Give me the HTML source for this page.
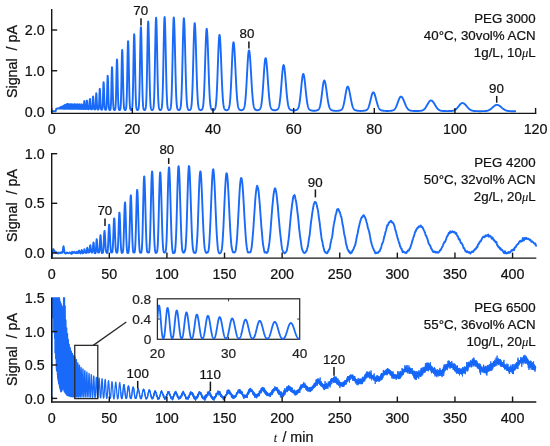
<!DOCTYPE html>
<html lang="en"><head><meta charset="utf-8"><title>PEG chromatograms</title>
<style>html,body{margin:0;padding:0;background:#fff}svg{display:block}</style></head>
<body>
<svg width="550" height="446" viewBox="0 0 550 446" font-family='"Liberation Sans", sans-serif'>
<rect width="550" height="446" fill="#fff"/>
<polyline fill="none" stroke="#196af8" stroke-width="1.90" stroke-linejoin="round" stroke-linecap="round" points="51.70,111.34 51.85,111.33 52.00,111.33 52.15,111.33 52.30,111.32 52.45,111.32 52.60,111.32 52.75,111.32 52.90,111.31 53.05,111.31 53.20,111.31 53.35,111.30 53.50,111.30 53.65,111.30 53.80,111.29 53.95,111.29 54.10,111.29 54.25,111.29 54.40,111.28 54.55,111.28 54.70,111.28 54.85,111.27 55.00,111.27 55.15,111.27 55.30,111.26 55.45,111.26 55.60,111.26 55.75,111.04 55.90,110.39 56.05,109.73 56.20,109.08 56.35,108.64 56.50,108.63 56.65,108.62 56.80,108.61 56.95,108.60 57.10,108.52 57.25,108.58 57.40,108.57 57.55,108.57 57.70,108.53 57.85,108.44 58.00,108.51 58.15,108.58 58.30,108.59 58.45,108.59 58.60,108.47 58.75,108.20 58.90,108.41 59.05,108.60 59.20,108.62 59.35,108.61 59.50,108.34 59.65,107.76 59.80,108.19 59.95,108.61 60.10,108.65 60.25,108.63 60.40,108.21 60.55,107.31 60.70,107.97 60.85,108.61 61.00,108.66 61.15,108.63 61.30,108.07 61.45,106.86 61.60,107.74 61.75,108.60 61.90,108.68 62.05,108.64 62.20,107.93 62.35,106.40 62.50,107.52 62.65,108.60 62.80,108.69 62.95,108.65 63.10,107.79 63.25,105.95 63.40,107.29 63.55,108.59 63.70,108.71 63.85,108.65 64.00,107.65 64.15,105.49 64.30,107.06 64.45,108.59 64.60,108.72 64.75,108.66 64.90,107.51 65.05,105.04 65.20,106.84 65.35,108.59 65.50,108.74 65.65,108.67 65.80,107.37 65.95,104.58 66.10,106.61 66.25,108.58 66.40,108.75 66.55,108.67 66.70,107.23 66.85,104.13 67.00,106.38 67.15,108.58 67.30,108.77 67.45,108.69 67.60,107.22 67.75,104.07 67.90,106.36 68.05,108.59 68.20,108.79 68.35,108.70 68.50,107.24 68.65,104.09 68.80,106.27 68.95,108.57 69.10,108.80 69.25,108.75 69.40,107.71 69.55,104.42 69.70,105.30 69.85,108.13 70.00,108.77 70.15,108.82 70.30,108.66 70.45,107.04 70.60,104.19 70.75,105.42 70.90,108.03 71.05,108.77 71.20,108.84 71.35,108.78 71.50,108.15 71.65,105.64 71.80,104.12 71.95,106.15 72.10,108.25 72.25,108.79 72.40,108.86 72.55,108.82 72.70,108.49 72.85,106.76 73.00,104.36 73.15,104.73 73.30,107.04 73.45,108.51 73.60,108.83 73.75,108.88 73.90,108.85 74.05,108.63 74.20,107.43 74.35,105.11 74.50,104.17 74.65,105.71 74.80,107.73 74.95,108.67 75.10,108.87 75.25,108.91 75.40,108.88 75.55,108.73 75.70,107.92 75.85,106.00 76.00,104.28 76.15,104.65 76.30,106.47 76.45,108.08 76.60,108.75 76.75,108.90 76.90,108.93 77.05,108.92 77.20,108.83 77.35,108.37 77.50,107.03 77.65,105.11 77.80,104.18 77.95,105.03 78.10,106.76 78.25,108.15 78.40,108.76 78.55,108.92 78.70,108.96 78.85,108.96 79.00,108.92 79.15,108.74 79.30,108.07 79.45,106.62 79.60,104.92 79.75,104.22 79.90,104.97 80.05,106.50 80.20,107.89 80.35,108.65 80.50,108.91 80.65,108.98 80.80,109.00 80.95,108.99 81.10,108.94 81.25,108.76 81.40,108.18 81.55,106.95 81.70,105.37 81.85,104.33 82.00,104.50 82.15,105.63 82.30,107.06 82.45,108.17 82.60,108.74 82.75,108.95 82.90,109.01 83.05,109.04 83.20,109.03 83.35,108.98 83.50,108.83 83.65,108.31 83.80,107.04 83.95,104.89 84.10,102.49 84.25,101.01 84.40,101.28 84.55,102.97 84.70,105.23 84.85,107.17 85.00,108.34 85.15,108.85 85.30,109.03 85.45,109.09 85.60,109.12 85.75,109.10 85.90,109.04 86.05,108.87 86.20,108.34 86.35,107.11 86.50,105.06 86.65,102.67 86.80,100.88 86.95,100.57 87.10,101.63 87.25,103.53 87.40,105.61 87.55,107.30 87.70,108.36 87.85,108.88 88.00,109.09 88.15,109.18 88.30,109.22 88.45,109.23 88.60,109.20 88.75,109.14 88.90,108.96 89.05,108.51 89.20,107.49 89.35,105.72 89.50,103.33 89.65,100.89 89.80,99.22 89.95,98.95 90.10,100.07 90.25,102.14 90.40,104.51 90.55,106.56 90.70,107.97 90.85,108.75 91.00,109.10 91.15,109.25 91.30,109.31 91.45,109.35 91.60,109.34 91.75,109.30 91.90,109.21 92.05,108.98 92.20,108.41 92.35,107.21 92.50,105.19 92.65,102.45 92.80,99.53 92.95,97.27 93.10,96.42 93.25,97.29 93.40,99.56 93.55,102.48 93.70,105.23 93.85,107.27 94.00,108.48 94.15,109.06 94.30,109.30 94.45,109.41 94.60,109.46 94.75,109.47 94.90,109.44 95.05,109.35 95.20,109.13 95.35,108.59 95.50,107.39 95.65,105.19 95.80,101.98 95.95,98.27 96.10,95.03 96.25,93.28 96.40,93.58 96.55,95.58 96.70,98.69 96.85,102.09 97.00,105.05 97.15,107.18 97.30,108.46 97.45,109.09 97.60,109.38 97.75,109.51 97.90,109.58 98.05,109.61 98.20,109.58 98.35,109.51 98.50,109.36 98.65,109.00 98.80,108.20 98.95,106.58 99.10,103.86 99.25,100.08 99.40,95.73 99.55,91.76 99.70,89.20 99.85,88.79 100.00,90.42 100.15,93.59 100.30,97.54 100.45,101.45 100.60,104.70 100.75,106.99 100.90,108.38 101.05,109.10 101.20,109.44 101.35,109.61 101.50,109.70 101.65,109.74 101.80,109.74 101.95,109.68 102.10,109.54 102.25,109.28 102.40,108.72 102.55,107.53 102.70,105.35 102.85,101.90 103.00,97.28 103.15,92.01 103.30,87.04 103.45,83.46 103.60,82.16 103.75,83.29 103.90,86.42 104.05,90.89 104.20,95.81 104.35,100.39 104.50,104.06 104.65,106.64 104.80,108.21 104.95,109.06 105.10,109.49 105.25,109.70 105.40,109.82 105.55,109.89 105.70,109.90 105.85,109.85 106.00,109.74 106.15,109.54 106.30,109.14 106.45,108.31 106.60,106.71 106.75,103.97 106.90,99.87 107.05,94.52 107.20,88.46 107.35,82.62 107.50,78.08 107.65,75.80 107.80,76.21 107.95,79.08 108.10,83.80 108.25,89.50 108.40,95.24 108.55,100.26 108.70,104.12 108.85,106.75 109.00,108.33 109.15,109.18 109.30,109.61 109.45,109.84 109.60,109.98 109.75,110.05 109.90,110.07 110.05,110.01 110.20,109.88 110.35,109.65 110.50,109.22 110.65,108.37 110.80,106.75 110.95,103.95 111.10,99.65 111.25,93.82 111.40,86.85 111.55,79.58 111.70,73.13 111.85,68.68 112.00,67.08 112.15,68.27 112.30,71.64 112.45,76.70 112.60,82.75 112.75,89.02 112.90,94.84 113.05,99.75 113.20,103.52 113.35,106.15 113.50,107.84 113.65,108.83 113.80,109.39 113.95,109.70 114.10,109.89 114.25,110.01 114.40,110.07 114.55,110.08 114.70,110.02 114.85,109.91 115.00,109.72 115.15,109.41 115.30,108.88 115.45,107.90 115.60,106.22 115.75,103.51 115.90,99.53 116.05,94.17 116.20,87.61 116.35,80.31 116.50,72.98 116.65,66.52 116.80,61.80 116.95,59.50 117.10,59.92 117.25,62.86 117.40,67.89 117.55,74.35 117.70,81.45 117.85,88.42 118.00,94.63 118.15,99.71 118.30,103.52 118.45,106.14 118.60,107.81 118.75,108.79 118.90,109.35 119.05,109.68 119.20,109.88 119.35,110.00 119.50,110.07 119.65,110.08 119.80,110.02 119.95,109.90 120.10,109.69 120.25,109.37 120.40,108.82 120.55,107.85 120.70,106.18 120.85,103.49 121.00,99.46 121.15,93.95 121.30,87.00 121.45,78.98 121.60,70.52 121.75,62.51 121.90,55.88 122.05,51.50 122.20,49.97 122.35,51.16 122.50,54.61 122.65,59.94 122.80,66.61 122.95,73.96 123.10,81.37 123.25,88.27 123.40,94.27 123.55,99.14 123.70,102.85 123.85,105.49 124.00,107.25 124.15,108.37 124.30,109.05 124.45,109.46 124.60,109.73 124.75,109.90 124.90,110.02 125.05,110.08 125.20,110.09 125.35,110.04 125.50,109.93 125.65,109.75 125.80,109.48 125.95,109.08 126.10,108.42 126.25,107.33 126.40,105.58 126.55,102.91 126.70,99.08 126.85,93.93 127.00,87.45 127.15,79.82 127.30,71.44 127.45,62.89 127.60,54.88 127.75,48.16 127.90,43.42 128.05,41.16 128.20,41.58 128.35,44.51 128.50,49.66 128.65,56.51 128.80,64.42 128.95,72.71 129.10,80.75 129.25,88.03 129.40,94.22 129.55,99.15 129.70,102.86 129.85,105.48 130.00,107.22 130.15,108.32 130.30,109.01 130.45,109.43 130.60,109.71 130.75,109.89 130.90,110.02 131.05,110.09 131.20,110.10 131.35,110.04 131.50,109.93 131.65,109.75 131.80,109.48 131.95,109.08 132.10,108.44 132.25,107.40 132.40,105.75 132.55,103.22 132.70,99.56 132.85,94.59 133.00,88.23 133.15,80.59 133.30,71.97 133.45,62.87 133.60,53.94 133.75,45.94 133.90,39.58 134.05,35.49 134.20,34.08 134.35,35.25 134.50,38.66 134.65,44.04 134.80,50.93 134.95,58.81 135.10,67.10 135.25,75.28 135.40,82.88 135.55,89.58 135.70,95.18 135.85,99.63 136.00,102.99 136.15,105.41 136.30,107.06 136.45,108.14 136.60,108.84 136.75,109.30 136.90,109.60 137.05,109.81 137.20,109.96 137.35,110.06 137.50,110.10 137.65,110.09 137.80,110.03 137.95,109.90 138.10,109.72 138.25,109.46 138.40,109.08 138.55,108.51 138.70,107.63 138.85,106.26 139.00,104.21 139.15,101.25 139.30,97.20 139.45,91.92 139.60,85.40 139.75,77.73 139.90,69.18 140.05,60.16 140.20,51.19 140.35,42.88 140.50,35.85 140.65,30.65 140.80,27.72 140.95,27.27 141.10,29.06 141.25,32.86 141.40,38.42 141.55,45.35 141.70,53.20 141.85,61.49 142.00,69.75 142.15,77.58 142.30,84.68 142.45,90.83 142.60,95.93 142.75,99.98 142.90,103.06 143.05,105.31 143.20,106.89 143.35,107.97 143.50,108.68 143.65,109.16 143.80,109.49 143.95,109.73 144.10,109.90 144.25,110.02 144.40,110.09 144.55,110.12 144.70,110.09 144.85,110.01 145.00,109.88 145.15,109.70 145.30,109.45 145.45,109.10 145.60,108.59 145.75,107.82 145.90,106.67 146.05,104.99 146.20,102.58 146.35,99.29 146.50,94.96 146.65,89.51 146.80,82.93 146.95,75.35 147.10,66.98 147.25,58.14 147.40,49.29 147.55,40.90 147.70,33.49 147.85,27.55 148.00,23.48 148.15,21.57 148.30,21.88 148.45,24.15 148.60,28.23 148.75,33.87 148.90,40.74 149.05,48.45 149.20,56.60 149.35,64.81 149.50,72.70 149.65,80.01 149.80,86.51 149.95,92.09 150.10,96.70 150.25,100.37 150.40,103.19 150.55,105.27 150.70,106.77 150.85,107.82 151.00,108.54 151.15,109.03 151.30,109.38 151.45,109.64 151.60,109.83 151.75,109.97 151.90,110.06 152.05,110.11 152.20,110.12 152.35,110.08 152.50,110.00 152.65,109.87 152.80,109.69 152.95,109.45 153.10,109.13 153.25,108.67 153.40,108.01 153.55,107.05 153.70,105.66 153.85,103.70 154.00,101.04 154.15,97.52 154.30,93.06 154.45,87.59 154.60,81.13 154.75,73.78 154.90,65.73 155.05,57.25 155.20,48.70 155.35,40.47 155.50,32.98 155.65,26.64 155.80,21.82 155.95,18.80 156.10,17.78 156.25,18.66 156.40,21.28 156.55,25.48 156.70,31.05 156.85,37.72 157.00,45.15 157.15,53.02 157.30,60.98 157.45,68.73 157.60,76.02 157.75,82.66 157.90,88.49 158.05,93.47 158.20,97.58 158.35,100.86 158.50,103.41 158.65,105.32 158.80,106.72 158.95,107.73 159.10,108.43 159.25,108.93 159.40,109.29 159.55,109.56 159.70,109.76 159.85,109.91 160.00,110.03 160.15,110.10 160.30,110.13 160.45,110.13 160.60,110.08 160.75,109.99 160.90,109.87 161.05,109.70 161.20,109.47 161.35,109.18 161.50,108.78 161.65,108.21 161.80,107.41 161.95,106.28 162.10,104.70 162.25,102.57 162.40,99.77 162.55,96.18 162.70,91.75 162.85,86.44 163.00,80.27 163.15,73.34 163.30,65.80 163.45,57.88 163.60,49.84 163.75,42.01 163.90,34.73 164.05,28.34 164.20,23.15 164.35,19.43 164.50,17.36 164.65,17.05 164.80,18.32 164.95,21.05 165.10,25.13 165.25,30.38 165.40,36.56 165.55,43.43 165.70,50.71 165.85,58.14 166.00,65.47 166.15,72.47 166.30,78.97 166.45,84.85 166.60,90.01 166.75,94.41 166.90,98.08 167.05,101.05 167.20,103.39 167.35,105.19 167.50,106.54 167.65,107.53 167.80,108.25 167.95,108.77 168.10,109.15 168.25,109.44 168.40,109.65 168.55,109.82 168.70,109.96 168.85,110.05 169.00,110.11 169.15,110.14 169.30,110.14 169.45,110.10 169.60,110.02 169.75,109.92 169.90,109.78 170.05,109.59 170.20,109.35 170.35,109.04 170.50,108.62 170.65,108.04 170.80,107.25 170.95,106.15 171.10,104.67 171.25,102.71 171.40,100.18 171.55,97.00 171.70,93.11 171.85,88.47 172.00,83.09 172.15,77.02 172.30,70.36 172.45,63.26 172.60,55.90 172.75,48.53 172.90,41.39 173.05,34.74 173.20,28.87 173.35,24.01 173.50,20.38 173.65,18.13 173.80,17.37 173.95,18.00 174.10,19.87 174.25,22.91 174.40,27.01 174.55,32.02 174.70,37.76 174.85,44.03 175.00,50.64 175.15,57.37 175.30,64.05 175.45,70.50 175.60,76.58 175.75,82.17 175.90,87.21 176.05,91.63 176.20,95.44 176.35,98.64 176.50,101.27 176.65,103.38 176.80,105.04 176.95,106.32 177.10,107.29 177.25,108.02 177.40,108.56 177.55,108.97 177.70,109.27 177.85,109.51 178.00,109.70 178.15,109.85 178.30,109.97 178.45,110.06 178.60,110.12 178.75,110.15 178.90,110.15 179.05,110.13 179.20,110.08 179.35,110.00 179.50,109.90 179.65,109.76 179.80,109.59 179.95,109.37 180.10,109.09 180.25,108.73 180.40,108.24 180.55,107.58 180.70,106.71 180.85,105.55 181.00,104.04 181.15,102.10 181.30,99.67 181.45,96.69 181.60,93.13 181.75,88.94 181.90,84.15 182.05,78.78 182.20,72.91 182.35,66.62 182.50,60.06 182.65,53.38 182.80,46.77 182.95,40.42 183.10,34.53 183.25,29.31 183.40,24.92 183.55,21.55 183.70,19.29 183.85,18.25 184.00,18.43 184.15,19.70 184.30,22.02 184.45,25.30 184.60,29.46 184.75,34.34 184.90,39.81 185.05,45.71 185.20,51.86 185.35,58.11 185.50,64.30 185.65,70.30 185.80,75.98 185.95,81.26 186.10,86.06 186.25,90.35 186.40,94.09 186.55,97.31 186.70,100.01 186.85,102.23 187.00,104.03 187.15,105.46 187.30,106.58 187.45,107.44 187.60,108.09 187.75,108.59 187.90,108.97 188.05,109.26 188.20,109.49 188.35,109.67 188.50,109.82 188.65,109.94 188.80,110.03 188.95,110.10 189.10,110.15 189.25,110.17 189.40,110.16 189.55,110.14 189.70,110.09 189.85,110.01 190.00,109.92 190.15,109.80 190.30,109.65 190.45,109.46 190.60,109.23 190.75,108.93 190.90,108.53 191.05,108.02 191.20,107.34 191.35,106.45 191.50,105.30 191.65,103.84 191.80,102.00 191.95,99.75 192.10,97.04 192.25,93.83 192.40,90.11 192.55,85.88 192.70,81.18 192.85,76.05 193.00,70.55 193.15,64.80 193.30,58.91 193.45,53.00 193.60,47.24 193.75,41.78 193.90,36.76 194.05,32.35 194.20,28.68 194.35,25.86 194.50,23.99 194.65,23.13 194.80,23.26 194.95,24.24 195.10,26.02 195.25,28.57 195.40,31.82 195.55,35.68 195.70,40.05 195.85,44.83 196.00,49.91 196.15,55.16 196.30,60.49 196.45,65.78 196.60,70.93 196.75,75.87 196.90,80.53 197.05,84.83 197.20,88.76 197.35,92.28 197.50,95.39 197.65,98.09 197.80,100.40 197.95,102.34 198.10,103.95 198.25,105.27 198.40,106.32 198.55,107.16 198.70,107.82 198.85,108.34 199.00,108.74 199.15,109.06 199.30,109.31 199.45,109.51 199.60,109.67 199.75,109.80 199.90,109.92 200.05,110.01 200.20,110.08 200.35,110.13 200.50,110.17 200.65,110.18 200.80,110.18 200.95,110.16 201.10,110.12 201.25,110.07 201.40,109.99 201.55,109.90 201.70,109.79 201.85,109.66 202.00,109.49 202.15,109.29 202.30,109.04 202.45,108.72 202.60,108.31 202.75,107.79 202.90,107.12 203.05,106.27 203.20,105.21 203.35,103.90 203.50,102.29 203.65,100.37 203.80,98.09 203.95,95.44 204.10,92.41 204.25,88.99 204.40,85.19 204.55,81.06 204.70,76.61 204.85,71.92 205.00,67.05 205.15,62.09 205.30,57.12 205.45,52.25 205.60,47.59 205.75,43.23 205.90,39.30 206.05,35.87 206.20,33.05 206.35,30.90 206.50,29.48 206.65,28.82 206.80,28.93 206.95,29.73 207.10,31.21 207.25,33.31 207.40,36.01 207.55,39.22 207.70,42.89 207.85,46.93 208.00,51.26 208.15,55.79 208.30,60.43 208.45,65.10 208.60,69.71 208.75,74.20 208.90,78.50 209.05,82.56 209.20,86.34 209.35,89.81 209.50,92.95 209.65,95.74 209.80,98.20 209.95,100.33 210.10,102.15 210.25,103.69 210.40,104.97 210.55,106.02 210.70,106.87 210.85,107.55 211.00,108.10 211.15,108.53 211.30,108.88 211.45,109.15 211.60,109.37 211.75,109.55 211.90,109.69 212.05,109.82 212.20,109.92 212.35,110.00 212.50,110.07 212.65,110.13 212.80,110.17 212.95,110.19 213.10,110.20 213.25,110.19 213.40,110.17 213.55,110.13 213.70,110.08 213.85,110.02 214.00,109.94 214.15,109.85 214.30,109.73 214.45,109.60 214.60,109.43 214.75,109.23 214.90,108.98 215.05,108.66 215.20,108.26 215.35,107.76 215.50,107.13 215.65,106.34 215.80,105.37 215.95,104.18 216.10,102.76 216.25,101.08 216.40,99.11 216.55,96.83 216.70,94.25 216.85,91.35 217.00,88.14 217.15,84.64 217.30,80.89 217.45,76.91 217.60,72.75 217.75,68.48 217.90,64.17 218.05,59.87 218.20,55.69 218.35,51.68 218.50,47.94 218.65,44.55 218.80,41.57 218.95,39.08 219.10,37.14 219.25,35.77 219.40,35.03 219.55,34.92 219.70,35.37 219.85,36.34 220.00,37.81 220.15,39.77 220.30,42.16 220.45,44.95 220.60,48.08 220.75,51.50 220.90,55.14 221.05,58.95 221.20,62.86 221.35,66.80 221.50,70.74 221.65,74.60 221.80,78.34 221.95,81.92 222.10,85.30 222.25,88.46 222.40,91.38 222.55,94.04 222.70,96.44 222.85,98.58 223.00,100.46 223.15,102.10 223.30,103.51 223.45,104.71 223.60,105.71 223.75,106.55 223.90,107.24 224.05,107.81 224.20,108.26 224.35,108.64 224.50,108.94 224.65,109.18 224.80,109.38 224.95,109.54 225.10,109.68 225.25,109.79 225.40,109.89 225.55,109.97 225.70,110.04 225.85,110.10 226.00,110.15 226.15,110.18 226.30,110.20 226.45,110.21 226.60,110.21 226.75,110.20 226.90,110.18 227.05,110.14 227.20,110.10 227.35,110.04 227.50,109.98 227.65,109.90 227.80,109.80 227.95,109.69 228.10,109.56 228.25,109.41 228.40,109.22 228.55,108.98 228.70,108.69 228.85,108.33 229.00,107.89 229.15,107.34 229.30,106.68 229.45,105.87 229.60,104.91 229.75,103.76 229.90,102.43 230.05,100.88 230.20,99.10 230.35,97.09 230.50,94.85 230.65,92.37 230.80,89.66 230.95,86.74 231.10,83.62 231.25,80.33 231.40,76.92 231.55,73.40 231.70,69.85 231.85,66.29 232.00,62.78 232.15,59.39 232.30,56.16 232.45,53.16 232.60,50.43 232.75,48.03 232.90,45.99 233.05,44.37 233.20,43.19 233.35,42.47 233.50,42.23 233.65,42.42 233.80,43.01 233.95,43.98 234.10,45.32 234.25,47.00 234.40,48.99 234.55,51.28 234.70,53.82 234.85,56.57 235.00,59.50 235.15,62.57 235.30,65.72 235.45,68.93 235.60,72.15 235.75,75.34 235.90,78.48 236.05,81.52 236.20,84.45 236.35,87.23 236.50,89.85 236.65,92.29 236.80,94.55 236.95,96.62 237.10,98.49 237.25,100.17 237.40,101.66 237.55,102.98 237.70,104.13 237.85,105.12 238.00,105.97 238.15,106.69 238.30,107.29 238.45,107.80 238.60,108.22 238.75,108.57 238.90,108.86 239.05,109.10 239.20,109.29 239.35,109.46 239.50,109.60 239.65,109.71 239.80,109.81 239.95,109.90 240.10,109.97 240.25,110.04 240.40,110.09 240.55,110.13 240.70,110.17 240.85,110.20 241.00,110.22 241.15,110.23 241.30,110.23 241.45,110.22 241.60,110.21 241.75,110.19 241.90,110.16 242.05,110.12 242.20,110.08 242.35,110.02 242.50,109.96 242.65,109.89 242.80,109.81 242.95,109.71 243.10,109.60 243.25,109.46 243.40,109.30 243.55,109.10 243.70,108.87 243.85,108.58 244.00,108.23 244.15,107.81 244.30,107.31 244.45,106.71 244.60,106.00 244.75,105.17 244.90,104.21 245.05,103.10 245.20,101.84 245.35,100.41 245.50,98.82 245.65,97.06 245.80,95.13 245.95,93.03 246.10,90.77 246.25,88.37 246.40,85.84 246.55,83.19 246.70,80.46 246.85,77.66 247.00,74.83 247.15,72.00 247.30,69.20 247.45,66.47 247.60,63.85 247.75,61.37 247.90,59.07 248.05,56.98 248.20,55.13 248.35,53.55 248.50,52.28 248.65,51.31 248.80,50.68 248.95,50.39 249.10,50.44 249.25,50.79 249.40,51.44 249.55,52.38 249.70,53.59 249.85,55.06 250.00,56.77 250.15,58.69 250.30,60.80 250.45,63.07 250.60,65.48 250.75,67.99 250.90,70.58 251.05,73.21 251.20,75.86 251.35,78.49 251.50,81.09 251.65,83.63 251.80,86.09 251.95,88.45 252.10,90.70 252.25,92.81 252.40,94.79 252.55,96.63 252.70,98.32 252.85,99.86 253.00,101.25 253.15,102.50 253.30,103.61 253.45,104.59 253.60,105.44 253.75,106.19 253.90,106.83 254.05,107.37 254.20,107.84 254.35,108.23 254.50,108.56 254.65,108.84 254.80,109.07 254.95,109.26 255.10,109.42 255.25,109.56 255.40,109.67 255.55,109.77 255.70,109.86 255.85,109.93 256.00,110.00 256.15,110.05 256.30,110.10 256.45,110.14 256.60,110.18 256.75,110.20 256.90,110.23 257.05,110.24 257.20,110.25 257.35,110.25 257.50,110.25 257.65,110.23 257.80,110.22 257.95,110.20 258.10,110.17 258.25,110.13 258.40,110.09 258.55,110.05 258.70,110.00 258.85,109.94 259.00,109.87 259.15,109.79 259.30,109.70 259.45,109.60 259.60,109.47 259.75,109.33 259.90,109.16 260.05,108.95 260.20,108.71 260.35,108.42 260.50,108.08 260.65,107.67 260.80,107.19 260.95,106.63 261.10,105.99 261.25,105.24 261.40,104.38 261.55,103.41 261.70,102.32 261.85,101.10 262.00,99.74 262.15,98.26 262.30,96.64 262.45,94.89 262.60,93.01 262.75,91.02 262.90,88.93 263.05,86.74 263.20,84.48 263.35,82.17 263.50,79.82 263.65,77.46 263.80,75.12 263.95,72.83 264.10,70.60 264.25,68.48 264.40,66.49 264.55,64.66 264.70,63.01 264.85,61.56 265.00,60.35 265.15,59.39 265.30,58.69 265.45,58.26 265.60,58.12 265.75,58.24 265.90,58.60 266.05,59.21 266.20,60.04 266.35,61.10 266.50,62.36 266.65,63.82 266.80,65.45 266.95,67.23 267.10,69.15 267.25,71.18 267.40,73.30 267.55,75.48 267.70,77.70 267.85,79.94 268.00,82.18 268.15,84.38 268.30,86.54 268.45,88.64 268.60,90.66 268.75,92.59 268.90,94.41 269.05,96.12 269.20,97.72 269.35,99.19 269.50,100.54 269.65,101.76 269.80,102.87 269.95,103.86 270.10,104.74 270.25,105.51 270.40,106.19 270.55,106.78 270.70,107.29 270.85,107.72 271.00,108.09 271.15,108.41 271.30,108.67 271.45,108.90 271.60,109.09 271.75,109.25 271.90,109.39 272.05,109.51 272.20,109.61 272.35,109.70 272.50,109.78 272.65,109.85 272.80,109.91 272.95,109.97 273.10,110.02 273.25,110.07 273.40,110.11 273.55,110.15 273.70,110.18 273.85,110.21 274.00,110.23 274.15,110.25 274.30,110.26 274.45,110.27 274.60,110.27 274.75,110.27 274.90,110.26 275.05,110.25 275.20,110.24 275.35,110.22 275.50,110.19 275.65,110.17 275.80,110.14 275.95,110.10 276.10,110.06 276.25,110.01 276.40,109.97 276.55,109.91 276.70,109.85 276.85,109.79 277.00,109.71 277.15,109.63 277.30,109.53 277.45,109.42 277.60,109.30 277.75,109.15 277.90,108.98 278.05,108.77 278.20,108.54 278.35,108.25 278.50,107.93 278.65,107.54 278.80,107.09 278.95,106.58 279.10,105.98 279.25,105.30 279.40,104.53 279.55,103.66 279.70,102.68 279.85,101.60 280.00,100.41 280.15,99.12 280.30,97.71 280.45,96.19 280.60,94.58 280.75,92.86 280.90,91.07 281.05,89.20 281.20,87.27 281.35,85.30 281.50,83.31 281.65,81.31 281.80,79.33 281.95,77.40 282.10,75.52 282.25,73.74 282.40,72.06 282.55,70.52 282.70,69.14 282.85,67.93 283.00,66.91 283.15,66.10 283.30,65.52 283.45,65.16 283.60,65.04 283.75,65.15 283.90,65.45 284.05,65.95 284.20,66.64 284.35,67.51 284.50,68.55 284.65,69.75 284.80,71.10 284.95,72.58 285.10,74.17 285.25,75.85 285.40,77.62 285.55,79.43 285.70,81.29 285.85,83.17 286.00,85.04 286.15,86.91 286.30,88.74 286.45,90.52 286.60,92.25 286.75,93.91 286.90,95.48 287.05,96.97 287.20,98.37 287.35,99.67 287.50,100.88 287.65,101.98 287.80,102.98 287.95,103.89 288.10,104.71 288.25,105.43 288.40,106.08 288.55,106.64 288.70,107.14 288.85,107.57 289.00,107.94 289.15,108.26 289.30,108.54 289.45,108.78 289.60,108.98 289.75,109.16 289.90,109.31 290.05,109.44 290.20,109.55 290.35,109.65 290.50,109.74 290.65,109.82 290.80,109.89 290.95,109.95 291.10,110.01 291.25,110.07 291.40,110.12 291.55,110.17 291.70,110.22 291.85,110.26 292.00,110.29 292.15,110.33 292.30,110.36 292.45,110.39 292.60,110.41 292.75,110.43 292.90,110.45 293.05,110.46 293.20,110.47 293.35,110.48 293.50,110.48 293.65,110.48 293.80,110.48 293.95,110.47 294.10,110.47 294.25,110.45 294.40,110.44 294.55,110.42 294.70,110.40 294.85,110.38 295.00,110.35 295.15,110.32 295.30,110.29 295.45,110.26 295.60,110.22 295.75,110.18 295.90,110.14 296.05,110.10 296.20,110.05 296.35,109.99 296.50,109.93 296.65,109.86 296.80,109.78 296.95,109.70 297.10,109.60 297.25,109.48 297.40,109.35 297.55,109.19 297.70,109.01 297.85,108.80 298.00,108.55 298.15,108.27 298.30,107.94 298.45,107.56 298.60,107.12 298.75,106.62 298.90,106.05 299.05,105.42 299.20,104.71 299.35,103.92 299.50,103.04 299.65,102.09 299.80,101.05 299.95,99.93 300.10,98.72 300.25,97.45 300.40,96.10 300.55,94.69 300.70,93.22 300.85,91.71 301.00,90.17 301.15,88.61 301.30,87.05 301.45,85.50 301.60,83.99 301.75,82.52 301.90,81.12 302.05,79.80 302.20,78.58 302.35,77.47 302.50,76.50 302.65,75.67 302.80,75.00 302.95,74.50 303.10,74.17 303.25,74.02 303.40,74.05 303.55,74.24 303.70,74.59 303.85,75.09 304.00,75.74 304.15,76.53 304.30,77.46 304.45,78.50 304.60,79.65 304.75,80.90 304.90,82.23 305.05,83.62 305.20,85.06 305.35,86.54 305.50,88.04 305.65,89.55 305.80,91.04 305.95,92.52 306.10,93.96 306.25,95.36 306.40,96.71 306.55,97.99 306.70,99.21 306.85,100.36 307.00,101.43 307.15,102.42 307.30,103.34 307.45,104.17 307.60,104.93 307.75,105.62 307.90,106.23 308.05,106.78 308.20,107.26 308.35,107.69 308.50,108.06 308.65,108.39 308.80,108.67 308.95,108.91 309.10,109.12 309.25,109.30 309.40,109.46 309.55,109.59 309.70,109.71 309.85,109.81 310.00,109.90 310.15,109.98 310.30,110.06 310.45,110.12 310.60,110.18 310.75,110.24 310.90,110.29 311.05,110.34 311.20,110.38 311.35,110.43 311.50,110.47 311.65,110.50 311.80,110.54 311.95,110.57 312.10,110.61 312.25,110.63 312.40,110.66 312.55,110.69 312.70,110.71 312.85,110.73 313.00,110.75 313.15,110.76 313.30,110.77 313.45,110.78 313.60,110.79 313.75,110.79 313.90,110.80 314.05,110.79 314.20,110.79 314.35,110.79 314.50,110.78 314.65,110.77 314.80,110.76 314.95,110.75 315.10,110.73 315.25,110.72 315.40,110.70 315.55,110.68 315.70,110.66 315.85,110.63 316.00,110.61 316.15,110.58 316.30,110.55 316.45,110.51 316.60,110.48 316.75,110.44 316.90,110.40 317.05,110.36 317.20,110.31 317.35,110.26 317.50,110.21 317.65,110.14 317.80,110.07 317.95,109.99 318.10,109.89 318.25,109.78 318.40,109.65 318.55,109.51 318.70,109.33 318.85,109.13 319.00,108.90 319.15,108.64 319.30,108.33 319.45,107.98 319.60,107.58 319.75,107.13 319.90,106.62 320.05,106.06 320.20,105.43 320.35,104.74 320.50,103.98 320.65,103.15 320.80,102.27 320.95,101.31 321.10,100.30 321.25,99.23 321.40,98.11 321.55,96.95 321.70,95.74 321.85,94.51 322.00,93.26 322.15,92.01 322.30,90.76 322.45,89.53 322.60,88.32 322.75,87.16 322.90,86.06 323.05,85.02 323.20,84.07 323.35,83.21 323.50,82.46 323.65,81.81 323.80,81.30 323.95,80.91 324.10,80.65 324.25,80.54 324.40,80.56 324.55,80.69 324.70,80.93 324.85,81.28 325.00,81.73 325.15,82.29 325.30,82.94 325.45,83.67 325.60,84.49 325.75,85.38 325.90,86.33 326.05,87.33 326.20,88.38 326.35,89.46 326.50,90.57 326.65,91.70 326.80,92.83 326.95,93.95 327.10,95.07 327.25,96.17 327.40,97.24 327.55,98.29 327.70,99.29 327.85,100.25 328.00,101.17 328.15,102.04 328.30,102.86 328.45,103.63 328.60,104.34 328.75,105.00 328.90,105.60 329.05,106.16 329.20,106.67 329.35,107.12 329.50,107.54 329.65,107.91 329.80,108.24 329.95,108.53 330.10,108.79 330.25,109.02 330.40,109.22 330.55,109.39 330.70,109.55 330.85,109.68 331.00,109.80 331.15,109.91 331.30,110.00 331.45,110.08 331.60,110.15 331.75,110.21 331.90,110.27 332.05,110.32 332.20,110.37 332.35,110.41 332.50,110.46 332.65,110.49 332.80,110.53 332.95,110.56 333.10,110.60 333.25,110.63 333.40,110.66 333.55,110.68 333.70,110.71 333.85,110.73 334.00,110.76 334.15,110.78 334.30,110.80 334.45,110.82 334.60,110.83 334.75,110.85 334.90,110.86 335.05,110.87 335.20,110.88 335.35,110.89 335.50,110.90 335.65,110.90 335.80,110.91 335.95,110.91 336.10,110.91 336.25,110.91 336.40,110.90 336.55,110.90 336.70,110.89 336.85,110.89 337.00,110.88 337.15,110.87 337.30,110.86 337.45,110.85 337.60,110.83 337.75,110.82 337.90,110.80 338.05,110.79 338.20,110.77 338.35,110.75 338.50,110.73 338.65,110.70 338.80,110.68 338.95,110.66 339.10,110.63 339.25,110.60 339.40,110.57 339.55,110.54 339.70,110.51 339.85,110.48 340.00,110.44 340.15,110.39 340.30,110.35 340.45,110.29 340.60,110.24 340.75,110.17 340.90,110.10 341.05,110.01 341.20,109.91 341.35,109.80 341.50,109.68 341.65,109.53 341.80,109.37 341.95,109.18 342.10,108.97 342.25,108.73 342.40,108.46 342.55,108.16 342.70,107.82 342.85,107.45 343.00,107.03 343.15,106.58 343.30,106.09 343.45,105.55 343.60,104.97 343.75,104.35 343.90,103.69 344.05,102.98 344.20,102.24 344.35,101.46 344.50,100.65 344.65,99.81 344.80,98.94 344.95,98.06 345.10,97.16 345.25,96.25 345.40,95.34 345.55,94.45 345.70,93.56 345.85,92.70 346.00,91.86 346.15,91.07 346.30,90.32 346.45,89.62 346.60,88.98 346.75,88.41 346.90,87.91 347.05,87.49 347.20,87.14 347.35,86.89 347.50,86.72 347.65,86.65 347.80,86.66 347.95,86.75 348.10,86.91 348.25,87.15 348.40,87.46 348.55,87.84 348.70,88.29 348.85,88.79 349.00,89.36 349.15,89.97 349.30,90.63 349.45,91.34 349.60,92.08 349.75,92.85 349.90,93.64 350.05,94.46 350.20,95.28 350.35,96.11 350.50,96.94 350.65,97.77 350.80,98.59 350.95,99.39 351.10,100.18 351.25,100.94 351.40,101.68 351.55,102.38 351.70,103.06 351.85,103.71 352.00,104.32 352.15,104.89 352.30,105.43 352.45,105.94 352.60,106.40 352.75,106.83 352.90,107.23 353.05,107.60 353.20,107.93 353.35,108.23 353.50,108.50 353.65,108.75 353.80,108.97 353.95,109.17 354.10,109.34 354.25,109.50 354.40,109.64 354.55,109.76 354.70,109.87 354.85,109.97 355.00,110.05 355.15,110.13 355.30,110.19 355.45,110.25 355.60,110.31 355.75,110.36 355.90,110.40 356.05,110.44 356.20,110.48 356.35,110.51 356.50,110.54 356.65,110.57 356.80,110.60 356.95,110.63 357.10,110.65 357.25,110.68 357.40,110.70 357.55,110.72 357.70,110.74 357.85,110.76 358.00,110.78 358.15,110.80 358.30,110.81 358.45,110.83 358.60,110.85 358.75,110.86 358.90,110.87 359.05,110.88 359.20,110.89 359.35,110.90 359.50,110.91 359.65,110.92 359.80,110.92 359.95,110.93 360.10,110.93 360.25,110.94 360.40,110.94 360.55,110.94 360.70,110.94 360.85,110.94 361.00,110.93 361.15,110.93 361.30,110.93 361.45,110.92 361.60,110.92 361.75,110.91 361.90,110.90 362.05,110.89 362.20,110.88 362.35,110.87 362.50,110.86 362.65,110.85 362.80,110.84 362.95,110.83 363.10,110.81 363.25,110.80 363.40,110.78 363.55,110.77 363.70,110.75 363.85,110.73 364.00,110.71 364.15,110.69 364.30,110.67 364.45,110.65 364.60,110.63 364.75,110.60 364.90,110.58 365.05,110.55 365.20,110.51 365.35,110.48 365.50,110.44 365.65,110.40 365.80,110.35 365.95,110.29 366.10,110.23 366.25,110.16 366.40,110.09 366.55,110.00 366.70,109.90 366.85,109.79 367.00,109.66 367.15,109.52 367.30,109.36 367.45,109.18 367.60,108.98 367.75,108.76 367.90,108.52 368.05,108.25 368.20,107.96 368.35,107.64 368.50,107.29 368.65,106.92 368.80,106.52 368.95,106.09 369.10,105.64 369.25,105.16 369.40,104.65 369.55,104.11 369.70,103.56 369.85,102.98 370.00,102.39 370.15,101.77 370.30,101.15 370.45,100.52 370.60,99.88 370.75,99.24 370.90,98.60 371.05,97.97 371.20,97.36 371.35,96.75 371.50,96.17 371.65,95.62 371.80,95.10 371.95,94.61 372.10,94.16 372.25,93.75 372.40,93.39 372.55,93.08 372.70,92.82 372.85,92.61 373.00,92.47 373.15,92.38 373.30,92.35 373.45,92.37 373.60,92.45 373.75,92.58 373.90,92.75 374.05,92.97 374.20,93.24 374.35,93.55 374.50,93.91 374.65,94.30 374.80,94.73 374.95,95.19 375.10,95.68 375.25,96.19 375.40,96.72 375.55,97.27 375.70,97.83 375.85,98.41 376.00,98.99 376.15,99.57 376.30,100.15 376.45,100.74 376.60,101.31 376.75,101.88 376.90,102.43 377.05,102.97 377.20,103.50 377.35,104.00 377.50,104.49 377.65,104.96 377.80,105.41 377.95,105.83 378.10,106.24 378.25,106.62 378.40,106.98 378.55,107.31 378.70,107.62 378.85,107.91 379.00,108.18 379.15,108.43 379.30,108.66 379.45,108.87 379.60,109.06 379.75,109.24 379.90,109.40 380.05,109.54 380.20,109.67 380.35,109.79 380.50,109.89 380.65,109.99 380.80,110.07 380.95,110.15 381.10,110.22 381.25,110.28 381.40,110.33 381.55,110.38 381.70,110.43 381.85,110.47 382.00,110.51 382.15,110.54 382.30,110.57 382.45,110.60 382.60,110.63 382.75,110.65 382.90,110.67 383.05,110.69 383.20,110.71 383.35,110.73 383.50,110.75 383.65,110.77 383.80,110.79 383.95,110.80 384.10,110.82 384.25,110.83 384.40,110.84 384.55,110.86 384.70,110.87 384.85,110.88 385.00,110.89 385.15,110.90 385.30,110.91 385.45,110.92 385.60,110.93 385.75,110.94 385.90,110.94 386.05,110.95 386.20,110.95 386.35,110.96 386.50,110.96 386.65,110.97 386.80,110.97 386.95,110.97 387.10,110.97 387.25,110.97 387.40,110.97 387.55,110.97 387.70,110.97 387.85,110.97 388.00,110.96 388.15,110.96 388.30,110.96 388.45,110.95 388.60,110.95 388.75,110.94 388.90,110.93 389.05,110.93 389.20,110.92 389.35,110.91 389.50,110.90 389.65,110.90 389.80,110.89 389.95,110.88 390.10,110.87 390.25,110.85 390.40,110.84 390.55,110.83 390.70,110.82 390.85,110.80 391.00,110.79 391.15,110.77 391.30,110.76 391.45,110.74 391.60,110.72 391.75,110.70 391.90,110.67 392.05,110.65 392.20,110.62 392.35,110.58 392.50,110.55 392.65,110.51 392.80,110.46 392.95,110.41 393.10,110.35 393.25,110.29 393.40,110.22 393.55,110.14 393.70,110.05 393.85,109.95 394.00,109.84 394.15,109.72 394.30,109.59 394.45,109.44 394.60,109.28 394.75,109.11 394.90,108.92 395.05,108.72 395.20,108.50 395.35,108.27 395.50,108.02 395.65,107.75 395.80,107.46 395.95,107.16 396.10,106.85 396.25,106.52 396.40,106.17 396.55,105.81 396.70,105.44 396.85,105.06 397.00,104.66 397.15,104.26 397.30,103.85 397.45,103.43 397.60,103.01 397.75,102.58 397.90,102.16 398.05,101.73 398.20,101.31 398.35,100.90 398.50,100.49 398.65,100.10 398.80,99.71 398.95,99.34 399.10,98.99 399.25,98.65 399.40,98.34 399.55,98.04 399.70,97.78 399.85,97.53 400.00,97.32 400.15,97.13 400.30,96.97 400.45,96.84 400.60,96.74 400.75,96.67 400.90,96.63 401.05,96.63 401.20,96.65 401.35,96.70 401.50,96.78 401.65,96.88 401.80,97.00 401.95,97.15 402.10,97.33 402.25,97.53 402.40,97.75 402.55,97.99 402.70,98.25 402.85,98.53 403.00,98.82 403.15,99.13 403.30,99.45 403.45,99.79 403.60,100.13 403.75,100.49 403.90,100.85 404.05,101.22 404.20,101.59 404.35,101.97 404.50,102.35 404.65,102.72 404.80,103.10 404.95,103.47 405.10,103.84 405.25,104.21 405.40,104.56 405.55,104.91 405.70,105.25 405.85,105.59 406.00,105.91 406.15,106.22 406.30,106.53 406.45,106.82 406.60,107.10 406.75,107.36 406.90,107.62 407.05,107.86 407.20,108.09 407.35,108.31 407.50,108.51 407.65,108.70 407.80,108.89 407.95,109.06 408.10,109.21 408.25,109.36 408.40,109.50 408.55,109.63 408.70,109.74 408.85,109.85 409.00,109.95 409.15,110.04 409.30,110.12 409.45,110.20 409.60,110.27 409.75,110.33 409.90,110.39 410.05,110.45 410.20,110.49 410.35,110.54 410.50,110.58 410.65,110.61 410.80,110.64 410.95,110.67 411.10,110.70 411.25,110.73 411.40,110.75 411.55,110.77 411.70,110.79 411.85,110.80 412.00,110.82 412.15,110.84 412.30,110.85 412.45,110.86 412.60,110.88 412.75,110.89 412.90,110.90 413.05,110.91 413.20,110.92 413.35,110.93 413.50,110.94 413.65,110.94 413.80,110.95 413.95,110.96 414.10,110.96 414.25,110.97 414.40,110.98 414.55,110.98 414.70,110.99 414.85,110.99 415.00,110.99 415.15,111.00 415.30,111.00 415.45,111.00 415.60,111.00 415.75,111.01 415.90,111.01 416.05,111.01 416.20,111.01 416.35,111.01 416.50,111.00 416.65,111.00 416.80,111.00 416.95,111.00 417.10,111.00 417.25,111.00 417.40,110.99 417.55,110.99 417.70,110.99 417.85,110.98 418.00,110.98 418.15,110.97 418.30,110.97 418.45,110.96 418.60,110.96 418.75,110.95 418.90,110.94 419.05,110.94 419.20,110.93 419.35,110.92 419.50,110.91 419.65,110.90 419.80,110.89 419.95,110.88 420.10,110.87 420.25,110.86 420.40,110.84 420.55,110.83 420.70,110.81 420.85,110.79 421.00,110.77 421.15,110.75 421.30,110.72 421.45,110.69 421.60,110.66 421.75,110.63 421.90,110.59 422.05,110.54 422.20,110.50 422.35,110.45 422.50,110.39 422.65,110.33 422.80,110.26 422.95,110.19 423.10,110.11 423.25,110.02 423.40,109.92 423.55,109.82 423.70,109.71 423.85,109.60 424.00,109.47 424.15,109.34 424.30,109.19 424.45,109.04 424.60,108.88 424.75,108.71 424.90,108.53 425.05,108.35 425.20,108.15 425.35,107.95 425.50,107.74 425.65,107.52 425.80,107.29 425.95,107.06 426.10,106.82 426.25,106.57 426.40,106.32 426.55,106.06 426.70,105.80 426.85,105.54 427.00,105.27 427.15,105.00 427.30,104.73 427.45,104.47 427.60,104.20 427.75,103.93 427.90,103.67 428.05,103.41 428.20,103.16 428.35,102.91 428.50,102.68 428.65,102.44 428.80,102.22 428.95,102.01 429.10,101.81 429.25,101.62 429.40,101.44 429.55,101.28 429.70,101.13 429.85,100.99 430.00,100.87 430.15,100.77 430.30,100.68 430.45,100.61 430.60,100.56 430.75,100.52 430.90,100.50 431.05,100.50 431.20,100.51 431.35,100.54 431.50,100.59 431.65,100.65 431.80,100.72 431.95,100.81 432.10,100.91 432.25,101.03 432.40,101.16 432.55,101.31 432.70,101.47 432.85,101.64 433.00,101.81 433.15,102.01 433.30,102.21 433.45,102.41 433.60,102.63 433.75,102.85 433.90,103.09 434.05,103.32 434.20,103.56 434.35,103.81 434.50,104.06 434.65,104.31 434.80,104.56 434.95,104.81 435.10,105.06 435.25,105.31 435.40,105.56 435.55,105.81 435.70,106.06 435.85,106.30 436.00,106.54 436.15,106.77 436.30,107.00 436.45,107.22 436.60,107.43 436.75,107.64 436.90,107.85 437.05,108.04 437.20,108.23 437.35,108.41 437.50,108.59 437.65,108.75 437.80,108.91 437.95,109.06 438.10,109.21 438.25,109.34 438.40,109.47 438.55,109.59 438.70,109.71 438.85,109.81 439.00,109.91 439.15,110.01 439.30,110.09 439.45,110.17 439.60,110.25 439.75,110.32 439.90,110.38 440.05,110.44 440.20,110.50 440.35,110.55 440.50,110.59 440.65,110.63 440.80,110.67 440.95,110.71 441.10,110.74 441.25,110.77 441.40,110.79 441.55,110.82 441.70,110.84 441.85,110.86 442.00,110.88 442.15,110.90 442.30,110.91 442.45,110.93 442.60,110.94 442.75,110.95 442.90,110.96 443.05,110.97 443.20,110.98 443.35,110.99 443.50,111.00 443.65,111.01 443.80,111.02 443.95,111.02 444.10,111.03 444.25,111.03 444.40,111.04 444.55,111.05 444.70,111.05 444.85,111.06 445.00,111.06 445.15,111.06 445.30,111.07 445.45,111.07 445.60,111.07 445.75,111.08 445.90,111.08 446.05,111.08 446.20,111.08 446.35,111.08 446.50,111.09 446.65,111.09 446.80,111.09 446.95,111.09 447.10,111.09 447.25,111.09 447.40,111.09 447.55,111.09 447.70,111.08 447.85,111.08 448.00,111.08 448.15,111.08 448.30,111.08 448.45,111.08 448.60,111.07 448.75,111.07 448.90,111.07 449.05,111.06 449.20,111.06 449.35,111.06 449.50,111.05 449.65,111.05 449.80,111.04 449.95,111.04 450.10,111.03 450.25,111.03 450.40,111.02 450.55,111.01 450.70,111.01 450.85,111.00 451.00,110.99 451.15,110.98 451.30,110.97 451.45,110.96 451.60,110.94 451.75,110.93 451.90,110.91 452.05,110.90 452.20,110.88 452.35,110.86 452.50,110.83 452.65,110.81 452.80,110.78 452.95,110.75 453.10,110.72 453.25,110.68 453.40,110.64 453.55,110.60 453.70,110.55 453.85,110.50 454.00,110.44 454.15,110.38 454.30,110.32 454.45,110.25 454.60,110.18 454.75,110.10 454.90,110.01 455.05,109.92 455.20,109.83 455.35,109.73 455.50,109.62 455.65,109.51 455.80,109.39 455.95,109.26 456.10,109.13 456.25,109.00 456.40,108.85 456.55,108.71 456.70,108.55 456.85,108.40 457.00,108.23 457.15,108.07 457.30,107.89 457.45,107.72 457.60,107.54 457.75,107.36 457.90,107.17 458.05,106.98 458.20,106.79 458.35,106.60 458.50,106.41 458.65,106.22 458.80,106.02 458.95,105.83 459.10,105.64 459.25,105.46 459.40,105.27 459.55,105.09 459.70,104.91 459.85,104.74 460.00,104.57 460.15,104.41 460.30,104.26 460.45,104.11 460.60,103.97 460.75,103.84 460.90,103.72 461.05,103.60 461.20,103.50 461.35,103.41 461.50,103.32 461.65,103.25 461.80,103.19 461.95,103.14 462.10,103.11 462.25,103.08 462.40,103.07 462.55,103.07 462.70,103.07 462.85,103.09 463.00,103.12 463.15,103.16 463.30,103.21 463.45,103.27 463.60,103.33 463.75,103.41 463.90,103.50 464.05,103.59 464.20,103.69 464.35,103.80 464.50,103.92 464.65,104.05 464.80,104.18 464.95,104.31 465.10,104.46 465.25,104.61 465.40,104.76 465.55,104.92 465.70,105.08 465.85,105.25 466.00,105.42 466.15,105.59 466.30,105.76 466.45,105.94 466.60,106.12 466.75,106.29 466.90,106.47 467.05,106.65 467.20,106.82 467.35,107.00 467.50,107.17 467.65,107.34 467.80,107.51 467.95,107.68 468.10,107.84 468.25,108.00 468.40,108.16 468.55,108.31 468.70,108.46 468.85,108.60 469.00,108.75 469.15,108.88 469.30,109.01 469.45,109.14 469.60,109.26 469.75,109.38 469.90,109.49 470.05,109.60 470.20,109.70 470.35,109.80 470.50,109.89 470.65,109.98 470.80,110.06 470.95,110.14 471.10,110.21 471.25,110.28 471.40,110.35 471.55,110.41 471.70,110.46 471.85,110.52 472.00,110.57 472.15,110.61 472.30,110.66 472.45,110.70 472.60,110.74 472.75,110.77 472.90,110.80 473.05,110.83 473.20,110.86 473.35,110.88 473.50,110.91 473.65,110.93 473.80,110.95 473.95,110.96 474.10,110.98 474.25,110.99 474.40,111.01 474.55,111.02 474.70,111.03 474.85,111.04 475.00,111.05 475.15,111.06 475.30,111.07 475.45,111.08 475.60,111.09 475.75,111.09 475.90,111.10 476.05,111.11 476.20,111.11 476.35,111.12 476.50,111.12 476.65,111.13 476.80,111.13 476.95,111.14 477.10,111.14 477.25,111.15 477.40,111.15 477.55,111.15 477.70,111.16 477.85,111.16 478.00,111.16 478.15,111.17 478.30,111.17 478.45,111.17 478.60,111.17 478.75,111.17 478.90,111.18 479.05,111.18 479.20,111.18 479.35,111.18 479.50,111.18 479.65,111.18 479.80,111.18 479.95,111.18 480.10,111.18 480.25,111.18 480.40,111.18 480.55,111.18 480.70,111.18 480.85,111.18 481.00,111.18 481.15,111.18 481.30,111.18 481.45,111.17 481.60,111.17 481.75,111.17 481.90,111.17 482.05,111.17 482.20,111.17 482.35,111.16 482.50,111.16 482.65,111.16 482.80,111.15 482.95,111.15 483.10,111.15 483.25,111.14 483.40,111.14 483.55,111.14 483.70,111.13 483.85,111.13 484.00,111.12 484.15,111.12 484.30,111.11 484.45,111.10 484.60,111.09 484.75,111.09 484.90,111.08 485.05,111.07 485.20,111.06 485.35,111.05 485.50,111.03 485.65,111.02 485.80,111.01 485.95,110.99 486.10,110.97 486.25,110.95 486.40,110.93 486.55,110.91 486.70,110.88 486.85,110.86 487.00,110.83 487.15,110.79 487.30,110.76 487.45,110.72 487.60,110.68 487.75,110.64 487.90,110.60 488.05,110.55 488.20,110.50 488.35,110.44 488.50,110.38 488.65,110.32 488.80,110.25 488.95,110.18 489.10,110.11 489.25,110.03 489.40,109.95 489.55,109.87 489.70,109.78 489.85,109.68 490.00,109.59 490.15,109.49 490.30,109.38 490.45,109.28 490.60,109.16 490.75,109.05 490.90,108.93 491.05,108.81 491.20,108.69 491.35,108.56 491.50,108.43 491.65,108.30 491.80,108.17 491.95,108.03 492.10,107.89 492.25,107.76 492.40,107.62 492.55,107.48 492.70,107.34 492.85,107.20 493.00,107.06 493.15,106.93 493.30,106.79 493.45,106.65 493.60,106.52 493.75,106.39 493.90,106.27 494.05,106.14 494.20,106.02 494.35,105.91 494.50,105.80 494.65,105.69 494.80,105.59 494.95,105.49 495.10,105.40 495.25,105.32 495.40,105.24 495.55,105.17 495.70,105.10 495.85,105.05 496.00,105.00 496.15,104.95 496.30,104.92 496.45,104.89 496.60,104.87 496.75,104.86 496.90,104.86 497.05,104.86 497.20,104.87 497.35,104.89 497.50,104.91 497.65,104.95 497.80,104.98 497.95,105.03 498.10,105.08 498.25,105.13 498.40,105.20 498.55,105.27 498.70,105.34 498.85,105.42 499.00,105.51 499.15,105.60 499.30,105.69 499.45,105.79 499.60,105.89 499.75,106.00 499.90,106.11 500.05,106.22 500.20,106.34 500.35,106.46 500.50,106.58 500.65,106.71 500.80,106.83 500.95,106.96 501.10,107.09 501.25,107.22 501.40,107.35 501.55,107.48 501.70,107.61 501.85,107.74 502.00,107.87 502.15,108.00 502.30,108.12 502.45,108.25 502.60,108.37 502.75,108.50 502.90,108.62 503.05,108.74 503.20,108.85 503.35,108.96 503.50,109.07 503.65,109.18 503.80,109.29 503.95,109.39 504.10,109.49 504.25,109.58 504.40,109.68 504.55,109.77 504.70,109.85 504.85,109.93 505.00,110.01 505.15,110.09 505.30,110.16 505.45,110.23 505.60,110.30 505.75,110.36 505.90,110.42 506.05,110.47 506.20,110.53 506.35,110.58 506.50,110.63 506.65,110.67 506.80,110.71 506.95,110.75 507.10,110.79 507.25,110.82 507.40,110.86 507.55,110.89 507.70,110.91 507.85,110.94 508.00,110.96 508.15,110.99 508.30,111.01 508.45,111.03 508.60,111.05 508.75,111.06 508.90,111.08 509.05,111.09 509.20,111.10 509.35,111.12 509.50,111.13 509.65,111.14 509.80,111.15 509.95,111.16 510.10,111.17 510.25,111.17 510.40,111.18 510.55,111.19 510.70,111.19 510.85,111.20 511.00,111.21 511.15,111.21 511.30,111.22 511.45,111.22 511.60,111.23 511.75,111.23 511.90,111.23 512.05,111.24 512.20,111.24 512.35,111.24 512.50,111.25 512.65,111.25 512.80,111.25 512.95,111.26 513.10,111.26 513.25,111.26 513.40,111.26 513.55,111.27 513.70,111.27 513.85,111.27 514.00,111.27 514.15,111.27 514.30,111.28 514.45,111.28 514.60,111.28 514.75,111.28 514.90,111.28 515.05,111.28 515.20,111.28"/>
<line x1="51.70" y1="9.00" x2="51.70" y2="114.00" stroke="#161616" stroke-width="1.40"/>
<line x1="51.00" y1="113.40" x2="536.30" y2="113.40" stroke="#161616" stroke-width="1.40"/>
<text x="44.70" y="116.65" text-anchor="end" font-size="14.30" fill="#111" stroke="#111" stroke-width="0.22">0.0</text>
<line x1="51.70" y1="70.75" x2="57.20" y2="70.75" stroke="#161616" stroke-width="1.40"/>
<text x="44.70" y="75.90" text-anchor="end" font-size="14.30" fill="#111" stroke="#111" stroke-width="0.22">1.0</text>
<line x1="51.70" y1="30.00" x2="57.20" y2="30.00" stroke="#161616" stroke-width="1.40"/>
<text x="44.70" y="35.15" text-anchor="end" font-size="14.30" fill="#111" stroke="#111" stroke-width="0.22">2.0</text>
<line x1="51.70" y1="113.40" x2="51.70" y2="107.90" stroke="#161616" stroke-width="1.40"/>
<text x="51.70" y="134.25" text-anchor="middle" font-size="14.30" fill="#111" stroke="#111" stroke-width="0.22">0</text>
<line x1="132.35" y1="113.40" x2="132.35" y2="107.90" stroke="#161616" stroke-width="1.40"/>
<text x="132.35" y="134.25" text-anchor="middle" font-size="14.30" fill="#111" stroke="#111" stroke-width="0.22">20</text>
<line x1="213.00" y1="113.40" x2="213.00" y2="107.90" stroke="#161616" stroke-width="1.40"/>
<text x="213.00" y="134.25" text-anchor="middle" font-size="14.30" fill="#111" stroke="#111" stroke-width="0.22">40</text>
<line x1="293.65" y1="113.40" x2="293.65" y2="107.90" stroke="#161616" stroke-width="1.40"/>
<text x="293.65" y="134.25" text-anchor="middle" font-size="14.30" fill="#111" stroke="#111" stroke-width="0.22">60</text>
<line x1="374.30" y1="113.40" x2="374.30" y2="107.90" stroke="#161616" stroke-width="1.40"/>
<text x="374.30" y="134.25" text-anchor="middle" font-size="14.30" fill="#111" stroke="#111" stroke-width="0.22">80</text>
<line x1="454.95" y1="113.40" x2="454.95" y2="107.90" stroke="#161616" stroke-width="1.40"/>
<text x="454.95" y="134.25" text-anchor="middle" font-size="14.30" fill="#111" stroke="#111" stroke-width="0.22">100</text>
<line x1="535.60" y1="113.40" x2="535.60" y2="107.90" stroke="#161616" stroke-width="1.40"/>
<text x="535.60" y="134.25" text-anchor="middle" font-size="14.30" fill="#111" stroke="#111" stroke-width="0.22">120</text>
<text transform="translate(16.80,61.50) rotate(-90)" text-anchor="middle" font-size="14.30" fill="#111" stroke="#111" stroke-width="0.22" xml:space="preserve">Signal  / pA</text>
<line x1="141.00" y1="18.30" x2="141.00" y2="25.60" stroke="#161616" stroke-width="1.50"/>
<text x="140.70" y="15.30" text-anchor="middle" font-size="13.30" fill="#111" stroke="#111" stroke-width="0.22">70</text>
<line x1="248.90" y1="41.40" x2="248.90" y2="48.60" stroke="#161616" stroke-width="1.50"/>
<text x="247.00" y="38.40" text-anchor="middle" font-size="13.30" fill="#111" stroke="#111" stroke-width="0.22">80</text>
<line x1="496.70" y1="95.90" x2="496.70" y2="102.70" stroke="#161616" stroke-width="1.50"/>
<text x="496.40" y="93.00" text-anchor="middle" font-size="13.30" fill="#111" stroke="#111" stroke-width="0.22">90</text>
<text x="535.60" y="23.00" text-anchor="end" font-size="13.30" fill="#111" stroke="#111" stroke-width="0.22">PEG 3000</text>
<text x="535.60" y="39.90" text-anchor="end" font-size="13.30" fill="#111" stroke="#111" stroke-width="0.22">40°C, 30vol% ACN</text>
<text x="535.60" y="56.80" text-anchor="end" font-size="13.30" fill="#111" stroke="#111" stroke-width="0.22">1g/L, 10<tspan font-family="'Liberation Serif', serif" font-style="italic" font-size="12.5" stroke-width="0.1">μ</tspan>L</text>
<polyline fill="none" stroke="#196af8" stroke-width="1.90" stroke-linejoin="round" stroke-linecap="round" points="51.70,257.42 51.90,256.15 52.10,255.02 52.30,253.80 52.50,253.09 52.70,252.02 52.90,250.52 53.10,249.53 53.30,249.09 53.50,249.27 53.70,249.77 53.90,249.91 54.10,250.26 54.30,250.65 54.50,250.85 54.70,251.45 54.90,251.62 55.10,252.21 55.30,252.73 55.50,252.92 55.70,252.95 55.90,252.89 56.10,252.62 56.30,252.26 56.50,252.33 56.70,252.69 56.90,252.94 57.10,253.07 57.30,253.08 57.50,252.94 57.70,253.01 57.90,253.29 58.10,253.53 58.30,252.97 58.50,253.04 58.70,252.83 58.90,252.46 59.10,252.82 59.30,252.67 59.50,252.64 59.70,252.82 59.90,252.96 60.10,252.91 60.30,252.64 60.50,252.99 60.70,252.54 60.90,252.53 61.10,252.96 61.30,252.20 61.50,252.22 61.70,252.50 61.90,252.35 62.10,252.66 62.30,252.86 62.50,252.46 62.70,251.27 62.90,250.04 63.10,248.48 63.30,247.56 63.50,246.29 63.70,246.55 63.90,248.08 64.10,249.44 64.30,250.85 64.50,252.04 64.70,253.13 64.90,252.63 65.10,252.79 65.30,252.92 65.50,252.97 65.70,253.64 65.90,253.45 66.10,253.31 66.30,253.18 66.50,252.61 66.70,252.58 66.90,252.64 67.10,252.96 67.30,252.78 67.50,252.80 67.70,252.79 67.90,252.66 68.10,253.01 68.30,252.96 68.50,253.13 68.70,253.20 68.90,253.27 69.10,252.99 69.30,252.62 69.50,252.62 69.70,252.39 69.90,252.70 70.10,252.62 70.30,252.62 70.50,252.63 70.70,252.83 70.90,252.98 71.10,253.33 71.30,253.87 71.50,253.66 71.70,253.92 71.90,253.54 72.10,251.78 72.30,252.04 72.50,252.30 72.70,252.56 72.90,253.04 73.10,252.92 73.30,252.84 73.50,252.72 73.70,252.61 73.90,252.47 74.10,251.99 74.30,251.81 74.50,252.17 74.70,252.27 74.90,252.85 75.10,252.94 75.30,252.77 75.50,252.82 75.70,252.76 75.90,252.94 76.10,253.18 76.30,252.96 76.50,252.18 76.70,252.21 76.90,251.74 77.10,252.34 77.30,252.82 77.50,252.92 77.70,253.06 77.90,252.70 78.10,253.16 78.30,252.71 78.50,252.38 78.70,251.91 78.90,250.91 79.10,250.58 79.30,250.96 79.50,251.17 79.70,251.94 79.90,252.53 80.10,252.80 80.30,253.23 80.50,253.38 80.70,253.11 80.90,252.91 81.10,252.26 81.30,251.27 81.50,250.71 81.70,250.04 81.90,250.29 82.10,250.89 82.30,251.72 82.50,252.49 82.70,253.07 82.90,253.35 83.10,252.96 83.30,253.03 83.50,252.91 83.70,252.38 83.90,251.66 84.10,250.68 84.30,249.44 84.50,249.19 84.70,250.22 84.90,250.79 85.10,251.86 85.30,252.51 85.50,252.67 85.70,252.81 85.90,252.91 86.10,252.94 86.30,252.90 86.50,252.77 86.70,251.38 86.90,250.03 87.10,248.46 87.30,247.71 87.50,248.54 87.70,249.76 87.90,251.07 88.10,252.17 88.30,252.63 88.50,252.67 88.70,252.57 88.90,252.38 89.10,252.19 89.30,251.85 89.50,251.18 89.70,249.24 89.90,247.08 90.10,245.64 90.30,245.22 90.50,246.32 90.70,248.08 90.90,249.66 91.10,251.22 91.30,251.83 91.50,252.51 91.70,252.56 91.90,252.38 92.10,252.49 92.30,251.68 92.50,250.84 92.70,249.59 92.90,247.68 93.10,245.17 93.30,243.47 93.50,242.42 93.70,242.81 93.90,245.58 94.10,248.60 94.30,250.95 94.50,252.59 94.70,252.94 94.90,252.66 95.10,252.89 95.30,253.18 95.50,252.99 95.70,252.39 95.90,250.65 96.10,247.20 96.30,243.61 96.50,240.44 96.70,239.18 96.90,240.21 97.10,242.57 97.30,245.75 97.50,248.44 97.70,250.79 97.90,251.98 98.10,252.43 98.30,252.27 98.50,252.42 98.70,252.31 98.90,252.36 99.10,252.50 99.30,251.63 99.50,250.02 99.70,246.89 99.90,243.16 100.10,239.12 100.30,236.31 100.50,235.21 100.70,236.12 100.90,239.10 101.10,242.67 101.30,246.88 101.50,250.54 101.70,252.29 101.90,253.00 102.10,253.03 102.30,252.72 102.50,252.80 102.70,252.84 102.90,252.70 103.10,251.94 103.30,250.38 103.50,247.99 103.70,244.06 103.90,239.43 104.10,235.02 104.30,232.05 104.50,230.94 104.70,232.03 104.90,234.23 105.10,237.72 105.30,241.74 105.50,245.33 105.70,248.87 105.90,250.47 106.10,251.46 106.30,252.15 106.50,251.95 106.70,252.24 106.90,253.02 107.10,252.87 107.30,252.91 107.50,252.49 107.70,251.01 107.90,248.88 108.10,245.48 108.30,240.81 108.50,235.51 108.70,230.61 108.90,226.44 109.10,224.64 109.30,224.75 109.50,226.98 109.70,230.43 109.90,234.58 110.10,239.09 110.30,243.02 110.50,246.90 110.70,249.61 110.90,251.39 111.10,252.32 111.30,252.61 111.50,252.42 111.70,252.27 111.90,252.24 112.10,252.29 112.30,252.35 112.50,251.20 112.70,249.17 112.90,245.88 113.10,241.39 113.30,236.48 113.50,230.74 113.70,225.13 113.90,220.89 114.10,218.41 114.30,218.41 114.50,220.71 114.70,224.89 114.90,230.04 115.10,235.77 115.30,240.97 115.50,245.34 115.70,248.57 115.90,250.32 116.10,251.75 116.30,252.23 116.50,252.45 116.70,252.75 116.90,252.88 117.10,252.66 117.30,252.14 117.50,251.60 117.70,250.06 117.90,247.80 118.10,244.21 118.30,239.18 118.50,233.18 118.70,226.28 118.90,220.58 119.10,215.59 119.30,212.62 119.50,212.77 119.70,214.63 119.90,218.46 120.10,224.07 120.30,230.18 120.50,236.44 120.70,242.07 120.90,246.02 121.10,248.81 121.30,250.68 121.50,251.90 121.70,252.71 121.90,252.96 122.10,252.83 122.30,252.63 122.50,252.46 122.70,252.41 122.90,251.81 123.10,250.47 123.30,248.03 123.50,243.93 123.70,238.11 123.90,231.27 124.10,223.69 124.30,216.49 124.50,210.00 124.70,205.38 124.90,202.92 125.10,202.43 125.30,204.92 125.50,209.35 125.70,215.81 125.90,223.31 126.10,230.92 126.30,237.51 126.50,242.38 126.70,246.50 126.90,249.36 127.10,251.35 127.30,252.57 127.50,252.92 127.70,253.05 127.90,252.81 128.10,253.01 128.30,252.71 128.50,251.98 128.70,250.90 128.90,248.91 129.10,245.81 129.30,241.27 129.50,235.22 129.70,227.61 129.90,219.67 130.10,211.74 130.30,204.33 130.50,198.95 130.70,195.82 130.90,195.30 131.10,198.12 131.30,202.70 131.50,208.82 131.70,216.10 131.90,223.40 132.10,230.36 132.30,236.88 132.50,242.57 132.70,246.76 132.90,249.63 133.10,251.32 133.30,252.35 133.50,252.31 133.70,252.45 133.90,252.30 134.10,252.02 134.30,252.31 134.50,252.51 134.70,251.87 134.90,250.83 135.10,248.57 135.30,245.36 135.50,241.27 135.70,235.60 135.90,228.77 136.10,220.43 136.30,212.39 136.50,204.02 136.70,197.17 136.90,192.63 137.10,189.91 137.30,190.14 137.50,192.37 137.70,196.43 137.90,202.25 138.10,209.13 138.30,216.80 138.50,224.48 138.70,231.43 138.90,237.45 139.10,242.69 139.30,246.41 139.50,249.31 139.70,251.44 139.90,252.01 140.10,252.57 140.30,252.35 140.50,252.34 140.70,252.43 140.90,252.37 141.10,252.74 141.30,252.29 141.50,251.81 141.70,250.43 141.90,248.12 142.10,245.01 142.30,240.17 142.50,233.98 142.70,226.18 142.90,217.51 143.10,208.31 143.30,199.51 143.50,191.17 143.70,184.20 143.90,179.49 144.10,176.56 144.30,176.41 144.50,178.56 144.70,182.43 144.90,188.21 145.10,195.55 145.30,202.99 145.50,211.09 145.70,219.16 145.90,226.44 146.10,233.41 146.30,238.94 146.50,243.60 146.70,247.40 146.90,250.04 147.10,251.35 147.30,252.13 147.50,252.31 147.70,252.15 147.90,252.50 148.10,252.43 148.30,252.14 148.50,252.30 148.70,252.51 148.90,252.40 149.10,252.29 149.30,250.69 149.50,248.14 149.70,244.99 149.90,240.70 150.10,235.38 150.30,228.60 150.50,221.27 150.70,212.57 150.90,204.04 151.10,195.60 151.30,187.43 151.50,180.86 151.70,175.79 151.90,172.92 152.10,171.38 152.30,172.23 152.50,175.11 152.70,180.00 152.90,187.01 153.10,194.78 153.30,202.93 153.50,211.24 153.70,219.14 153.90,226.91 154.10,233.67 154.30,239.35 154.50,243.64 154.70,246.53 154.90,248.93 155.10,250.59 155.30,251.71 155.50,252.58 155.70,252.85 155.90,252.77 156.10,252.94 156.30,252.73 156.50,252.60 156.70,252.46 156.90,252.03 157.10,251.64 157.30,250.62 157.50,248.78 157.70,245.98 157.90,241.87 158.10,236.62 158.30,230.63 158.50,223.37 158.70,215.76 158.90,207.57 159.10,199.10 159.30,191.63 159.50,184.44 159.70,178.67 159.90,174.68 160.10,172.35 160.30,172.39 160.50,174.32 160.70,177.72 160.90,182.59 161.10,188.55 161.30,195.51 161.50,202.90 161.70,210.45 161.90,218.02 162.10,224.97 162.30,231.33 162.50,237.22 162.70,241.75 162.90,245.31 163.10,248.11 163.30,249.69 163.50,251.15 163.70,251.98 163.90,252.29 164.10,252.44 164.30,252.34 164.50,252.56 164.70,252.58 164.90,252.44 165.10,252.26 165.30,251.79 165.50,251.75 165.70,251.00 165.90,249.85 166.10,248.26 166.30,244.98 166.50,241.49 166.70,236.75 166.90,230.48 167.10,223.50 167.30,215.77 167.50,207.50 167.70,198.95 167.90,190.97 168.10,183.59 168.30,177.28 168.50,172.69 168.70,169.51 168.90,167.59 169.10,167.44 169.30,168.75 169.50,171.47 169.70,176.03 169.90,181.61 170.10,187.90 170.30,195.00 170.50,202.05 170.70,209.41 170.90,216.83 171.10,223.68 171.30,230.23 171.50,236.02 171.70,240.48 171.90,244.31 172.10,247.01 172.30,249.18 172.50,250.85 172.70,251.92 172.90,252.69 173.10,253.07 173.30,253.19 173.50,252.96 173.70,252.75 173.90,252.47 174.10,252.41 174.30,252.40 174.50,252.82 174.70,252.44 174.90,251.77 175.10,250.79 175.30,248.50 175.50,246.08 175.70,243.15 175.90,239.40 176.10,234.88 176.30,229.65 176.50,223.44 176.70,216.45 176.90,208.93 177.10,201.35 177.30,193.92 177.50,186.95 177.70,180.61 177.90,175.06 178.10,170.42 178.30,167.59 178.50,166.30 178.70,166.30 178.90,167.74 179.10,169.99 179.30,173.98 179.50,178.90 179.70,184.62 179.90,191.20 180.10,197.91 180.30,204.49 180.50,211.36 180.70,217.84 180.90,223.93 181.10,229.67 181.30,234.89 181.50,239.17 181.70,242.89 181.90,246.14 182.10,248.32 182.30,250.28 182.50,251.15 182.70,251.70 182.90,252.32 183.10,252.40 183.30,252.67 183.50,252.58 183.70,252.54 183.90,252.62 184.10,252.36 184.30,252.11 184.50,251.57 184.70,251.27 184.90,251.01 185.10,250.38 185.30,249.59 185.50,248.09 185.70,245.83 185.90,243.06 186.10,239.49 186.30,235.19 186.50,230.33 186.70,224.52 186.90,218.20 187.10,211.25 187.30,204.06 187.50,197.14 187.70,190.35 187.90,183.95 188.10,178.49 188.30,173.87 188.50,170.22 188.70,167.53 188.90,166.07 189.10,166.10 189.30,167.11 189.50,169.54 189.70,172.62 189.90,176.89 190.10,181.89 190.30,187.42 190.50,193.08 190.70,198.90 190.90,205.10 191.10,211.22 191.30,217.39 191.50,223.35 191.70,228.71 191.90,233.41 192.10,237.87 192.30,241.31 192.50,244.31 192.70,246.58 192.90,248.23 193.10,249.62 193.30,250.39 193.50,251.68 193.70,252.24 193.90,252.57 194.10,252.70 194.30,252.29 194.50,252.45 194.70,252.70 194.90,252.71 195.10,252.93 195.30,252.88 195.50,252.56 195.70,252.40 195.90,252.17 196.10,251.14 196.30,249.87 196.50,248.07 196.70,245.31 196.90,242.92 197.10,240.09 197.30,236.69 197.50,232.92 197.70,228.20 197.90,222.64 198.10,217.23 198.30,211.15 198.50,205.40 198.70,199.51 198.90,193.55 199.10,188.37 199.30,183.37 199.50,179.39 199.70,176.14 199.90,173.91 200.10,172.40 200.30,171.51 200.50,171.47 200.70,172.13 200.90,173.90 201.10,176.89 201.30,180.18 201.50,184.16 201.70,188.51 201.90,193.05 202.10,198.14 202.30,203.24 202.50,208.35 202.70,213.56 202.90,218.60 203.10,222.92 203.30,227.41 203.50,231.43 203.70,235.07 203.90,238.71 204.10,241.84 204.30,244.37 204.50,246.43 204.70,248.22 204.90,249.38 205.10,250.13 205.30,251.14 205.50,251.69 205.70,252.14 205.90,252.34 206.10,252.65 206.30,252.82 206.50,252.83 206.70,252.97 206.90,252.55 207.10,252.21 207.30,252.36 207.50,252.27 207.70,252.26 207.90,252.31 208.10,251.52 208.30,251.11 208.50,250.44 208.70,249.12 208.90,247.81 209.10,245.72 209.30,242.86 209.50,239.84 209.70,236.01 209.90,232.18 210.10,228.33 210.30,224.01 210.50,219.62 210.70,214.78 210.90,209.32 211.10,204.11 211.30,199.14 211.50,193.83 211.70,189.17 211.90,184.60 212.10,180.30 212.30,176.86 212.50,173.98 212.70,171.65 212.90,170.11 213.10,169.40 213.30,169.33 213.50,170.46 213.70,171.93 213.90,174.05 214.10,176.72 214.30,179.88 214.50,183.26 214.70,187.29 214.90,191.93 215.10,196.65 215.30,201.79 215.50,206.73 215.70,211.55 215.90,216.09 216.10,220.81 216.30,225.16 216.50,229.34 216.70,233.21 216.90,236.46 217.10,239.27 217.30,242.05 217.50,244.47 217.70,246.74 217.90,248.64 218.10,249.94 218.30,250.93 218.50,251.53 218.70,252.31 218.90,252.61 219.10,252.81 219.30,253.24 219.50,253.35 219.70,253.28 219.90,253.18 220.10,252.87 220.30,252.92 220.50,252.88 220.70,252.68 220.90,252.37 221.10,251.77 221.30,251.33 221.50,250.62 221.70,249.81 221.90,248.70 222.10,247.07 222.30,244.97 222.50,242.51 222.70,239.44 222.90,236.31 223.10,232.95 223.30,229.32 223.50,225.47 223.70,220.71 223.90,216.25 224.10,211.63 224.30,206.95 224.50,202.65 224.70,198.04 224.90,193.67 225.10,189.82 225.30,186.13 225.50,182.94 225.70,179.92 225.90,177.04 226.10,175.10 226.30,173.73 226.50,173.29 226.70,173.35 226.90,173.60 227.10,174.65 227.30,175.99 227.50,178.13 227.70,180.64 227.90,183.77 228.10,187.04 228.30,190.52 228.50,194.45 228.70,198.34 228.90,202.38 229.10,206.68 229.30,210.97 229.50,215.09 229.70,219.40 229.90,223.31 230.10,226.97 230.30,230.66 230.50,233.84 230.70,236.78 230.90,239.85 231.10,242.14 231.30,244.44 231.50,246.24 231.70,247.30 231.90,248.33 232.10,249.25 232.30,250.14 232.50,251.09 232.70,251.83 232.90,251.86 233.10,252.36 233.30,252.32 233.50,252.38 233.70,252.42 233.90,252.19 234.10,252.45 234.30,252.39 234.50,252.45 234.70,252.38 234.90,252.01 235.10,251.84 235.30,251.84 235.50,251.09 235.70,250.23 235.90,249.08 236.10,247.44 236.30,245.84 236.50,244.16 236.70,242.16 236.90,239.77 237.10,237.04 237.30,234.21 237.50,230.71 237.70,227.34 237.90,224.07 238.10,219.90 238.30,216.22 238.50,212.39 238.70,208.34 238.90,204.48 239.10,200.48 239.30,196.68 239.50,193.10 239.70,189.92 239.90,187.27 240.10,184.56 240.30,182.40 240.50,180.78 240.70,179.37 240.90,178.48 241.10,178.00 241.30,178.00 241.50,178.38 241.70,178.99 241.90,180.11 242.10,181.40 242.30,183.00 242.50,185.24 242.70,187.37 242.90,190.34 243.10,193.33 243.30,196.58 243.50,199.92 243.70,202.93 243.90,206.82 244.10,210.43 244.30,214.13 244.50,217.75 244.70,220.77 244.90,223.96 245.10,227.20 245.30,230.28 245.50,233.29 245.70,235.82 245.90,238.72 246.10,241.00 246.30,243.20 246.50,245.04 246.70,246.34 246.90,247.96 247.10,248.92 247.30,250.18 247.50,251.07 247.70,251.78 247.90,252.31 248.10,252.43 248.30,252.37 248.50,252.29 248.70,252.20 248.90,252.31 249.10,252.48 249.30,252.37 249.50,252.37 249.70,252.39 249.90,252.35 250.10,252.33 250.30,252.26 250.50,252.03 250.70,251.39 250.90,250.84 251.10,250.04 251.30,249.10 251.50,248.09 251.70,246.66 251.90,245.28 252.10,243.13 252.30,241.21 252.50,238.87 252.70,236.35 252.90,234.27 253.10,231.73 253.30,229.15 253.50,226.37 253.70,223.25 253.90,220.16 254.10,217.39 254.30,214.31 254.50,211.55 254.70,208.40 254.90,205.27 255.10,202.50 255.30,199.50 255.50,197.00 255.70,194.79 255.90,192.87 256.10,191.17 256.30,189.98 256.50,188.65 256.70,187.17 256.90,186.52 257.10,185.78 257.30,185.83 257.50,186.30 257.70,186.70 257.90,187.58 258.10,188.29 258.30,189.32 258.50,190.71 258.70,192.36 258.90,194.48 259.10,196.71 259.30,198.99 259.50,201.22 259.70,203.54 259.90,205.92 260.10,208.83 260.30,211.71 260.50,214.30 260.70,217.37 260.90,219.92 261.10,222.62 261.30,225.64 261.50,228.16 261.70,230.15 261.90,232.33 262.10,234.58 262.30,236.91 262.50,239.41 262.70,241.32 262.90,243.02 263.10,244.58 263.30,245.80 263.50,247.09 263.70,248.14 263.90,249.18 264.10,250.40 264.30,251.34 264.50,252.20 264.70,252.33 264.90,252.51 265.10,252.56 265.30,252.05 265.50,252.08 265.70,252.21 265.90,252.17 266.10,252.29 266.30,252.60 266.50,252.55 266.70,252.66 266.90,253.02 267.10,252.50 267.30,252.50 267.50,252.34 267.70,251.68 267.90,251.41 268.10,250.31 268.30,249.26 268.50,248.29 268.70,246.95 268.90,246.08 269.10,244.71 269.30,243.23 269.50,241.68 269.70,239.43 269.90,237.59 270.10,235.46 270.30,233.11 270.50,230.75 270.70,228.29 270.90,225.33 271.10,222.52 271.30,220.23 271.50,217.44 271.70,214.75 271.90,212.41 272.10,209.56 272.30,207.15 272.50,205.26 272.70,203.11 272.90,201.04 273.10,198.82 273.30,196.89 273.50,195.19 273.70,193.75 273.90,192.53 274.10,191.47 274.30,190.50 274.50,189.41 274.70,188.87 274.90,188.39 275.10,188.29 275.30,188.67 275.50,189.16 275.70,189.90 275.90,190.63 276.10,191.81 276.30,192.71 276.50,193.99 276.70,195.74 276.90,197.28 277.10,199.42 277.30,201.30 277.50,203.32 277.70,205.15 277.90,207.36 278.10,210.06 278.30,212.38 278.50,215.29 278.70,217.54 278.90,219.34 279.10,221.47 279.30,223.71 279.50,226.15 279.70,228.30 279.90,230.56 280.10,232.46 280.30,234.19 280.50,236.02 280.70,237.70 280.90,239.43 281.10,241.18 281.30,243.02 281.50,244.76 281.70,246.24 281.90,247.43 282.10,248.73 282.30,249.52 282.50,250.09 282.70,250.33 282.90,250.87 283.10,251.32 283.30,251.72 283.50,252.33 283.70,252.18 283.90,252.37 284.10,252.56 284.30,252.98 284.50,253.35 284.70,253.16 284.90,252.99 285.10,252.85 285.30,252.68 285.50,252.65 285.70,252.39 285.90,252.07 286.10,251.72 286.30,251.64 286.50,251.44 286.70,250.42 286.90,250.05 287.10,248.95 287.30,247.75 287.50,247.06 287.70,245.63 287.90,244.29 288.10,242.93 288.30,241.37 288.50,239.96 288.70,238.28 288.90,236.64 289.10,234.86 289.30,232.53 289.50,230.38 289.70,228.00 289.90,225.90 290.10,223.65 290.30,221.42 290.50,219.25 290.70,216.78 290.90,214.89 291.10,213.09 291.30,211.15 291.50,209.74 291.70,207.82 291.90,206.12 292.10,204.69 292.30,203.21 292.50,202.00 292.70,200.62 292.90,199.23 293.10,197.72 293.30,196.72 293.50,196.08 293.70,195.89 293.90,195.66 294.10,195.52 294.30,195.37 294.50,195.02 294.70,195.39 294.90,196.06 295.10,196.91 295.30,198.23 295.50,199.29 295.70,199.72 295.90,200.60 296.10,201.81 296.30,202.76 296.50,204.18 296.70,205.79 296.90,207.21 297.10,209.06 297.30,210.97 297.50,212.56 297.70,214.02 297.90,215.59 298.10,217.30 298.30,219.07 298.50,221.09 298.70,223.54 298.90,225.70 299.10,227.79 299.30,229.85 299.50,231.19 299.70,233.01 299.90,234.97 300.10,236.28 300.30,237.92 300.50,239.33 300.70,240.42 300.90,241.86 301.10,243.21 301.30,244.93 301.50,246.36 301.70,247.67 301.90,248.86 302.10,249.16 302.30,249.53 302.50,250.19 302.70,250.78 302.90,250.90 303.10,251.62 303.30,252.09 303.50,252.07 303.70,252.58 303.90,252.77 304.10,252.45 304.30,252.64 304.50,252.93 304.70,252.75 304.90,252.75 305.10,252.75 305.30,252.44 305.50,252.40 305.70,251.84 305.90,251.65 306.10,251.17 306.30,250.83 306.50,251.02 306.70,250.25 306.90,249.79 307.10,248.88 307.30,248.06 307.50,247.52 307.70,246.92 307.90,246.10 308.10,244.99 308.30,243.45 308.50,242.04 308.70,240.65 308.90,239.10 309.10,237.94 309.30,236.85 309.50,235.78 309.70,234.82 309.90,232.91 310.10,231.14 310.30,228.98 310.50,226.88 310.70,225.16 310.90,223.09 311.10,221.68 311.30,220.18 311.50,218.88 311.70,217.44 311.90,215.97 312.10,214.42 312.30,212.65 312.50,211.65 312.70,210.16 312.90,209.10 313.10,208.25 313.30,206.65 313.50,205.75 313.70,204.54 313.90,204.15 314.10,203.45 314.30,203.03 314.50,202.64 314.70,201.97 314.90,202.57 315.10,202.54 315.30,202.67 315.50,202.54 315.70,202.18 315.90,202.31 316.10,203.09 316.30,203.65 316.50,203.95 316.70,204.71 316.90,205.25 317.10,206.77 317.30,207.92 317.50,208.37 317.70,209.27 317.90,209.81 318.10,211.10 318.30,213.15 318.50,214.34 318.70,216.23 318.90,217.79 319.10,218.95 319.30,220.50 319.50,221.62 319.70,222.98 319.90,224.70 320.10,226.67 320.30,228.24 320.50,229.96 320.70,231.55 320.90,233.00 321.10,234.55 321.30,236.20 321.50,237.57 321.70,238.98 321.90,240.12 322.10,240.87 322.30,241.33 322.50,242.44 322.70,243.70 322.90,244.61 323.10,246.06 323.30,246.70 323.50,247.01 323.70,248.05 323.90,248.96 324.10,249.81 324.30,250.68 324.50,251.05 324.70,251.54 324.90,251.85 325.10,252.13 325.30,252.34 325.50,252.39 325.70,252.20 325.90,252.30 326.10,252.90 326.30,252.87 326.50,252.93 326.70,253.18 326.90,253.25 327.10,253.21 327.30,253.07 327.50,252.49 327.70,252.36 327.90,251.52 328.10,251.70 328.30,251.55 328.50,250.45 328.70,250.41 328.90,249.67 329.10,249.63 329.30,249.19 329.50,248.94 329.70,248.85 329.90,247.22 330.10,246.40 330.30,244.98 330.50,243.72 330.70,243.08 330.90,241.88 331.10,240.90 331.30,239.62 331.50,239.10 331.70,238.34 331.90,238.00 332.10,237.17 332.30,235.65 332.50,234.58 332.70,232.86 332.90,231.23 333.10,229.54 333.30,227.75 333.50,226.45 333.70,224.90 333.90,224.26 334.10,223.40 334.30,221.99 334.50,221.37 334.70,220.12 334.90,219.24 335.10,218.37 335.30,216.71 335.50,215.86 335.70,214.61 335.90,213.99 336.10,213.84 336.30,213.23 336.50,212.30 336.70,210.99 336.90,210.11 337.10,209.56 337.30,209.37 337.50,209.71 337.70,209.43 337.90,209.09 338.10,209.14 338.30,208.96 338.50,209.38 338.70,209.70 338.90,210.39 339.10,210.93 339.30,211.48 339.50,211.85 339.70,212.16 339.90,212.59 340.10,212.77 340.30,213.72 340.50,214.40 340.70,215.41 340.90,216.16 341.10,216.31 341.30,216.84 341.50,217.65 341.70,218.46 341.90,220.21 342.10,221.11 342.30,222.25 342.50,224.31 342.70,224.48 342.90,225.59 343.10,226.82 343.30,227.30 343.50,229.11 343.70,230.61 343.90,231.87 344.10,233.22 344.30,234.21 344.50,235.31 344.70,235.82 344.90,236.75 345.10,237.40 345.30,238.66 345.50,239.90 345.70,241.35 345.90,243.13 346.10,243.59 346.30,244.76 346.50,245.05 346.70,245.59 346.90,246.90 347.10,247.48 347.30,248.40 347.50,249.13 347.70,249.30 347.90,249.61 348.10,250.12 348.30,250.66 348.50,251.16 348.70,251.68 348.90,251.62 349.10,251.06 349.30,251.15 349.50,251.31 349.70,251.72 349.90,252.63 350.10,253.10 350.30,253.36 350.50,253.43 350.70,253.33 350.90,252.95 351.10,252.79 351.30,252.69 351.50,252.80 351.70,252.49 351.90,252.15 352.10,251.53 352.30,250.86 352.50,250.65 352.70,250.54 352.90,250.46 353.10,249.66 353.30,249.88 353.50,249.11 353.70,248.40 353.90,248.40 354.10,247.38 354.30,246.75 354.50,246.65 354.70,245.97 354.90,245.63 355.10,245.33 355.30,244.54 355.50,243.86 355.70,242.77 355.90,241.64 356.10,240.93 356.30,239.52 356.50,238.35 356.70,237.33 356.90,236.12 357.10,235.63 357.30,234.79 357.50,233.88 357.70,233.20 357.90,232.01 358.10,230.47 358.30,230.02 358.50,228.42 358.70,227.56 358.90,227.34 359.10,225.65 359.30,225.27 359.50,224.45 359.70,223.23 359.90,222.79 360.10,221.83 360.30,221.10 360.50,220.85 360.70,219.77 360.90,219.26 361.10,218.50 361.30,218.16 361.50,217.89 361.70,217.26 361.90,217.70 362.10,217.07 362.30,217.21 362.50,217.07 362.70,215.92 362.90,216.07 363.10,216.02 363.30,215.57 363.50,215.95 363.70,215.41 363.90,215.22 364.10,215.96 364.30,216.24 364.50,216.59 364.70,216.77 364.90,216.92 365.10,217.30 365.30,218.07 365.50,218.92 365.70,218.98 365.90,219.56 366.10,220.40 366.30,221.01 366.50,221.96 366.70,222.51 366.90,222.99 367.10,223.79 367.30,224.73 367.50,226.08 367.70,227.18 367.90,227.66 368.10,228.63 368.30,229.01 368.50,229.28 368.70,230.20 368.90,230.97 369.10,231.45 369.30,232.48 369.50,233.62 369.70,234.34 369.90,235.65 370.10,236.90 370.30,237.67 370.50,238.76 370.70,240.18 370.90,240.85 371.10,241.76 371.30,242.63 371.50,243.33 371.70,244.14 371.90,244.81 372.10,245.39 372.30,245.96 372.50,246.37 372.70,247.28 372.90,247.96 373.10,247.94 373.30,248.79 373.50,249.12 373.70,249.28 373.90,250.12 374.10,250.43 374.30,250.62 374.50,250.96 374.70,251.70 374.90,252.09 375.10,252.62 375.30,253.34 375.50,253.18 375.70,253.33 375.90,253.13 376.10,253.16 376.30,252.99 376.50,252.73 376.70,253.00 376.90,252.75 377.10,252.39 377.30,252.39 377.50,252.33 377.70,252.33 377.90,252.87 378.10,252.78 378.30,252.30 378.50,252.33 378.70,251.98 378.90,251.57 379.10,251.67 379.30,251.16 379.50,251.06 379.70,251.20 379.90,250.86 380.10,250.00 380.30,249.44 380.50,248.93 380.70,248.47 380.90,248.52 381.10,247.75 381.30,247.03 381.50,245.83 381.70,245.14 381.90,244.33 382.10,243.67 382.30,243.35 382.50,243.06 382.70,242.73 382.90,242.10 383.10,241.57 383.30,240.99 383.50,240.00 383.70,239.31 383.90,238.59 384.10,237.37 384.30,236.85 384.50,235.88 384.70,235.30 384.90,234.69 385.10,233.80 385.30,233.10 385.50,232.13 385.70,231.30 385.90,230.83 386.10,230.17 386.30,229.09 386.50,228.53 386.70,227.30 386.90,226.45 387.10,226.22 387.30,225.18 387.50,225.33 387.70,225.40 387.90,225.09 388.10,224.89 388.30,224.18 388.50,223.47 388.70,222.76 388.90,222.83 389.10,222.32 389.30,222.27 389.50,222.21 389.70,221.61 389.90,221.84 390.10,221.71 390.30,221.72 390.50,221.58 390.70,221.17 390.90,220.74 391.10,220.81 391.30,221.10 391.50,221.60 391.70,221.80 391.90,222.26 392.10,222.01 392.30,222.18 392.50,222.78 392.70,222.55 392.90,222.97 393.10,223.17 393.30,223.16 393.50,223.66 393.70,224.09 393.90,224.38 394.10,225.19 394.30,225.43 394.50,226.26 394.70,227.13 394.90,227.94 395.10,228.99 395.30,229.49 395.50,230.49 395.70,230.79 395.90,231.32 396.10,232.14 396.30,233.06 396.50,233.95 396.70,234.60 396.90,235.57 397.10,235.75 397.30,237.02 397.50,237.74 397.70,238.44 397.90,238.97 398.10,239.55 398.30,240.25 398.50,240.85 398.70,241.55 398.90,242.01 399.10,242.99 399.30,243.04 399.50,244.07 399.70,244.64 399.90,245.15 400.10,246.52 400.30,246.60 400.50,246.56 400.70,247.18 400.90,247.85 401.10,248.33 401.30,248.93 401.50,248.99 401.70,248.69 401.90,249.56 402.10,250.22 402.30,251.08 402.50,252.00 402.70,251.83 402.90,252.20 403.10,251.54 403.30,251.38 403.50,251.94 403.70,251.73 403.90,251.97 404.10,251.97 404.30,252.19 404.50,252.35 404.70,252.49 404.90,252.75 405.10,252.65 405.30,252.49 405.50,252.78 405.70,252.90 405.90,252.77 406.10,253.14 406.30,253.02 406.50,252.64 406.70,252.15 406.90,251.66 407.10,251.96 407.30,251.71 407.50,251.57 407.70,251.41 407.90,250.53 408.10,250.50 408.30,250.66 408.50,250.24 408.70,250.41 408.90,250.45 409.10,249.60 409.30,249.61 409.50,249.01 409.70,248.39 409.90,248.51 410.10,248.15 410.30,247.68 410.50,246.75 410.70,246.47 410.90,245.48 411.10,245.13 411.30,244.93 411.50,243.64 411.70,243.27 411.90,242.77 412.10,241.47 412.30,241.25 412.50,240.57 412.70,239.55 412.90,239.05 413.10,238.34 413.30,237.55 413.50,237.17 413.70,236.64 413.90,236.12 414.10,235.86 414.30,234.64 414.50,234.26 414.70,233.48 414.90,232.29 415.10,232.12 415.30,231.87 415.50,231.20 415.70,231.54 415.90,230.87 416.10,229.91 416.30,229.78 416.50,229.22 416.70,229.05 416.90,228.96 417.10,228.70 417.30,228.07 417.50,228.30 417.70,228.12 417.90,227.71 418.10,227.68 418.30,226.90 418.50,226.91 418.70,226.51 418.90,226.36 419.10,226.50 419.30,226.46 419.50,226.85 419.70,226.71 419.90,226.80 420.10,226.48 420.30,225.98 420.50,225.90 420.70,225.38 420.90,225.59 421.10,226.27 421.30,226.44 421.50,226.93 421.70,226.79 421.90,226.75 422.10,226.96 422.30,227.10 422.50,227.49 422.70,227.68 422.90,228.20 423.10,228.69 423.30,229.17 423.50,229.43 423.70,230.05 423.90,230.09 424.10,230.59 424.30,231.02 424.50,231.37 424.70,232.32 424.90,232.26 425.10,233.06 425.30,233.84 425.50,234.46 425.70,235.54 425.90,235.45 426.10,235.60 426.30,235.72 426.50,236.41 426.70,237.39 426.90,237.81 427.10,238.13 427.30,238.59 427.50,239.06 427.70,239.69 427.90,240.92 428.10,241.28 428.30,242.02 428.50,243.19 428.70,243.31 428.90,243.68 429.10,244.22 429.30,244.47 429.50,244.74 429.70,245.28 429.90,245.38 430.10,245.16 430.30,246.09 430.50,246.39 430.70,247.12 430.90,247.89 431.10,248.17 431.30,248.75 431.50,248.77 431.70,249.07 431.90,249.42 432.10,249.80 432.30,250.29 432.50,250.83 432.70,251.18 432.90,251.37 433.10,251.83 433.30,251.85 433.50,252.07 433.70,251.74 433.90,251.43 434.10,251.43 434.30,251.42 434.50,251.48 434.70,251.82 434.90,252.03 435.10,252.01 435.30,252.52 435.50,252.29 435.70,252.29 435.90,251.85 436.10,252.15 436.30,252.32 436.50,252.55 436.70,252.59 436.90,252.41 437.10,252.55 437.30,252.01 437.50,252.07 437.70,252.18 437.90,252.15 438.10,252.61 438.30,252.76 438.50,252.36 438.70,252.20 438.90,251.85 439.10,251.79 439.30,251.75 439.50,251.31 439.70,250.53 439.90,250.67 440.10,250.26 440.30,250.23 440.50,250.20 440.70,249.66 440.90,249.36 441.10,249.20 441.30,248.82 441.50,248.21 441.70,247.86 441.90,247.15 442.10,247.02 442.30,247.05 442.50,246.48 442.70,246.10 442.90,245.68 443.10,244.64 443.30,244.07 443.50,244.00 443.70,243.74 443.90,243.17 444.10,242.69 444.30,242.18 444.50,241.85 444.70,241.96 444.90,242.02 445.10,241.80 445.30,241.07 445.50,240.80 445.70,240.56 445.90,239.51 446.10,239.28 446.30,238.56 446.50,237.69 446.70,237.32 446.90,236.85 447.10,236.44 447.30,236.43 447.50,235.83 447.70,235.22 447.90,235.17 448.10,234.63 448.30,234.57 448.50,234.30 448.70,233.26 448.90,232.63 449.10,232.68 449.30,232.57 449.50,233.11 449.70,233.17 449.90,232.78 450.10,231.88 450.30,231.35 450.50,231.78 450.70,231.84 450.90,232.36 451.10,232.59 451.30,232.19 451.50,232.03 451.70,231.91 451.90,231.59 452.10,231.57 452.30,231.27 452.50,231.50 452.70,231.61 452.90,231.77 453.10,232.22 453.30,231.99 453.50,232.36 453.70,232.13 453.90,231.86 454.10,232.25 454.30,231.92 454.50,232.34 454.70,232.36 454.90,232.17 455.10,232.36 455.30,232.74 455.50,233.56 455.70,233.82 455.90,233.70 456.10,233.43 456.30,233.12 456.50,233.80 456.70,234.58 456.90,234.96 457.10,235.48 457.30,236.03 457.50,236.07 457.70,236.07 457.90,236.82 458.10,237.12 458.30,237.63 458.50,238.50 458.70,239.18 458.90,239.01 459.10,239.44 459.30,239.77 459.50,239.02 459.70,239.58 459.90,240.20 460.10,240.45 460.30,241.65 460.50,242.28 460.70,242.38 460.90,242.94 461.10,243.19 461.30,242.96 461.50,243.23 461.70,243.28 461.90,243.41 462.10,244.09 462.30,244.32 462.50,244.90 462.70,244.93 462.90,245.66 463.10,246.46 463.30,247.15 463.50,248.06 463.70,248.02 463.90,247.91 464.10,248.04 464.30,248.26 464.50,248.79 464.70,249.64 464.90,250.06 465.10,250.32 465.30,250.93 465.50,250.97 465.70,250.90 465.90,251.31 466.10,251.34 466.30,251.93 466.50,251.65 466.70,252.01 466.90,251.52 467.10,251.17 467.30,251.89 467.50,251.98 467.70,252.23 467.90,252.05 468.10,252.29 468.30,252.16 468.50,252.23 468.70,252.65 468.90,251.94 469.10,252.05 469.30,252.21 469.50,252.64 469.70,252.62 469.90,252.66 470.10,253.36 470.30,253.06 470.50,253.61 470.70,252.90 470.90,252.38 471.10,252.30 471.30,252.05 471.50,252.06 471.70,251.91 471.90,251.54 472.10,251.46 472.30,251.83 472.50,251.67 472.70,251.80 472.90,252.03 473.10,251.49 473.30,251.70 473.50,251.23 473.70,250.56 473.90,250.71 474.10,250.35 474.30,250.50 474.50,250.40 474.70,249.96 474.90,249.45 475.10,248.89 475.30,248.90 475.50,248.77 475.70,248.98 475.90,248.77 476.10,248.30 476.30,248.19 476.50,247.19 476.70,246.91 476.90,247.37 477.10,246.95 477.30,247.32 477.50,246.90 477.70,245.21 477.90,245.04 478.10,244.32 478.30,244.33 478.50,244.56 478.70,243.93 478.90,243.29 479.10,243.16 479.30,242.51 479.50,242.59 479.70,242.53 479.90,241.65 480.10,241.55 480.30,241.24 480.50,241.18 480.70,241.29 480.90,241.18 481.10,240.34 481.30,240.19 481.50,239.66 481.70,239.20 481.90,239.07 482.10,238.34 482.30,237.80 482.50,237.57 482.70,237.24 482.90,236.97 483.10,236.67 483.30,237.06 483.50,236.73 483.70,236.74 483.90,237.08 484.10,236.65 484.30,237.29 484.50,237.15 484.70,237.10 484.90,236.57 485.10,236.33 485.30,235.74 485.50,235.37 485.70,235.46 485.90,235.17 486.10,235.68 486.30,235.98 486.50,236.00 486.70,235.77 486.90,235.58 487.10,235.64 487.30,235.56 487.50,235.80 487.70,235.73 487.90,234.89 488.10,234.69 488.30,234.59 488.50,235.11 488.70,236.03 488.90,236.71 489.10,236.52 489.30,236.39 489.50,236.10 489.70,235.93 489.90,236.22 490.10,235.78 490.30,236.12 490.50,236.19 490.70,236.58 490.90,236.88 491.10,237.14 491.30,237.53 491.50,237.86 491.70,238.66 491.90,238.47 492.10,237.70 492.30,237.81 492.50,237.41 492.70,237.70 492.90,238.90 493.10,238.95 493.30,239.50 493.50,240.00 493.70,239.46 493.90,240.14 494.10,240.24 494.30,240.24 494.50,241.17 494.70,240.91 494.90,241.05 495.10,241.38 495.30,241.40 495.50,241.54 495.70,242.60 495.90,242.54 496.10,242.33 496.30,242.55 496.50,242.04 496.70,243.09 496.90,244.01 497.10,244.78 497.30,245.49 497.50,245.15 497.70,245.62 497.90,245.73 498.10,246.36 498.30,246.94 498.50,246.98 498.70,247.41 498.90,247.37 499.10,247.10 499.30,247.71 499.50,248.06 499.70,248.35 499.90,248.78 500.10,248.16 500.30,248.03 500.50,248.25 500.70,248.91 500.90,249.41 501.10,249.97 501.30,249.61 501.50,249.33 501.70,249.79 501.90,249.58 502.10,249.95 502.30,250.10 502.50,250.57 502.70,250.59 502.90,251.05 503.10,251.82 503.30,251.66 503.50,252.16 503.70,252.45 503.90,252.79 504.10,253.18 504.30,252.84 504.50,252.15 504.70,251.64 504.90,251.15 505.10,251.74 505.30,252.35 505.50,252.50 505.70,253.14 505.90,253.30 506.10,253.28 506.30,253.46 506.50,253.47 506.70,253.11 506.90,253.20 507.10,252.84 507.30,252.54 507.50,252.70 507.70,252.57 507.90,252.85 508.10,252.98 508.30,252.96 508.50,252.74 508.70,252.46 508.90,251.87 509.10,252.13 509.30,252.35 509.50,252.55 509.70,252.74 509.90,252.31 510.10,252.23 510.30,251.79 510.50,251.67 510.70,251.72 510.90,251.09 511.10,250.89 511.30,250.94 511.50,250.26 511.70,250.65 511.90,250.45 512.10,250.18 512.30,250.44 512.50,250.16 512.70,250.48 512.90,250.18 513.10,249.72 513.30,249.41 513.50,249.15 513.70,249.98 513.90,249.79 514.10,250.09 514.30,249.66 514.50,248.15 514.70,247.88 514.90,247.25 515.10,247.14 515.30,247.25 515.50,247.24 515.70,247.06 515.90,247.03 516.10,246.44 516.30,246.06 516.50,245.41 516.70,245.00 516.90,245.06 517.10,244.87 517.30,244.77 517.50,244.24 517.70,243.97 517.90,243.87 518.10,243.98 518.30,243.53 518.50,243.45 518.70,243.12 518.90,242.30 519.10,242.24 519.30,241.80 519.50,241.62 519.70,241.18 519.90,241.17 520.10,240.96 520.30,240.71 520.50,241.53 520.70,241.82 520.90,241.67 521.10,241.35 521.30,240.86 521.50,240.66 521.70,241.00 521.90,241.04 522.10,241.22 522.30,240.52 522.50,239.69 522.70,238.71 522.90,237.96 523.10,238.25 523.30,238.69 523.50,240.29 523.70,240.59 523.90,240.39 524.10,239.82 524.30,238.65 524.50,238.26 524.70,238.10 524.90,238.14 525.10,237.87 525.30,238.28 525.50,238.44 525.70,238.97 525.90,238.91 526.10,238.27 526.30,237.95 526.50,237.91 526.70,238.31 526.90,238.75 527.10,238.96 527.30,238.72 527.50,238.67 527.70,238.76 527.90,238.61 528.10,238.55 528.30,238.84 528.50,238.84 528.70,239.27 528.90,239.20 529.10,239.28 529.30,239.27 529.50,239.36 529.70,240.09 529.90,239.89 530.10,240.37 530.30,240.21 530.50,239.82 530.70,240.65 530.90,240.76 531.10,241.23 531.30,241.72 531.50,241.74 531.70,241.44 531.90,241.53 532.10,241.37 532.30,241.33 532.50,241.63 532.70,241.94 532.90,242.24 533.10,242.14 533.30,242.40 533.50,242.51 533.70,243.00 533.90,243.31 534.10,243.42 534.30,243.57 534.50,243.69 534.70,243.79 534.90,243.41 535.10,243.63 535.30,243.54 535.50,243.79 535.70,245.38 535.90,245.48 536.10,245.78"/>
<line x1="51.70" y1="153.10" x2="51.70" y2="258.70" stroke="#161616" stroke-width="1.40"/>
<line x1="51.00" y1="258.10" x2="536.30" y2="258.10" stroke="#161616" stroke-width="1.40"/>
<line x1="51.70" y1="252.90" x2="57.20" y2="252.90" stroke="#161616" stroke-width="1.40"/>
<text x="44.70" y="258.05" text-anchor="end" font-size="14.30" fill="#111" stroke="#111" stroke-width="0.22">0.0</text>
<line x1="51.70" y1="203.30" x2="57.20" y2="203.30" stroke="#161616" stroke-width="1.40"/>
<text x="44.70" y="208.45" text-anchor="end" font-size="14.30" fill="#111" stroke="#111" stroke-width="0.22">0.5</text>
<line x1="51.70" y1="153.70" x2="57.20" y2="153.70" stroke="#161616" stroke-width="1.40"/>
<text x="44.70" y="158.85" text-anchor="end" font-size="14.30" fill="#111" stroke="#111" stroke-width="0.22">1.0</text>
<line x1="51.70" y1="258.10" x2="51.70" y2="252.60" stroke="#161616" stroke-width="1.40"/>
<text x="51.70" y="278.95" text-anchor="middle" font-size="14.30" fill="#111" stroke="#111" stroke-width="0.22">0</text>
<line x1="109.31" y1="258.10" x2="109.31" y2="252.60" stroke="#161616" stroke-width="1.40"/>
<text x="109.31" y="278.95" text-anchor="middle" font-size="14.30" fill="#111" stroke="#111" stroke-width="0.22">50</text>
<line x1="166.91" y1="258.10" x2="166.91" y2="252.60" stroke="#161616" stroke-width="1.40"/>
<text x="166.91" y="278.95" text-anchor="middle" font-size="14.30" fill="#111" stroke="#111" stroke-width="0.22">100</text>
<line x1="224.52" y1="258.10" x2="224.52" y2="252.60" stroke="#161616" stroke-width="1.40"/>
<text x="224.52" y="278.95" text-anchor="middle" font-size="14.30" fill="#111" stroke="#111" stroke-width="0.22">150</text>
<line x1="282.13" y1="258.10" x2="282.13" y2="252.60" stroke="#161616" stroke-width="1.40"/>
<text x="282.13" y="278.95" text-anchor="middle" font-size="14.30" fill="#111" stroke="#111" stroke-width="0.22">200</text>
<line x1="339.74" y1="258.10" x2="339.74" y2="252.60" stroke="#161616" stroke-width="1.40"/>
<text x="339.74" y="278.95" text-anchor="middle" font-size="14.30" fill="#111" stroke="#111" stroke-width="0.22">250</text>
<line x1="397.34" y1="258.10" x2="397.34" y2="252.60" stroke="#161616" stroke-width="1.40"/>
<text x="397.34" y="278.95" text-anchor="middle" font-size="14.30" fill="#111" stroke="#111" stroke-width="0.22">300</text>
<line x1="454.95" y1="258.10" x2="454.95" y2="252.60" stroke="#161616" stroke-width="1.40"/>
<text x="454.95" y="278.95" text-anchor="middle" font-size="14.30" fill="#111" stroke="#111" stroke-width="0.22">350</text>
<line x1="512.56" y1="258.10" x2="512.56" y2="252.60" stroke="#161616" stroke-width="1.40"/>
<text x="512.56" y="278.95" text-anchor="middle" font-size="14.30" fill="#111" stroke="#111" stroke-width="0.22">400</text>
<text transform="translate(16.80,205.50) rotate(-90)" text-anchor="middle" font-size="14.30" fill="#111" stroke="#111" stroke-width="0.22" xml:space="preserve">Signal  / pA</text>
<line x1="105.00" y1="218.60" x2="105.00" y2="225.90" stroke="#161616" stroke-width="1.50"/>
<text x="104.80" y="214.70" text-anchor="middle" font-size="13.30" fill="#111" stroke="#111" stroke-width="0.22">70</text>
<line x1="168.70" y1="158.10" x2="168.70" y2="163.90" stroke="#161616" stroke-width="1.50"/>
<text x="166.80" y="154.40" text-anchor="middle" font-size="13.30" fill="#111" stroke="#111" stroke-width="0.22">80</text>
<line x1="315.40" y1="189.40" x2="315.40" y2="197.40" stroke="#161616" stroke-width="1.50"/>
<text x="315.20" y="186.50" text-anchor="middle" font-size="13.30" fill="#111" stroke="#111" stroke-width="0.22">90</text>
<text x="535.60" y="167.30" text-anchor="end" font-size="13.30" fill="#111" stroke="#111" stroke-width="0.22">PEG 4200</text>
<text x="535.60" y="184.20" text-anchor="end" font-size="13.30" fill="#111" stroke="#111" stroke-width="0.22">50°C, 32vol% ACN</text>
<text x="535.60" y="201.10" text-anchor="end" font-size="13.30" fill="#111" stroke="#111" stroke-width="0.22">2g/L, 20<tspan font-family="'Liberation Serif', serif" font-style="italic" font-size="12.5" stroke-width="0.1">μ</tspan>L</text>
<clipPath id="c3"><rect x="51.70" y="297.20" width="485.90" height="104.80"/></clipPath>
<polyline fill="none" stroke="#196af8" stroke-width="1.50" stroke-linejoin="round" stroke-linecap="round" clip-path="url(#c3)" points="51.70,398.40 51.75,377.33 51.79,352.65 51.84,331.88 51.88,315.96 51.93,293.10 51.98,293.10 52.02,293.10 52.07,293.10 52.11,293.10 52.16,293.10 52.21,293.10 52.25,293.10 52.30,293.10 52.35,293.10 52.39,293.10 52.44,293.10 52.48,293.10 52.53,293.10 52.58,293.10 52.62,300.17 52.67,293.10 52.71,293.10 52.76,293.10 52.81,293.10 52.85,293.10 52.90,293.10 52.94,293.10 52.99,315.14 53.04,293.10 53.08,297.33 53.13,317.28 53.17,293.10 53.22,293.10 53.27,314.79 53.31,293.10 53.36,310.43 53.41,293.10 53.45,293.10 53.50,317.98 53.54,293.10 53.59,293.10 53.64,293.10 53.68,293.10 53.73,304.82 53.77,293.10 53.82,293.10 53.87,331.66 53.91,293.10 53.96,309.99 54.00,303.74 54.05,330.67 54.10,293.10 54.14,320.20 54.19,293.10 54.23,322.63 54.28,299.86 54.33,313.57 54.37,296.52 54.42,331.36 54.47,333.32 54.51,293.10 54.56,293.10 54.60,302.47 54.65,293.10 54.70,334.11 54.74,293.10 54.79,338.43 54.83,293.10 54.88,300.15 54.93,302.03 54.97,293.10 55.02,293.10 55.06,293.10 55.11,352.83 55.16,325.34 55.20,351.11 55.25,341.74 55.29,340.28 55.34,293.10 55.39,348.79 55.43,333.87 55.48,316.51 55.53,293.10 55.57,293.10 55.62,297.99 55.66,343.10 55.71,313.36 55.76,299.05 55.80,358.84 55.85,302.03 55.89,330.71 55.94,310.81 55.99,303.85 56.03,304.15 56.08,317.86 56.12,315.22 56.17,348.33 56.22,321.35 56.26,355.73 56.31,345.84 56.35,293.10 56.40,367.45 56.45,308.92 56.49,306.49 56.54,369.45 56.59,297.24 56.63,312.65 56.68,370.64 56.72,306.38 56.77,299.17 56.82,370.41 56.86,335.99 56.91,293.10 56.95,351.75 57.00,369.10 57.05,297.24 57.09,300.65 57.14,369.43 57.18,359.54 57.23,293.10 57.28,309.72 57.32,372.03 57.37,362.50 57.41,293.79 57.46,299.82 57.51,365.02 57.55,374.43 57.60,319.32 57.65,293.10 57.69,335.86 57.74,377.63 57.78,362.19 57.83,300.55 57.88,293.10 57.92,348.16 57.97,379.38 58.01,361.49 58.06,303.36 58.11,293.10 58.15,339.63 58.20,378.62 58.24,373.83 58.29,325.54 58.34,293.10 58.38,312.47 58.43,363.90 58.47,382.03 58.52,364.22 58.57,313.32 58.61,293.10 58.66,319.84 58.71,367.21 58.75,383.41 58.80,369.28 58.84,323.70 58.89,293.10 58.94,309.92 58.98,354.70 59.03,382.69 59.07,382.20 59.12,352.97 59.17,310.13 59.21,296.50 59.26,323.69 59.30,364.55 59.35,385.47 59.40,383.07 59.44,355.63 59.49,315.77 59.53,298.63 59.58,318.21 59.63,356.15 59.67,383.11 59.72,387.43 59.77,372.92 59.81,337.47 59.86,305.44 59.90,302.73 59.95,329.19 60.00,364.72 60.04,386.19 60.09,388.46 60.13,373.82 60.18,340.78 60.23,309.19 60.27,301.86 60.32,321.99 60.36,355.49 60.41,382.00 60.46,390.34 60.50,385.41 60.55,362.49 60.59,329.07 60.64,305.10 60.69,305.73 60.73,328.52 60.78,360.22 60.82,384.12 60.87,391.77 60.92,388.09 60.96,368.61 61.01,337.79 61.06,311.18 61.10,303.84 61.15,318.31 61.19,346.04 61.24,373.45 61.29,389.14 61.33,391.60 61.38,384.37 61.42,363.14 61.47,334.30 61.52,311.25 61.56,305.35 61.61,317.87 61.65,342.57 61.70,368.48 61.75,385.70 61.79,390.69 61.84,387.88 61.88,373.67 61.93,349.53 61.98,324.11 62.02,308.20 62.07,308.71 62.12,323.86 62.16,347.33 62.21,370.28 62.25,385.19 62.30,389.60 62.35,387.52 62.39,376.07 62.44,355.32 62.48,331.36 62.53,313.03 62.58,307.38 62.62,315.63 62.67,334.00 62.71,356.26 62.76,375.39 62.81,386.17 62.85,388.47 62.90,385.42 62.94,373.72 62.99,354.11 63.04,331.63 63.08,313.76 63.13,306.42 63.18,311.46 63.22,326.52 63.27,345.61 63.31,365.55 63.36,380.77 63.41,387.79 63.45,388.32 63.50,382.13 63.54,365.50 63.59,340.48 63.64,314.03 63.68,293.38 63.73,293.10 63.77,293.10 63.82,307.73 63.87,331.97 63.91,356.95 63.96,376.91 64.00,388.11 64.05,390.98 64.10,388.85 64.14,378.35 64.19,358.92 64.24,333.76 64.28,309.59 64.33,293.10 64.37,293.10 64.42,294.99 64.47,311.84 64.51,334.15 64.56,357.01 64.60,375.85 64.65,387.61 64.70,391.88 64.74,391.69 64.79,386.38 64.83,374.29 64.88,356.64 64.93,336.81 64.97,319.37 65.02,308.13 65.06,306.06 65.11,312.49 65.16,326.01 65.20,343.43 65.25,361.60 65.30,377.04 65.34,387.47 65.39,392.32 65.43,393.10 65.48,390.81 65.53,383.89 65.57,372.07 65.62,357.05 65.66,341.49 65.71,328.62 65.76,320.76 65.80,319.91 65.85,325.46 65.89,336.14 65.94,350.05 65.99,364.69 66.03,377.64 66.08,387.26 66.12,392.60 66.17,394.08 66.22,393.37 66.26,389.58 66.31,381.67 66.36,370.20 66.40,357.02 66.45,344.17 66.49,333.98 66.54,328.30 66.59,328.07 66.63,332.87 66.68,341.79 66.72,353.32 66.77,365.77 66.82,377.33 66.86,386.47 66.91,392.37 66.95,394.93 67.00,395.12 67.05,393.54 67.09,388.83 67.14,380.88 67.18,370.51 67.23,358.96 67.28,347.96 67.32,339.29 67.37,334.35 67.42,333.79 67.46,337.44 67.51,344.58 67.55,354.09 67.60,364.71 67.65,375.27 67.69,384.08 67.74,390.54 67.78,394.21 67.83,395.53"/>
<polyline fill="none" stroke="#196af8" stroke-width="1.25" stroke-linejoin="round" stroke-linecap="round" clip-path="url(#c3)" points="67.83,395.53 67.88,395.19 67.92,393.28 67.97,388.72 68.01,381.60 68.06,372.54 68.11,362.70 68.15,353.29 68.20,345.55 68.24,340.80 68.29,339.47 68.34,341.49 68.38,346.58 68.43,353.96 68.48,362.88 68.52,371.95 68.57,380.49 68.61,387.41 68.66,392.46 68.71,395.06 68.75,395.89 68.80,395.73 68.84,393.99 68.89,390.13 68.94,384.36 68.98,376.87 69.03,368.37 69.07,359.97 69.12,352.60 69.17,347.25 69.21,344.39 69.26,344.43 69.30,347.25 69.35,352.28 69.40,358.97 69.44,366.69 69.49,374.80 69.54,382.24 69.58,388.30 69.63,392.71 69.67,395.26 69.72,396.19 69.77,396.23 69.81,395.25 69.86,392.57 69.90,388.22 69.95,382.19 70.00,375.12 70.04,367.38 70.09,360.24 70.13,354.17 70.18,349.78 70.23,347.59 70.27,347.92 70.32,350.32 70.36,354.68 70.41,360.44 70.46,367.28 70.50,374.37 70.55,381.16 70.60,387.03 70.64,391.56 70.69,394.67 70.73,396.21 70.78,396.74 70.83,396.45 70.87,395.26 70.92,392.64 70.96,388.67 71.01,383.27 71.06,376.90 71.10,370.23 71.15,363.88 71.19,358.24 71.24,354.04 71.29,351.52 71.33,351.03 71.38,352.30 71.42,355.36 71.47,359.80 71.52,365.27 71.56,371.27 71.61,377.44 71.66,383.30 71.70,388.16 71.75,392.17 71.79,394.88 71.84,396.26 71.89,396.75 71.93,396.72 71.98,395.85 72.02,394.01 72.07,390.83 72.12,386.62 72.16,381.20 72.21,375.61 72.25,369.55 72.30,364.09 72.35,359.35 72.39,355.76 72.44,353.70 72.48,353.32 72.53,354.46 72.58,357.16 72.62,360.96 72.67,365.81 72.72,371.06 72.76,376.62 72.81,381.99 72.85,386.77 72.90,390.76 72.95,393.75 72.99,395.69 73.04,396.72 73.08,396.97 73.13,396.70 73.18,395.98 73.22,394.09 73.27,391.11 73.31,387.58 73.36,382.88 73.41,377.70 73.45,372.59 73.50,367.26 73.54,363.08 73.59,359.21 73.64,356.75 73.68,355.68 73.73,356.04 73.78,357.54 73.82,360.29 73.87,363.80 73.91,368.26 73.96,372.97 74.01,377.77 74.05,382.64 74.10,386.91 74.14,390.54 74.19,393.51 74.24,395.35 74.28,396.55 74.33,397.10 74.37,397.01 74.42,396.64 74.47,395.50 74.51,393.48 74.56,390.69 74.60,386.95 74.65,382.81 74.70,378.04 74.74,373.31 74.79,368.61 74.84,364.51 74.88,361.05 74.93,358.58 74.97,357.07 75.02,356.86 75.07,357.76 75.11,359.82 75.16,362.80 75.20,366.46 75.25,370.57 75.30,375.04 75.34,379.41 75.39,383.72 75.43,387.71 75.48,390.99 75.53,393.45 75.57,395.37 75.62,396.53 75.66,396.91 75.71,397.09 75.76,396.85 75.80,396.11 75.85,394.78 75.90,392.42 75.94,389.72 75.99,386.23 76.03,382.35 76.08,378.10 76.13,373.96 76.17,369.95 76.22,366.48 76.26,363.41 76.31,361.33 76.36,359.95 76.40,359.68 76.45,360.38 76.49,361.75 76.54,364.14 76.59,367.07 76.63,370.54 76.68,374.33 76.72,378.15 76.77,381.99 76.82,385.81 76.86,388.90 76.91,391.72 76.95,393.88 77.00,395.50 77.05,396.61 77.09,397.06 77.14,396.93 77.19,396.92 77.23,396.53 77.28,395.36 77.32,393.79 77.37,391.70 77.42,389.01 77.46,385.81 77.51,382.20 77.55,378.61 77.60,375.04 77.65,371.60 77.69,368.54 77.74,366.23 77.78,364.23 77.83,363.15 77.88,362.84 77.92,363.21 77.97,364.29 78.01,366.06 78.06,368.48 78.11,371.19 78.15,374.12 78.20,377.67 78.25,381.09 78.29,384.23 78.34,387.28 78.38,390.04 78.43,392.49 78.48,394.19 78.52,395.69 78.57,396.59 78.61,396.99 78.66,397.07 78.71,396.95 78.75,396.62 78.80,395.94 78.84,394.66 78.89,393.05 78.94,390.85 78.98,388.49 79.03,385.65 79.07,382.38 79.12,379.39 79.17,376.17 79.21,373.20 79.26,370.58 79.31,368.36 79.35,366.51 79.40,365.73 79.44,365.01 79.49,365.09 79.54,366.06 79.58,367.40 79.63,369.17 79.67,371.33 79.72,374.16 79.77,376.87 79.81,379.82 79.86,382.70 79.90,385.59 79.95,388.20 80.00,390.67 80.04,392.67 80.09,394.38 80.13,395.62 80.18,396.42 80.23,396.89 80.27,397.15 80.32,396.92 80.37,396.90 80.41,396.54 80.46,395.52 80.50,394.47 80.55,392.77 80.60,390.86 80.64,388.57 80.69,386.06 80.73,383.44 80.78,380.64 80.83,377.76 80.87,375.54 80.92,373.01 80.96,370.97 81.01,369.49 81.06,368.39 81.10,367.47 81.15,367.58 81.19,367.77 81.24,368.76 81.29,370.10 81.33,371.75 81.38,373.75 81.43,375.98 81.47,378.49 81.52,381.06 81.56,383.62 81.61,386.01 81.66,388.40 81.70,390.68 81.75,392.52 81.79,393.99 81.84,395.29 81.89,396.16 81.93,396.78 81.98,397.01 82.02,397.03 82.07,396.94 82.12,396.82 82.16,396.18 82.21,395.60 82.25,394.22 82.30,392.99 82.35,391.32 82.39,389.41 82.44,387.41 82.49,384.81 82.53,382.34 82.58,379.73 82.62,377.66 82.67,375.15 82.72,373.37 82.76,371.60 82.81,370.59 82.85,369.44 82.90,369.02 82.95,368.92 82.99,369.38 83.04,370.28 83.08,371.25 83.13,372.76 83.18,374.53 83.22,376.49 83.27,378.64 83.31,381.00 83.36,383.42 83.41,385.68 83.45,387.60 83.50,389.68 83.55,391.55 83.59,393.18 83.64,394.45 83.68,395.49 83.73,396.27 83.78,396.80 83.82,396.78 83.87,397.04 83.91,397.10 83.96,397.01 84.01,396.60 84.05,395.87 84.10,394.99 84.14,393.94 84.19,392.51 84.24,390.89 84.28,389.11 84.33,386.86 84.37,384.82 84.42,382.44 84.47,380.57 84.51,378.42 84.56,376.36 84.61,374.71 84.65,373.31 84.70,372.06 84.74,371.08 84.79,370.55 84.84,370.46 84.88,370.58 84.93,371.14 84.97,372.08 85.02,373.27 85.07,374.72 85.11,376.29 85.16,378.07 85.20,380.09 85.25,382.07 85.30,384.19 85.34,386.30 85.39,388.19 85.43,389.83 85.48,391.50 85.53,392.84 85.57,394.23 85.62,395.16 85.67,395.88 85.71,396.45 85.76,396.94 85.80,397.05 85.85,397.05 85.90,397.12 85.94,396.81 85.99,396.40 86.03,395.99 86.08,394.97 86.13,394.18 86.17,392.95 86.22,391.52 86.26,389.96 86.31,388.10 86.36,386.28 86.40,384.20 86.45,382.38 86.49,380.50 86.54,378.77 86.59,377.23 86.63,375.61 86.68,374.42 86.73,373.23 86.77,372.61 86.82,372.02 86.86,372.01 86.91,372.19 86.96,372.72 87.00,373.44 87.05,374.37 87.09,375.53 87.14,377.09 87.19,378.51 87.23,379.96 87.28,381.99 87.32,383.80 87.37,385.65 87.42,387.49 87.46,388.90 87.51,390.60 87.55,392.01 87.60,393.13 87.65,394.16 87.69,395.42 87.74,395.93 87.79,396.49 87.83,396.85 87.88,397.03 87.92,397.14 87.97,396.97 88.02,396.98 88.06,396.79 88.11,396.32 88.15,395.80 88.20,395.09 88.25,394.17 88.29,392.89 88.34,391.74 88.38,390.36 88.43,388.89 88.48,387.18 88.52,385.55 88.57,383.71 88.61,381.99 88.66,380.59 88.71,378.83 88.75,377.35 88.80,376.16 88.85,375.25 88.89,374.19 88.94,373.83 88.98,373.58 89.03,373.52 89.08,373.60 89.12,373.92 89.17,374.56 89.21,375.52 89.26,376.72 89.31,377.88 89.35,379.26 89.40,380.65 89.44,382.37 89.49,383.76 89.54,385.31 89.58,387.00 89.63,388.49 89.67,390.12 89.72,391.56 89.77,392.72 89.81,393.64 89.86,394.62 89.91,395.58 89.95,396.04 90.00,396.68 90.04,396.80 90.09,397.10 90.14,397.28 90.18,397.16 90.23,397.29 90.27,397.17 90.32,396.96 90.37,396.36 90.41,395.83 90.46,395.11 90.50,394.27 90.55,393.03 90.60,392.07 90.64,390.81 90.69,389.20 90.73,387.71 90.78,386.32 90.83,385.03 90.87,383.38 90.92,381.76 90.97,380.42 91.01,378.94 91.06,378.11 91.10,376.86 91.15,376.17 91.20,375.30 91.24,375.02 91.29,374.68 91.33,374.88 91.38,375.17 91.43,375.53 91.47,376.05 91.52,376.85 91.56,377.51 91.61,378.55 91.66,379.85 91.70,381.28 91.75,382.53 91.79,384.00 91.84,385.18 91.89,386.75 91.93,388.14 91.98,389.60 92.03,391.09 92.07,392.15 92.12,393.29 92.16,394.09 92.21,394.98 92.26,395.80 92.30,396.33 92.35,396.54 92.39,397.15 92.44,397.34 92.49,397.36 92.53,397.44 92.58,397.39 92.62,397.20 92.67,396.89 92.72,397.02 92.76,396.40 92.81,395.86 92.85,395.20 92.90,394.40 92.95,393.49 92.99,392.28 93.04,391.31 93.08,390.04 93.13,388.72 93.18,387.37 93.22,386.03 93.27,384.53 93.32,383.31 93.36,382.00 93.41,380.82 93.45,379.82 93.50,378.80 93.55,377.97 93.59,377.11 93.64,376.68 93.68,376.36 93.73,376.02 93.78,375.99 93.82,376.44 93.87,376.36 93.91,377.05 93.96,377.71 94.01,378.35 94.05,379.37 94.10,380.47 94.14,381.23 94.19,382.81 94.24,383.92 94.28,385.07 94.33,386.58 94.38,387.74 94.42,388.93 94.47,389.89 94.51,391.45 94.56,392.42 94.61,393.32 94.65,394.28 94.70,395.22 94.74,395.68 94.79,396.27 94.84,396.67 94.88,396.91 94.93,397.15 94.97,397.35 95.02,397.42 95.07,397.61 95.11,397.47 95.16,397.34 95.20,397.25 95.25,396.92 95.30,396.67 95.34,395.89 95.39,395.23 95.44,394.85 95.48,393.94 95.53,393.12 95.57,391.94 95.62,390.98 95.67,389.89 95.71,388.76 95.76,387.51 95.80,386.44 95.85,385.02 95.90,384.02 95.94,382.73 95.99,381.72 96.03,380.62 96.08,379.89 96.13,378.99 96.17,378.60 96.22,377.90 96.26,377.66 96.31,377.40 96.36,377.37 96.40,377.34 96.45,377.95 96.50,378.01 96.54,378.73 96.59,378.99 96.63,380.12 96.68,380.82 96.73,381.81 96.77,382.37 96.82,383.79 96.86,384.70 96.91,385.91 96.96,387.21 97.00,388.16 97.05,389.15 97.09,390.35 97.14,391.24 97.19,392.40 97.23,393.27 97.28,394.16 97.32,394.82 97.37,395.27 97.42,396.04 97.46,396.54 97.51,397.02 97.56,397.32 97.60,397.22 97.65,397.68 97.69,397.71 97.74,397.61 97.79,397.64 97.83,397.26 97.88,397.71 97.92,397.14 97.97,396.80 98.02,396.67 98.06,396.12 98.11,395.40 98.15,394.57 98.20,394.16 98.25,393.42 98.29,392.15 98.34,391.10 98.38,390.33 98.43,389.52 98.48,387.91 98.52,387.04 98.57,385.75 98.62,384.83 98.66,383.83 98.71,382.85 98.75,381.64 98.80,380.79 98.85,380.54 98.89,379.71 98.94,378.77 98.98,378.65 99.03,378.49 99.08,378.12 99.12,378.10 99.17,378.18 99.21,378.44 99.26,378.74 99.31,379.19 99.35,379.61 99.40,380.41 99.44,381.06 99.49,381.84 99.54,382.49 99.58,383.56 99.63,384.61 99.68,385.53 99.72,386.58 99.77,387.52 99.81,388.64 99.86,389.46 99.91,390.52 99.95,391.69 100.00,392.65 100.04,393.29 100.09,394.13 100.14,394.93 100.18,395.77 100.23,396.37 100.27,396.49 100.32,396.81 100.37,397.10 100.41,397.65 100.46,397.43 100.50,397.77 100.55,397.66 100.60,397.66 100.64,397.84 100.69,397.75 100.74,397.86 100.78,397.50 100.83,397.38 100.87,396.69 100.92,396.33 100.97,395.69 101.01,395.20 101.06,394.70 101.10,393.81 101.15,393.13 101.20,392.11 101.24,391.25 101.29,390.51 101.33,389.37 101.38,388.36 101.43,387.42 101.47,386.21 101.52,385.09 101.56,384.48 101.61,383.57 101.66,383.02 101.70,381.88 101.75,381.21 101.80,380.86 101.84,379.91 101.89,379.42 101.93,379.31 101.98,379.02 102.03,379.01 102.07,378.72 102.12,379.22 102.16,379.22 102.21,379.13 102.26,379.86 102.30,380.28 102.35,380.96 102.39,381.78 102.44,382.31 102.49,383.01 102.53,384.10 102.58,384.73 102.62,385.49 102.67,386.45 102.72,387.86 102.76,388.70 102.81,389.76 102.86,390.20 102.90,391.18 102.95,392.02 102.99,393.12 103.04,393.94 103.09,394.43 103.13,395.07 103.18,395.82 103.22,396.15 103.27,396.50 103.32,396.94 103.36,397.47 103.41,397.89 103.45,397.72 103.50,397.75 103.55,397.89 103.59,397.95 103.64,398.00 103.68,397.71 103.73,397.79 103.78,397.65 103.82,397.68 103.87,397.38 103.92,396.93 103.96,396.78 104.01,396.39 104.05,395.71 104.10,394.85 104.15,394.40 104.19,393.46 104.24,393.01 104.28,392.25 104.33,391.62 104.38,390.60 104.42,389.32 104.47,388.63 104.51,387.65 104.56,386.75 104.61,386.00 104.65,385.18 104.70,384.30 104.74,383.41 104.79,382.73 104.84,382.07 104.88,381.54 104.93,381.21 104.98,380.68 105.02,380.47 105.07,379.84 105.11,380.29 105.16,379.86 105.21,379.38 105.25,380.05 105.30,380.41 105.34,380.48 105.39,380.59 105.44,381.32 105.48,381.68 105.53,382.36 105.57,383.10 105.62,383.08 105.67,384.44 105.71,385.34 105.76,386.14 105.80,386.79 105.85,387.63 105.90,388.41 105.94,389.39 105.99,390.55 106.04,390.97 106.08,391.94 106.13,392.70 106.17,393.68 106.22,394.18 106.27,394.85 106.31,395.29 106.36,396.11 106.40,396.27 106.45,396.67 106.50,397.28 106.54,397.47 106.59,397.75 106.63,397.56 106.68,398.41 106.73,398.03 106.77,398.35 106.82,398.11 106.86,397.84 106.91,398.13 106.96,397.91 107.00,398.02 107.05,397.28 107.10,397.30 107.14,396.99 107.19,397.21 107.23,396.79 107.28,395.89 107.33,395.68 107.37,395.16 107.42,394.44 107.46,394.15 107.51,393.03 107.56,392.48 107.60,391.63 107.65,391.11 107.69,390.06 107.74,389.53 107.79,388.36 107.83,387.52 107.88,386.79 107.92,386.11 107.97,385.35 108.02,385.39 108.06,383.94 108.11,383.58 108.16,382.95 108.20,382.54 108.25,382.37 108.29,381.82 108.34,381.27 108.39,380.90 108.43,381.24 108.48,381.26 108.52,380.76 108.57,381.40 108.62,380.91 108.66,381.62 108.71,382.15 108.75,382.10 108.80,382.37 108.85,383.59 108.89,383.44 108.94,384.46 108.98,384.68 109.03,385.78 109.08,386.76 109.12,387.00 109.17,387.64 109.21,388.12 109.26,388.96 109.31,389.95 109.35,390.90 109.40,391.70 109.45,392.35 109.49,393.16 109.54,393.68 109.58,394.83 109.63,394.77 109.68,395.36 109.72,395.23 109.77,396.11 109.81,396.80 109.86,396.90 109.91,397.62 109.95,397.72 110.00,398.23 110.04,397.59 110.09,397.90 110.14,398.40 110.18,398.17 110.23,397.95 110.27,398.06 110.32,398.07 110.37,398.33 110.41,398.20 110.46,397.91 110.51,397.56 110.55,397.78 110.60,397.61 110.64,396.76 110.69,396.92 110.74,396.03 110.78,395.79 110.83,395.15 110.87,394.40 110.92,394.09 110.97,393.46 111.01,393.24 111.06,392.52 111.10,391.49 111.15,390.56 111.20,389.88 111.24,388.92 111.29,388.69 111.33,388.00 111.38,387.09 111.43,386.66 111.47,386.02 111.52,385.64 111.57,384.53 111.61,384.50 111.66,383.59 111.70,383.63 111.75,382.60 111.80,382.80 111.84,382.05 111.89,382.47 111.93,382.03 111.98,381.54 112.03,382.05 112.07,381.88 112.12,382.15 112.16,382.80 112.21,382.36 112.26,382.63 112.30,383.37 112.35,383.34 112.39,384.14 112.44,384.69 112.49,384.96 112.53,385.71 112.58,385.53 112.63,387.17 112.67,387.21 112.72,387.81 112.76,389.27 112.81,389.89 112.86,389.97 112.90,390.93 112.95,391.37 112.99,391.83 113.04,392.88 113.09,393.68 113.13,394.72 113.18,394.50 113.22,395.33 113.27,395.49 113.32,395.97 113.36,396.82 113.41,396.35 113.45,396.85 113.50,397.20 113.55,397.99 113.59,397.99 113.64,398.19 113.69,398.27 113.73,398.55 113.78,398.19 113.82,398.27 113.87,398.24 113.92,398.48 113.96,397.98 114.01,398.24 114.05,398.98 114.10,398.30 114.15,398.00 114.19,397.55 114.24,397.68 114.28,397.41 114.33,397.22 114.38,396.51 114.42,396.44 114.47,396.06 114.51,395.63 114.56,394.77 114.61,394.54 114.65,394.30 114.70,393.06 114.75,392.82 114.79,391.89 114.84,391.24 114.88,390.35 114.93,389.73 114.98,389.52 115.02,388.75 115.07,388.42 115.11,386.94 115.16,386.68 115.21,385.81 115.25,385.74 115.30,385.71 115.34,384.20 115.39,384.16 115.44,383.75 115.48,383.42 115.53,382.95 115.57,382.74 115.62,383.16 115.67,382.26 115.71,382.65 115.76,382.62 115.81,382.03 115.85,382.36 115.90,382.87 115.94,383.51 115.99,383.17 116.04,383.35 116.08,383.87 116.13,384.59 116.17,384.88 116.22,385.48 116.27,385.54 116.31,385.88 116.36,386.37 116.40,387.46 116.45,387.76 116.50,388.27 116.54,389.20 116.59,389.72 116.63,389.67 116.68,390.86 116.73,391.27 116.77,392.27 116.82,392.72 116.87,393.82 116.91,393.86 116.96,394.03 117.00,394.26 117.05,395.00 117.10,395.60 117.14,396.20 117.19,396.77 117.23,396.97 117.28,397.04 117.33,397.73 117.37,397.43 117.42,398.21 117.46,398.60 117.51,398.49 117.56,398.79 117.60,398.76 117.65,398.03 117.69,398.46 117.74,398.33 117.79,398.04 117.83,397.99 117.88,398.49 117.93,397.86 117.97,398.06 118.02,398.05 118.06,397.76 118.11,398.15 118.16,397.72 118.20,397.25 118.25,396.73 118.29,396.70 118.34,396.25 118.39,395.51 118.43,394.94 118.48,394.67 118.52,394.02 118.57,394.03 118.62,393.46 118.66,392.71 118.71,392.33 118.75,391.81 118.80,390.53 118.85,390.52 118.89,390.16 118.94,389.11 118.99,388.09 119.03,388.07 119.08,387.14 119.12,387.13 119.17,386.63 119.22,386.20 119.26,385.57 119.31,384.51 119.35,385.08 119.40,383.83 119.45,384.37 119.49,383.86 119.54,383.29 119.58,383.19 119.63,383.18 119.68,383.73 119.72,383.06 119.77,383.54 119.81,382.44 119.86,383.46 119.91,383.49 119.95,384.13 120.00,384.15 120.05,384.70 120.09,384.27 120.14,385.03 120.18,385.15 120.23,385.98 120.28,386.37 120.32,386.25 120.37,387.49 120.41,388.28 120.46,388.08 120.51,389.13 120.55,389.45 120.60,389.56 120.64,390.70 120.69,390.69 120.74,391.77 120.78,391.60 120.83,392.19"/>
<polyline fill="none" stroke="#196af8" stroke-width="1.35" stroke-linejoin="round" stroke-linecap="round" clip-path="url(#c3)" points="120.83,392.71 120.94,394.00 121.06,395.11 121.17,396.17 121.29,396.94 121.40,397.60 121.52,398.10 121.64,398.53 121.75,398.44 121.87,398.50 121.98,398.36 122.10,398.17 122.21,397.66 122.33,397.39 122.44,396.69 122.56,395.69 122.67,394.64 122.79,393.56 122.90,392.15 123.02,390.92 123.13,389.79 123.25,388.48 123.36,387.35 123.48,386.39 123.59,385.57 123.71,384.97 123.82,384.69 123.94,384.51 124.05,384.63 124.17,384.98 124.29,385.74 124.40,386.45 124.52,387.41 124.63,388.56 124.75,389.81 124.86,390.90 124.98,392.07 125.09,393.37 125.21,394.44 125.32,395.28 125.44,396.00 125.55,396.82 125.67,397.35 125.78,397.81 125.90,398.00 126.01,398.18 126.13,398.24 126.24,398.34 126.36,398.30 126.47,398.22 126.59,398.07 126.70,397.56 126.82,396.84 126.93,396.03 127.05,395.19 127.17,394.14 127.28,393.26 127.40,392.25 127.51,391.00 127.63,390.10 127.74,389.18 127.86,388.11 127.97,387.31 128.09,386.96 128.20,386.51 128.32,386.16 128.43,386.09 128.55,386.08 128.66,386.29 128.78,386.54 128.89,387.29 129.01,388.11 129.12,389.15 129.24,390.07 129.35,391.08 129.47,391.90 129.58,393.01 129.70,393.79 129.82,394.76 129.93,395.76 130.05,396.61 130.16,397.27 130.28,397.89 130.39,398.18 130.51,398.35 130.62,398.42 130.74,398.36 130.85,398.37 130.97,398.50 131.08,398.35 131.20,398.26 131.31,397.93 131.43,397.47 131.54,396.72 131.66,396.21 131.77,395.50 131.89,394.62 132.00,393.65 132.12,392.69 132.23,391.47 132.35,390.24 132.47,389.31 132.58,388.60 132.70,388.09 132.81,387.76 132.93,387.58 133.04,387.38 133.16,387.29 133.27,387.27 133.39,387.41 133.50,387.66 133.62,388.17 133.73,388.76 133.85,389.43 133.96,390.25 134.08,391.26 134.19,392.09 134.31,392.94 134.42,393.85 134.54,394.66 134.65,395.03 134.77,395.88 134.88,396.57 135.00,397.04 135.12,397.55 135.23,398.14 135.35,398.07 135.46,398.07 135.58,398.10 135.69,397.90 135.81,397.89 135.92,397.93 136.04,397.94 136.15,397.86 136.27,397.63 136.38,397.15 136.50,396.77 136.61,396.12 136.73,395.72 136.84,394.93 136.96,394.05 137.07,393.20 137.19,392.62 137.30,391.77 137.42,391.23 137.53,391.06 137.65,390.61 137.77,390.16 137.88,389.53 138.00,389.10 138.11,389.07 138.23,389.07 138.34,389.15 138.46,389.64 138.57,390.18 138.69,390.29 138.80,390.64 138.92,391.27 139.03,391.51 139.15,391.77 139.26,392.32 139.38,393.06 139.49,393.52 139.61,394.49 139.72,395.33 139.84,395.96 139.95,396.47 140.07,396.58 140.18,396.71 140.30,397.06 140.42,397.15 140.53,397.63 140.65,398.29 140.76,398.51 140.88,398.69 140.99,398.81 141.11,398.62 141.22,398.10 141.34,397.66 141.45,397.22 141.57,397.08 141.68,396.57 141.80,396.27 141.91,396.15 142.03,395.66 142.14,394.88 142.26,394.31 142.37,393.54 142.49,392.53 142.60,392.06 142.72,391.53 142.83,391.11 142.95,390.74 143.06,390.61 143.18,389.96 143.30,389.63 143.41,389.15 143.53,389.17 143.64,389.28 143.76,389.24 143.87,389.52 143.99,389.74 144.10,390.02 144.22,390.11 144.33,390.59 144.45,391.05 144.56,391.62 144.68,392.54 144.79,393.12 144.91,394.08 145.02,394.76 145.14,395.57 145.25,395.81 145.37,396.18 145.48,396.90 145.60,397.27 145.71,397.72 145.83,397.85 145.95,398.41 146.06,398.16 146.18,398.33 146.29,398.14 146.41,398.17 146.52,398.16 146.64,398.19 146.75,398.29 146.87,398.22 146.98,398.06 147.10,397.84 147.21,397.34 147.33,397.10 147.44,397.06 147.56,397.00 147.67,396.49 147.79,396.15 147.90,395.25 148.02,394.37 148.13,393.44 148.25,392.89 148.36,392.61 148.48,392.34 148.60,391.52 148.71,391.70 148.83,391.34 148.94,390.60 149.06,390.13 149.17,390.59 149.29,390.15 149.40,390.03 149.52,390.23 149.63,390.70 149.75,390.68 149.86,390.97 149.98,391.31 150.09,391.71 150.21,392.07 150.32,392.98 150.44,393.46 150.55,393.85 150.67,394.50 150.78,394.90 150.90,394.64 151.01,395.38 151.13,395.97 151.25,396.60 151.36,396.98 151.48,397.73 151.59,397.47 151.71,398.03 151.82,398.17 151.94,398.60 152.05,398.58 152.17,399.00 152.28,398.73 152.40,398.83 152.51,398.55 152.63,398.37 152.74,398.20 152.86,398.01 152.97,397.48 153.09,397.23 153.20,397.47 153.32,396.90 153.43,396.62 153.55,396.13 153.66,396.04 153.78,395.62 153.90,395.81 154.01,395.57 154.13,395.10 154.24,394.13 154.36,393.38 154.47,392.51 154.59,391.82 154.70,391.80 154.82,391.58 154.93,391.35 155.05,391.71 155.16,391.87 155.28,391.51 155.39,391.73 155.51,391.88 155.62,391.69 155.74,391.90 155.85,392.20 155.97,392.46 156.08,392.98 156.20,393.88 156.31,394.29 156.43,395.37 156.55,396.14 156.66,396.17 156.78,395.76 156.89,396.48 157.01,396.26 157.12,396.14 157.24,396.85 157.35,397.18 157.47,397.42 157.58,398.14 157.70,398.79 157.81,399.05 157.93,399.17 158.04,399.22 158.16,399.28 158.27,399.21 158.39,398.94 158.50,399.22 158.62,398.71 158.73,398.58 158.85,398.59 158.96,398.66 159.08,398.45 159.19,398.70 159.31,398.27 159.43,397.30 159.54,397.05 159.66,396.73 159.77,395.86 159.89,395.71 160.00,395.96 160.12,395.68 160.23,395.19 160.35,394.99 160.46,394.47 160.58,393.87 160.69,392.93 160.81,392.47 160.92,392.62 161.04,392.30 161.15,392.05 161.27,391.99 161.38,392.11 161.50,391.83 161.61,391.90 161.73,392.37 161.84,392.61 161.96,392.81 162.08,392.69 162.19,393.02 162.31,392.93 162.42,393.43 162.54,393.85 162.65,394.12 162.77,394.33 162.88,394.47 163.00,394.88 163.11,394.98 163.23,395.96 163.34,396.34 163.46,396.95 163.57,396.87 163.69,397.19 163.80,397.11 163.92,397.06 164.03,397.14 164.15,397.37 164.26,397.41 164.38,397.54 164.49,397.95 164.61,398.01 164.73,398.32 164.84,398.45 164.96,398.17 165.07,397.87 165.19,398.05 165.30,398.25 165.42,398.32 165.53,398.57 165.65,398.40 165.76,398.26 165.88,397.82 165.99,397.41 166.11,397.27 166.22,397.35 166.34,396.51 166.45,395.75 166.57,395.45 166.68,394.91 166.80,394.77 166.91,394.72 167.03,394.73 167.14,394.48 167.26,394.34 167.38,393.75 167.49,393.63 167.61,393.27 167.72,392.68 167.84,392.22 167.95,392.46 168.07,392.51 168.18,392.91 168.30,393.43 168.41,393.35 168.53,392.82 168.64,392.78 168.76,392.38 168.87,392.50 168.99,393.20 169.10,393.89 169.22,394.19 169.33,394.14 169.45,394.58 169.56,394.17 169.68,393.76 169.79,393.91 169.91,394.64 170.03,394.79 170.14,395.47 170.26,395.98 170.37,396.26 170.49,396.29 170.60,396.10 170.72,396.27 170.83,396.61 170.95,396.86 171.06,397.23 171.18,398.03 171.29,398.16 171.41,398.31 171.52,398.61 171.64,398.19 171.75,398.19 171.87,398.56 171.98,398.54 172.10,398.83 172.21,399.62 172.33,399.74 172.44,399.72 172.56,399.76 172.68,399.05 172.79,398.41 172.91,397.62 173.02,396.85 173.14,396.45 173.25,396.43 173.37,396.17 173.48,396.25 173.60,396.44 173.71,395.87 173.83,395.21 173.94,395.13 174.06,394.46 174.17,393.72 174.29,394.18 174.40,394.11 174.52,394.19 174.63,394.08 174.75,394.24 174.86,393.25 174.98,392.88 175.09,392.60 175.21,392.49 175.32,392.53 175.44,392.82 175.56,392.78 175.67,392.49 175.79,393.06 175.90,392.89 176.02,392.87 176.13,393.08 176.25,393.00 176.36,393.02 176.48,393.00 176.59,393.57 176.71,393.86 176.82,394.35 176.94,394.10 177.05,394.70 177.17,394.78 177.28,395.47 177.40,396.29 177.51,396.63 177.63,396.78 177.74,397.57 177.86,397.76 177.97,397.62 178.09,397.58 178.21,397.50 178.32,397.02 178.44,397.45 178.55,397.63 178.67,398.06 178.78,398.34 178.90,398.53 179.01,398.15 179.13,397.67 179.24,397.41 179.36,397.55 179.47,397.94 179.59,397.30 179.70,397.92 179.82,397.96 179.93,397.34 180.05,397.25 180.16,397.64 180.28,397.45 180.39,397.49 180.51,397.76 180.62,396.75 180.74,396.45 180.86,396.11 180.97,395.69 181.09,395.58 181.20,395.94 181.32,395.18 181.43,395.11 181.55,395.26 181.66,394.86 181.78,394.75 181.89,395.68 182.01,394.87 182.12,394.68 182.24,394.59 182.35,394.17 182.47,393.64 182.58,394.06 182.70,393.63 182.81,392.68 182.93,392.27 183.04,391.72 183.16,391.81 183.27,391.86 183.39,392.91 183.51,392.96 183.62,393.33 183.74,393.01 183.85,393.18 183.97,393.18 184.08,394.02 184.20,394.01 184.31,394.65 184.43,395.21 184.54,395.39 184.66,395.43 184.77,395.81 184.89,395.41 185.00,395.30 185.12,395.44 185.23,395.52 185.35,395.63 185.46,396.71 185.58,396.93 185.69,397.49 185.81,398.07 185.92,398.53 186.04,398.30 186.16,398.41 186.27,397.98 186.39,398.42 186.50,398.55 186.62,397.96 186.73,397.95 186.85,397.90 186.96,397.23 187.08,397.64 187.19,398.53 187.31,398.57 187.42,398.70 187.54,398.92 187.65,398.55 187.77,398.10 187.88,398.74 188.00,399.02 188.11,398.24 188.23,397.40 188.34,397.36 188.46,396.15 188.57,396.01 188.69,396.50 188.81,397.54 188.92,396.99 189.04,397.37 189.15,396.28 189.27,395.67 189.38,394.69 189.50,395.21 189.61,394.38 189.73,394.88 189.84,394.74 189.96,395.17 190.07,394.12 190.19,394.03 190.30,393.87 190.42,393.59 190.53,392.66 190.65,392.48 190.76,392.60 190.88,391.82 190.99,391.84 191.11,392.07 191.22,392.46 191.34,393.23 191.45,394.00 191.57,393.69 191.69,393.52 191.80,393.73 191.92,393.03 192.03,393.53 192.15,394.08 192.26,394.20 192.38,393.97 192.49,394.52 192.61,393.91 192.72,393.53 192.84,394.06 192.95,394.31 193.07,394.81 193.18,395.92 193.30,396.55 193.41,396.68 193.53,397.09 193.64,397.06 193.76,396.81 193.87,396.98 193.99,396.70 194.10,397.02 194.22,397.51 194.34,397.22 194.45,397.43 194.57,397.86 194.68,397.85 194.80,396.78 194.91,397.20 195.03,397.28 195.14,398.07 195.26,398.32 195.37,399.21 195.49,399.25 195.60,399.30 195.72,398.97 195.83,398.27 195.95,398.35 196.06,398.43 196.18,398.40 196.29,398.47 196.41,398.72 196.52,398.11 196.64,397.93 196.75,397.28 196.87,396.72 196.99,396.62 197.10,396.89 197.22,397.08 197.33,397.61 197.45,397.49 197.56,397.46 197.68,396.69 197.79,396.64 197.91,396.53 198.02,396.71 198.14,395.91 198.25,396.05 198.37,395.24 198.48,394.99 198.60,393.95 198.71,394.25 198.83,393.82 198.94,394.09 199.06,393.25 199.17,393.25 199.29,392.84 199.40,392.44 199.52,391.82 199.64,392.17 199.75,392.05 199.87,392.09 199.98,392.56 200.10,392.54 200.21,392.71 200.33,392.81 200.44,392.77 200.56,392.83 200.67,392.44 200.79,392.92 200.90,393.39 201.02,393.35 201.13,393.70 201.25,394.96 201.36,394.32 201.48,394.32 201.59,395.44 201.71,395.33 201.82,395.41 201.94,396.48 202.05,396.93 202.17,396.96 202.29,397.75 202.40,397.78 202.52,397.90 202.63,398.04 202.75,398.09 202.86,397.71 202.98,397.90 203.09,398.15 203.21,398.69 203.32,398.88 203.44,398.74 203.55,398.42 203.67,398.28 203.78,397.65 203.90,397.96 204.01,398.15 204.13,398.53 204.24,398.11 204.36,398.21 204.47,397.94 204.59,398.13 204.70,398.32 204.82,398.54 204.94,398.35 205.05,396.96 205.17,396.77 205.28,396.32 205.40,396.50 205.51,396.38 205.63,397.98 205.74,398.28 205.86,398.03 205.97,397.90 206.09,397.56 206.20,396.51 206.32,396.22 206.43,396.27 206.55,396.07 206.66,396.72 206.78,396.68 206.89,396.07 207.01,395.55 207.12,394.82 207.24,394.32 207.35,394.12 207.47,394.54 207.58,394.43 207.70,393.86 207.82,393.10 207.93,393.18 208.05,392.68 208.16,392.12 208.28,391.91 208.39,392.68 208.51,392.59 208.62,392.37 208.74,392.39 208.85,393.19 208.97,392.54 209.08,392.54 209.20,391.94 209.31,392.25 209.43,392.13 209.54,392.54 209.66,392.24 209.77,392.90 209.89,393.52 210.00,393.58 210.12,394.07 210.23,394.82 210.35,395.63 210.47,395.91 210.58,396.41 210.70,396.52 210.81,396.34 210.93,395.92 211.04,395.81 211.16,396.17 211.27,395.84 211.39,396.84 211.50,397.90 211.62,397.80 211.73,397.44 211.85,397.57 211.96,397.18 212.08,397.13 212.19,397.66 212.31,397.82 212.42,398.48 212.54,398.74 212.65,398.87 212.77,399.15 212.88,399.13 213.00,398.79 213.12,398.97 213.23,398.90 213.35,398.72 213.46,398.82 213.58,399.32 213.69,399.01 213.81,399.33 213.92,399.53 214.04,399.54 214.15,398.86 214.27,399.11 214.38,398.62 214.50,397.90 214.61,398.06 214.73,398.41 214.84,397.76 214.96,397.32 215.07,397.08 215.19,396.54 215.30,396.38 215.42,396.39 215.53,396.27 215.65,396.83 215.77,397.17 215.88,396.46 216.00,396.69 216.11,396.12 216.23,395.37 216.34,394.86 216.46,394.76 216.57,393.87 216.69,393.57 216.80,393.56 216.92,393.36 217.03,393.40 217.15,392.75 217.26,392.64 217.38,392.63 217.49,392.50 217.61,392.49 217.72,392.95 217.84,393.07 217.95,391.96 218.07,392.35 218.18,391.75 218.30,391.58 218.42,391.85 218.53,392.63 218.65,392.23 218.76,392.58 218.88,392.46 218.99,392.79 219.11,392.42 219.22,392.49 219.34,392.15 219.45,392.48 219.57,391.76 219.68,392.16 219.80,391.87 219.91,392.51 220.03,393.10 220.14,393.48 220.26,393.64 220.37,393.52 220.49,394.39 220.60,394.41 220.72,394.50 220.83,395.34 220.95,396.29 221.07,395.18 221.18,394.87 221.30,395.69 221.41,395.02 221.53,394.75 221.64,395.35 221.76,395.83 221.87,395.63 221.99,396.49 222.10,397.16 222.22,397.29 222.33,397.46 222.45,397.03 222.56,396.93 222.68,397.59 222.79,397.98 222.91,397.97 223.02,398.47 223.14,398.35 223.25,397.86 223.37,397.27 223.48,397.56 223.60,397.45 223.71,397.55 223.83,397.65 223.95,397.64 224.06,398.20 224.18,398.64 224.29,398.35 224.41,398.00 224.52,398.13 224.64,397.25 224.75,397.01 224.87,396.32 224.98,396.14 225.10,396.28 225.21,396.43 225.33,396.34 225.44,396.64 225.56,396.19 225.67,395.94 225.79,395.60 225.90,394.92 226.02,395.45 226.13,395.51 226.25,395.37 226.36,395.18 226.48,395.12 226.60,394.56 226.71,394.48 226.83,393.60 226.94,392.87 227.06,392.33 227.17,391.90 227.29,391.14 227.40,391.29 227.52,390.98 227.63,390.45 227.75,390.40 227.86,390.51 227.98,390.67 228.09,392.11 228.21,393.26 228.32,393.13 228.44,392.97 228.55,393.13 228.67,391.63 228.78,390.79 228.90,390.96 229.01,390.76 229.13,390.08 229.25,390.38 229.36,391.21 229.48,390.71 229.59,391.35 229.71,392.18 229.82,392.44 229.94,392.46 230.05,392.76 230.17,392.63 230.28,392.30 230.40,392.34 230.51,392.62 230.63,393.22 230.74,393.40 230.86,394.13 230.97,393.58 231.09,393.60 231.20,393.95 231.32,394.06 231.43,393.88 231.55,395.02 231.66,395.20 231.78,395.05 231.90,395.32 232.01,395.47 232.13,395.71 232.24,395.64 232.36,395.63 232.47,395.77 232.59,397.12 232.70,397.40 232.82,397.88 232.93,398.30 233.05,398.54 233.16,397.29 233.28,396.84 233.39,396.65 233.51,396.59 233.62,396.08 233.74,396.58 233.85,396.68 233.97,396.12 234.08,396.01 234.20,397.23 234.31,396.89 234.43,397.08 234.55,397.58 234.66,397.30 234.78,396.42 234.89,396.56 235.01,396.05 235.12,395.78 235.24,395.97 235.35,395.91 235.47,395.61 235.58,395.86 235.70,396.00 235.81,395.86 235.93,396.09 236.04,396.40 236.16,395.68 236.27,395.40 236.39,395.21 236.50,394.74 236.62,394.10 236.73,394.30 236.85,393.98 236.96,394.01 237.08,393.44 237.20,393.46 237.31,392.91 237.43,393.34 237.54,393.22 237.66,393.00 237.77,392.63 237.89,393.00 238.00,392.08 238.12,391.91 238.23,392.06 238.35,392.60 238.46,392.40 238.58,392.63 238.69,392.01 238.81,391.67 238.92,391.16 239.04,390.44 239.15,390.39 239.27,391.23 239.38,392.30 239.50,391.53 239.61,392.12 239.73,392.18 239.84,391.82 239.96,391.47 240.08,391.62 240.19,391.72 240.31,391.04 240.42,390.98 240.54,391.53 240.65,391.85 240.77,392.10 240.88,392.93 241.00,392.52 241.11,392.02 241.23,392.10 241.34,392.17 241.46,392.53 241.57,393.08 241.69,393.39 241.80,393.56 241.92,393.44 242.03,393.37 242.15,393.53 242.26,393.34 242.38,394.02 242.49,394.22 242.61,394.49 242.73,394.65 242.84,395.31 242.96,395.34 243.07,395.63 243.19,395.95 243.30,396.41 243.42,396.39 243.53,396.28 243.65,396.74 243.76,396.42 243.88,395.85 243.99,395.61 244.11,396.43 244.22,396.19 244.34,396.02 244.45,396.64 244.57,396.40 244.68,395.67 244.80,395.57 244.91,396.00 245.03,396.06 245.14,396.50 245.26,396.67 245.38,396.61 245.49,396.36 245.61,396.25 245.72,396.09 245.84,395.92 245.95,396.56 246.07,396.88 246.18,396.95 246.30,396.94 246.41,397.05 246.53,396.47 246.64,396.37 246.76,395.74 246.87,395.43 246.99,395.72 247.10,395.46 247.22,395.36 247.33,394.84 247.45,394.89 247.56,394.27 247.68,394.05 247.79,393.53 247.91,393.90 248.03,393.03 248.14,392.61 248.26,392.15 248.37,391.49 248.49,391.59 248.60,391.33 248.72,390.98 248.83,390.74 248.95,391.21 249.06,390.43 249.18,390.68 249.29,390.92 249.41,390.33 249.52,389.71 249.64,389.92 249.75,389.88 249.87,389.29 249.98,389.58 250.10,389.49 250.21,388.94 250.33,388.47 250.44,389.15 250.56,389.66 250.68,390.17 250.79,390.55 250.91,390.58 251.02,389.99 251.14,390.22 251.25,390.07 251.37,389.83 251.48,390.58 251.60,390.92 251.71,390.58 251.83,391.21 251.94,391.43 252.06,391.28 252.17,391.20 252.29,391.79 252.40,391.60 252.52,392.23 252.63,392.43 252.75,392.78 252.86,392.59 252.98,391.92 253.09,391.48 253.21,391.99 253.33,392.42 253.44,392.07 253.56,392.97 253.67,393.12 253.79,392.53 253.90,392.67 254.02,393.50 254.13,393.53 254.25,394.44 254.36,395.46 254.48,395.56 254.59,395.32 254.71,395.62 254.82,395.52 254.94,395.46 255.05,395.89 255.17,395.77 255.28,396.48 255.40,396.71 255.51,396.43 255.63,396.49 255.74,396.83 255.86,395.66 255.97,395.76 256.09,395.89 256.21,395.81 256.32,395.85 256.44,396.24 256.55,395.87 256.67,395.48 256.78,394.94 256.90,394.64 257.01,394.44 257.13,394.89 257.24,395.23 257.36,395.18 257.47,396.07 257.59,395.77 257.70,395.28 257.82,395.17 257.93,395.55 258.05,394.94 258.16,395.18 258.28,395.20 258.39,395.17 258.51,395.45 258.62,394.87 258.74,395.20 258.86,395.66 258.97,395.85 259.09,395.24 259.20,395.34 259.32,395.09 259.43,394.06 259.55,393.87 259.66,392.65 259.78,392.45 259.89,391.28 260.01,391.52 260.12,390.77 260.24,391.63 260.35,391.42 260.47,391.66 260.58,391.66 260.70,392.08 260.81,391.97 260.93,392.50 261.04,392.81 261.16,392.43 261.27,392.38 261.39,391.82 261.51,390.99 261.62,391.07 261.74,390.82 261.85,390.23 261.97,390.26 262.08,390.60 262.20,389.82 262.31,389.30 262.43,389.04 262.54,389.01 262.66,388.10 262.77,387.79 262.89,388.23 263.00,388.53 263.12,388.09 263.23,389.09 263.35,389.61 263.46,389.53 263.58,389.82 263.69,390.39 263.81,390.76 263.92,391.20 264.04,392.01 264.16,391.14 264.27,390.69 264.39,389.88 264.50,389.75 264.62,388.90 264.73,389.40 264.85,389.74 264.96,390.01 265.08,390.60 265.19,390.97 265.31,391.76 265.42,392.69 265.54,393.56 265.65,393.29 265.77,393.25 265.88,393.71 266.00,392.88 266.11,392.16 266.23,392.60 266.34,393.27 266.46,392.98 266.57,393.38 266.69,394.15 266.81,394.53 266.92,394.38 267.04,395.17 267.15,395.56 267.27,395.14 267.38,394.75 267.50,394.68 267.61,393.88 267.73,393.75 267.84,394.15 267.96,394.59 268.07,394.97 268.19,395.19 268.30,395.04 268.42,394.55 268.53,394.13 268.65,394.32 268.76,394.54 268.88,395.03 268.99,395.11 269.11,395.13 269.22,394.88 269.34,394.87 269.46,394.49 269.57,394.83 269.69,394.93 269.80,394.83 269.92,393.94 270.03,394.24 270.15,393.70 270.26,393.18 270.38,393.11 270.49,393.29 270.61,393.18 270.72,393.93 270.84,394.33 270.95,394.53 271.07,394.53 271.18,394.34 271.30,393.71 271.41,393.18 271.53,393.78 271.64,393.68 271.76,394.13 271.87,394.09 271.99,394.49 272.10,393.20 272.22,392.65 272.34,392.43 272.45,392.23 272.57,391.77 272.68,392.26 272.80,392.32 272.91,391.53 273.03,391.59 273.14,391.62 273.26,389.69 273.37,389.88 273.49,390.34 273.60,390.32 273.72,390.04 273.83,391.13 273.95,390.88 274.06,390.49 274.18,389.86 274.29,389.79 274.41,390.02 274.52,390.18 274.64,389.88 274.75,389.70 274.87,389.31 274.99,388.91 275.10,388.59 275.22,388.36 275.33,387.94 275.45,388.32 275.56,388.06 275.68,387.84 275.79,388.27 275.91,388.95 276.02,388.74 276.14,389.13 276.25,389.26 276.37,388.66 276.48,388.42 276.60,388.65 276.71,388.53 276.83,388.03 276.94,388.89 277.06,389.34 277.17,389.10 277.29,389.26 277.40,390.00 277.52,389.71 277.64,389.68 277.75,389.71 277.87,390.00 277.98,390.32 278.10,390.57 278.21,391.14 278.33,391.75 278.44,392.24 278.56,392.21 278.67,391.77 278.79,391.20 278.90,390.91 279.02,391.01 279.13,390.90 279.25,391.88 279.36,392.63 279.48,392.57 279.59,392.74 279.71,393.10 279.82,392.87 279.94,393.02 280.05,394.06 280.17,393.64 280.29,394.18 280.40,394.00 280.52,393.60 280.63,393.84 280.75,394.22 280.86,394.22 280.98,395.04 281.09,395.88 281.21,395.41 281.32,395.32 281.44,395.80 281.55,395.59 281.67,395.03 281.78,395.48 281.90,395.72 282.01,394.59 282.13,393.94 282.24,394.67 282.36,394.70 282.47,394.22 282.59,395.16 282.70,395.67 282.82,395.22 282.94,394.51 283.05,395.46 283.17,395.75 283.28,396.02 283.40,395.43 283.51,395.60 283.63,395.22 283.74,394.18 283.86,393.40 283.97,393.72 284.09,393.66 284.20,392.78 284.32,392.39 284.43,392.44 284.55,392.02 284.66,391.76 284.78,391.89 284.89,392.46 285.01,392.25 285.12,392.37 285.24,392.26 285.35,391.62 285.47,390.95 285.59,390.55 285.70,390.80 285.82,390.34 285.93,390.68 286.05,390.94 286.16,391.36 286.28,390.20 286.39,389.93 286.51,389.79 286.62,389.73 286.74,389.26 286.85,389.68 286.97,389.23 287.08,389.34 287.20,389.43 287.31,389.39 287.43,389.09 287.54,389.51 287.66,388.62 287.77,387.15 287.89,387.08 288.00,387.19 288.12,387.78 288.23,387.89 288.35,388.26 288.47,388.19 288.58,387.55 288.70,386.90 288.81,386.44 288.93,386.62 289.04,386.91 289.16,387.57 289.27,388.14 289.39,389.32 289.50,389.39 289.62,388.77 289.73,387.92 289.85,387.47 289.96,387.03 290.08,387.60 290.19,387.65 290.31,388.30 290.42,388.60 290.54,388.39 290.65,387.92 290.77,389.05 290.88,389.06 291.00,388.94 291.12,389.46 291.23,389.95 291.35,388.82 291.46,388.69 291.58,388.24 291.69,388.66 291.81,388.90 291.92,389.35 292.04,390.46 292.15,391.51 292.27,391.89 292.38,391.15 292.50,391.24 292.61,390.80 292.73,390.60 292.84,390.25 292.96,391.17 293.07,391.46 293.19,391.99 293.30,391.75 293.42,391.88 293.53,392.16 293.65,392.01 293.77,391.90 293.88,392.22 294.00,392.27 294.11,392.83 294.23,393.16 294.34,393.64 294.46,393.51 294.57,393.95 294.69,393.85 294.80,393.97 294.92,393.36 295.03,393.73 295.15,393.62 295.26,392.65 295.38,393.28 295.49,393.59 295.61,393.90 295.72,393.60 295.84,393.60 295.95,393.29 296.07,392.91 296.18,392.36 296.30,392.81 296.42,393.50 296.53,393.38 296.65,393.75 296.76,393.84 296.88,393.87 296.99,393.14 297.11,392.68 297.22,392.46 297.34,392.98 297.45,392.21 297.57,392.56 297.68,392.53 297.80,392.39 297.91,391.53 298.03,391.57 298.14,390.74 298.26,391.63 298.37,391.83 298.49,391.77 298.60,392.00 298.72,392.10 298.83,391.56 298.95,391.00 299.07,391.34 299.18,390.79 299.30,390.82 299.41,390.25 299.53,390.23 299.64,388.94 299.76,388.58 299.87,388.79 299.99,388.23 300.10,387.61 300.22,387.74 300.33,386.92 300.45,386.72 300.56,386.48 300.68,386.19 300.79,386.44 300.91,386.81 301.02,387.38 301.14,387.79 301.25,387.40 301.37,387.89 301.48,388.02 301.60,386.71 301.72,386.17 301.83,386.10 301.95,385.97 302.06,385.66 302.18,385.36 302.29,385.94 302.41,386.46 302.52,385.09 302.64,384.57 302.75,384.63 302.87,385.05 302.98,385.05 303.10,385.57 303.21,386.13 303.33,386.34 303.44,384.31 303.56,384.35 303.67,384.85 303.79,384.68 303.90,384.81 304.02,386.07 304.13,386.07 304.25,385.51 304.36,385.57 304.48,385.96 304.60,385.98 304.71,385.86 304.83,386.39 304.94,386.16 305.06,385.55 305.17,385.97 305.29,386.13 305.40,385.36 305.52,385.33 305.63,385.75 305.75,385.19 305.86,385.67 305.98,387.02 306.09,387.51 306.21,387.52 306.32,387.79 306.44,387.68 306.55,387.17 306.67,387.67 306.78,387.71 306.90,387.71 307.01,387.84 307.13,387.78 307.25,388.34 307.36,388.90 307.48,388.78 307.59,388.23 307.71,388.52 307.82,388.01 307.94,388.26 308.05,388.73 308.17,389.16 308.28,389.84 308.40,389.67 308.51,389.09 308.63,389.11 308.74,389.83 308.86,389.14 308.97,389.91 309.09,389.58 309.20,389.70 309.32,389.73 309.43,389.44 309.55,388.49 309.66,389.25 309.78,388.50 309.90,388.43 310.01,388.78 310.13,388.74 310.24,389.30 310.36,389.71 310.47,389.34 310.59,389.42 310.70,390.20 310.82,389.23 310.93,389.95 311.05,390.23 311.16,390.34 311.28,390.34 311.39,389.83 311.51,389.84 311.62,389.70 311.74,389.57 311.85,389.04 311.97,389.24 312.08,388.37 312.20,388.10 312.31,388.02 312.43,387.90 312.55,387.77 312.66,387.68 312.78,387.63 312.89,388.10 313.01,387.19 313.12,387.00 313.24,387.01 313.35,386.54 313.47,385.82 313.58,386.79 313.70,387.09 313.81,387.09 313.93,387.26 314.04,387.42 314.16,386.99 314.27,386.48 314.39,386.39 314.50,385.97 314.62,386.00 314.73,385.78 314.85,385.85 314.96,385.92 315.08,386.37 315.20,385.29 315.31,385.33 315.43,384.93 315.54,384.46 315.66,383.43 315.77,383.54 315.89,383.62 316.00,383.67 316.12,383.48 316.23,383.32 316.35,383.22 316.46,382.68 316.58,382.20 316.69,381.54 316.81,381.40 316.92,380.76 317.04,380.37 317.15,380.32 317.27,380.36 317.38,380.43 317.50,380.73 317.61,380.80 317.73,380.17 317.85,380.45 317.96,380.67 318.08,380.81 318.19,380.88 318.31,381.67 318.42,382.10 318.54,382.76 318.65,382.54 318.77,383.15 318.88,383.19 319.00,382.78 319.11,381.69 319.23,381.26 319.34,380.61 319.46,380.98 319.57,381.54 319.69,382.34 319.80,383.03 319.92,384.02 320.03,383.89 320.15,383.58 320.26,383.17 320.38,383.42 320.49,382.75 320.61,383.17 320.73,383.46 320.84,384.47 320.96,384.44 321.07,384.04 321.19,383.85 321.30,383.68 321.42,383.52 321.53,383.18 321.65,384.16 321.76,384.06 321.88,384.29 321.99,384.41 322.11,384.69 322.22,384.53 322.34,384.89 322.45,384.88 322.57,384.66 322.68,385.29 322.80,385.23 322.91,385.55 323.03,385.80 323.14,386.14 323.26,386.64 323.38,387.14 323.49,387.26 323.61,387.36 323.72,386.75 323.84,386.90 323.95,386.66 324.07,387.35 324.18,387.79 324.30,388.46 324.41,388.71 324.53,389.47 324.64,388.63 324.76,388.25 324.87,388.12 324.99,387.60 325.10,386.14 325.22,386.26 325.33,386.61 325.45,385.95 325.56,385.42 325.68,386.34 325.79,385.83 325.91,385.44 326.03,385.81 326.14,385.93 326.26,386.15 326.37,386.21 326.49,386.19 326.60,386.76 326.72,387.10 326.83,386.33 326.95,386.78 327.06,386.77 327.18,386.11 327.29,385.72 327.41,386.57 327.52,386.13 327.64,385.72 327.75,385.56 327.87,384.93 327.98,384.14 328.10,383.99 328.21,383.64 328.33,383.96 328.44,383.80 328.56,383.17 328.68,383.05 328.79,382.82 328.91,382.27 329.02,383.10 329.14,383.17 329.25,383.20 329.37,383.57 329.48,383.68 329.60,382.69 329.71,382.75 329.83,382.97 329.94,382.78 330.06,382.40 330.17,383.01 330.29,383.21 330.40,382.93 330.52,383.17 330.63,383.14 330.75,382.33 330.86,381.31 330.98,380.56 331.09,379.80 331.21,379.35 331.33,379.08 331.44,379.77 331.56,379.81 331.67,379.92 331.79,380.25 331.90,380.78 332.02,380.70 332.13,380.94 332.25,381.39 332.36,381.04 332.48,380.78 332.59,380.45 332.71,380.13 332.82,379.32 332.94,379.65 333.05,379.61 333.17,380.19 333.28,381.08 333.40,382.02 333.51,381.19 333.63,381.80 333.74,381.00 333.86,379.61 333.98,379.06 334.09,379.02 334.21,377.65 334.32,377.49 334.44,377.17 334.55,376.79 334.67,377.70 334.78,378.23 334.90,378.79 335.01,380.21 335.13,380.97 335.24,379.90 335.36,380.36 335.47,380.28 335.59,380.12 335.70,379.68 335.82,380.72 335.93,380.76 336.05,381.30 336.16,381.68 336.28,382.12 336.39,382.03 336.51,381.21 336.62,380.49 336.74,379.40 336.86,379.06 336.97,379.32 337.09,380.72 337.20,381.23 337.32,382.84 337.43,383.26 337.55,382.75 337.66,382.25 337.78,381.96 337.89,381.43 338.01,381.95 338.12,382.86 338.24,383.25 338.35,383.34 338.47,382.58 338.58,382.46 338.70,382.52 338.81,382.54 338.93,383.22 339.04,384.52 339.16,384.31 339.27,384.13 339.39,384.02 339.51,384.43 339.62,384.08 339.74,384.84 339.85,384.71 339.97,385.30 340.08,385.01 340.20,385.19 340.31,384.81 340.43,385.59 340.54,385.91 340.66,385.19 340.77,384.96 340.89,384.66 341.00,383.50 341.12,382.89 341.23,383.34 341.35,383.44 341.46,383.09 341.58,383.69 341.69,383.53 341.81,383.82 341.92,383.71 342.04,383.71 342.16,384.66 342.27,384.81 342.39,384.85 342.50,385.05 342.62,386.20 342.73,385.12 342.85,385.36 342.96,385.26 343.08,385.30 343.19,385.14 343.31,385.54 343.42,385.86 343.54,386.08 343.65,385.95 343.77,385.25 343.88,385.00 344.00,384.28 344.11,383.04 344.23,382.67 344.34,383.04 344.46,383.20 344.57,383.29 344.69,384.06 344.81,384.34 344.92,384.08 345.04,383.11 345.15,382.72 345.27,382.65 345.38,382.39 345.50,382.01 345.61,381.96 345.73,381.66 345.84,380.96 345.96,381.89 346.07,381.53 346.19,381.50 346.30,380.78 346.42,381.03 346.53,380.34 346.65,380.08 346.76,380.54 346.88,381.79 346.99,381.87 347.11,380.66 347.22,380.27 347.34,379.61 347.46,379.16 347.57,377.82 347.69,378.50 347.80,378.83 347.92,379.49 348.03,378.45 348.15,379.08 348.26,378.16 348.38,377.96 348.49,377.30 348.61,377.60 348.72,378.36 348.84,378.19 348.95,377.77 349.07,377.78 349.18,377.74 349.30,376.81 349.41,376.50 349.53,376.60 349.64,376.35 349.76,376.47 349.87,377.08 349.99,377.84 350.11,377.93 350.22,377.99 350.34,377.73 350.45,376.85 350.57,376.44 350.68,376.34 350.80,375.99 350.91,375.94 351.03,376.24 351.14,376.24 351.26,377.01 351.37,376.81 351.49,377.40 351.60,377.10 351.72,377.32 351.83,376.29 351.95,376.80 352.06,376.73 352.18,376.70 352.29,376.71 352.41,377.16 352.52,377.22 352.64,376.56 352.75,376.75 352.87,376.82 352.99,377.55 353.10,377.84 353.22,378.28 353.33,378.02 353.45,378.07 353.56,377.62 353.68,377.13 353.79,377.33 353.91,378.14 354.02,378.34 354.14,379.00 354.25,379.21 354.37,379.13 354.48,379.35 354.60,379.97 354.71,379.44 354.83,379.39 354.94,379.92 355.06,380.33 355.17,379.85 355.29,380.66 355.40,382.16 355.52,382.19 355.64,382.16 355.75,382.53 355.87,382.24 355.98,381.36 356.10,381.38 356.21,381.44 356.33,381.59 356.44,381.23 356.56,381.07 356.67,380.72 356.79,380.30 356.90,381.45 357.02,382.14 357.13,382.69 357.25,383.01 357.36,383.95 357.48,382.19 357.59,381.73 357.71,381.89 357.82,381.93 357.94,381.48 358.05,382.33 358.17,382.28 358.29,382.23 358.40,382.84 358.52,382.96 358.63,382.71 358.75,383.32 358.86,382.66 358.98,382.52 359.09,381.60 359.21,381.20 359.32,381.13 359.44,381.54 359.55,380.66 359.67,381.38 359.78,382.16 359.90,381.74 360.01,381.00 360.13,381.99 360.24,381.67 360.36,381.17 360.47,381.22 360.59,382.09 360.70,381.59 360.82,381.35 360.94,381.07 361.05,381.35 361.17,380.53 361.28,380.83 361.40,380.90 361.51,380.98 361.63,380.05 361.74,380.42 361.86,379.42 361.97,379.59 362.09,379.18 362.20,379.40 362.32,378.60 362.43,379.15 362.55,378.56 362.66,378.63 362.78,378.57 362.89,379.48 363.01,378.90 363.12,379.79 363.24,380.36 363.35,380.00 363.47,380.24 363.59,379.71 363.70,379.09 363.82,378.31 363.93,378.40 364.05,377.48 364.16,377.99 364.28,377.86 364.39,377.85 364.51,377.31 364.62,376.88 364.74,376.12 364.85,375.68 364.97,375.55 365.08,376.45 365.20,376.48 365.31,376.50 365.43,376.65 365.54,376.11 365.66,374.82 365.77,374.89 365.89,374.67 366.00,374.26 366.12,375.11 366.24,375.66 366.35,375.73 366.47,375.82 366.58,376.16 366.70,375.55 366.81,375.64 366.93,375.40 367.04,375.48 367.16,374.69 367.27,374.13 367.39,373.62 367.50,373.44 367.62,373.37 367.73,373.65 367.85,373.31 367.96,374.29 368.08,374.42 368.19,374.31 368.31,373.90 368.42,374.91 368.54,373.80 368.65,373.40 368.77,373.69 368.88,374.88 369.00,374.61 369.12,375.23 369.23,375.34 369.35,375.53 369.46,374.14 369.58,373.99 369.69,373.88 369.81,374.38 369.92,374.54 370.04,375.14 370.15,374.69 370.27,374.53 370.38,374.05 370.50,374.08 370.61,374.19 370.73,373.97 370.84,374.52 370.96,374.50 371.07,373.78 371.19,374.73 371.30,376.29 371.42,376.23 371.53,376.44 371.65,377.18 371.77,376.62 371.88,375.90 372.00,375.59 372.11,376.00 372.23,376.08 372.34,375.69 372.46,376.39 372.57,375.90 372.69,376.24 372.80,376.54 372.92,376.84 373.03,376.48 373.15,378.02 373.26,377.91 373.38,378.24 373.49,378.92 373.61,378.90 373.72,378.56 373.84,378.61 373.95,378.33 374.07,377.35 374.18,377.79 374.30,378.00 374.42,378.66 374.53,378.94 374.65,379.73 374.76,379.77 374.88,379.00 374.99,378.57 375.11,378.23 375.22,378.21 375.34,378.31 375.45,378.63 375.57,378.43 375.68,378.22 375.80,378.60 375.91,379.27 376.03,379.73 376.14,379.95 376.26,381.25 376.37,381.24 376.49,380.39 376.60,380.30 376.72,380.85 376.83,379.19 376.95,378.46 377.07,378.74 377.18,377.99 377.30,377.03 377.41,378.15 377.53,377.63 377.64,377.88 377.76,378.48 377.87,379.40 377.99,378.91 378.10,380.46 378.22,380.07 378.33,379.51 378.45,378.97 378.56,379.07 378.68,377.92 378.79,378.22 378.91,378.23 379.02,378.38 379.14,378.14 379.25,378.68 379.37,378.22 379.48,378.56 379.60,378.68 379.72,378.91 379.83,378.67 379.95,378.69 380.06,379.04 380.18,378.92 380.29,378.87 380.41,378.97 380.52,378.76 380.64,378.16 380.75,378.03 380.87,377.64 380.98,378.03 381.10,379.12 381.21,379.05 381.33,379.32 381.44,379.57 381.56,379.37 381.67,377.85 381.79,378.17 381.90,377.27 382.02,376.94 382.13,376.81 382.25,377.53 382.37,376.73 382.48,376.53 382.60,375.88 382.71,374.52 382.83,373.65 382.94,373.56 383.06,373.61 383.17,373.72 383.29,374.43 383.40,374.74 383.52,373.91 383.63,374.45 383.75,374.25 383.86,373.79 383.98,373.23 384.09,374.26 384.21,373.46 384.32,373.60 384.44,374.07 384.55,374.02 384.67,373.67 384.78,373.69 384.90,373.12 385.01,373.00 385.13,372.70 385.25,372.68 385.36,372.19 385.48,372.34 385.59,371.73 385.71,372.21 385.82,372.19 385.94,372.62 386.05,372.51 386.17,372.25 386.28,371.37 386.40,371.21 386.51,370.79 386.63,371.46 386.74,372.60 386.86,373.34 386.97,373.38 387.09,374.01 387.20,374.07 387.32,372.98 387.43,372.95 387.55,373.36 387.66,371.84 387.78,371.08 387.90,371.44 388.01,370.88 388.13,370.55 388.24,370.88 388.36,371.60 388.47,372.04 388.59,372.42 388.70,372.48 388.82,372.61 388.93,372.70 389.05,372.54 389.16,372.47 389.28,372.02 389.39,372.27 389.51,371.58 389.62,370.51 389.74,370.88 389.85,371.13 389.97,371.29 390.08,371.65 390.20,372.74 390.31,372.84 390.43,373.27 390.55,374.17 390.66,374.37 390.78,374.98 390.89,374.76 391.01,375.25 391.12,374.10 391.24,373.32 391.35,372.38 391.47,372.73 391.58,372.45 391.70,372.90 391.81,373.61 391.93,373.94 392.04,374.26 392.16,373.71 392.27,374.62 392.39,374.76 392.50,375.77 392.62,375.85 392.73,376.17 392.85,376.13 392.96,376.45 393.08,375.54 393.20,375.40 393.31,375.19 393.43,376.06 393.54,375.74 393.66,375.93 393.77,376.58 393.89,377.66 394.00,376.42 394.12,377.13 394.23,377.65 394.35,376.85 394.46,376.52 394.58,376.72 394.69,376.69 394.81,376.36 394.92,376.20 395.04,375.97 395.15,377.06 395.27,376.48 395.38,376.59 395.50,377.40 395.61,376.99 395.73,376.82 395.85,376.34 395.96,376.61 396.08,375.63 396.19,376.19 396.31,376.02 396.42,376.72 396.54,376.33 396.65,376.73 396.77,376.27 396.88,376.08 397.00,375.90 397.11,375.72 397.23,376.03 397.34,376.81 397.46,376.81 397.57,376.69 397.69,376.65 397.80,376.85 397.92,376.98 398.03,376.07 398.15,376.96 398.26,377.18 398.38,377.13 398.50,377.25 398.61,377.65 398.73,377.06 398.84,376.49 398.96,375.20 399.07,374.51 399.19,374.08 399.30,373.51 399.42,374.22 399.53,375.40 399.65,374.60 399.76,375.07 399.88,375.40 399.99,375.21 400.11,374.82 400.22,375.61 400.34,375.05 400.45,374.43 400.57,374.35 400.68,374.73 400.80,374.35 400.91,375.13 401.03,375.76 401.14,374.99 401.26,373.38 401.38,373.12 401.49,372.81 401.61,372.11 401.72,373.36 401.84,374.43 401.95,373.83 402.07,372.97 402.18,373.69 402.30,373.31 402.41,372.55 402.53,373.03 402.64,373.43 402.76,372.56 402.87,371.98 402.99,372.96 403.10,372.47 403.22,372.35 403.33,372.78 403.45,372.95 403.56,371.94 403.68,372.46 403.79,371.81 403.91,371.39 404.03,370.29 404.14,370.43 404.26,370.24 404.37,371.17 404.49,371.39 404.60,371.43 404.72,369.94 404.83,370.08 404.95,369.60 405.06,368.93 405.18,368.94 405.29,370.36 405.41,369.74 405.52,369.90 405.64,370.09 405.75,369.85 405.87,368.86 405.98,368.91 406.10,368.32 406.21,367.97 406.33,367.85 406.44,368.28 406.56,368.49 406.68,368.22 406.79,368.00 406.91,368.73 407.02,369.46 407.14,368.95 407.25,368.95 407.37,368.97 407.48,368.66 407.60,368.40 407.71,368.81 407.83,369.40 407.94,370.21 408.06,370.52 408.17,370.50 408.29,369.92 408.40,370.06 408.52,369.75 408.63,369.83 408.75,369.10 408.86,369.52 408.98,369.25 409.09,368.98 409.21,368.80 409.33,369.68 409.44,369.25 409.56,368.91 409.67,368.63 409.79,368.29 409.90,367.89 410.02,368.56 410.13,369.39 410.25,369.91 410.36,370.46 410.48,370.61 410.59,370.78 410.71,370.74 410.82,371.55 410.94,371.41 411.05,371.28 411.17,371.51 411.28,371.17 411.40,370.32 411.51,371.06 411.63,371.84 411.74,372.30 411.86,372.12 411.98,372.69 412.09,372.66 412.21,373.31 412.32,373.04 412.44,373.23 412.55,373.56 412.67,373.66 412.78,372.83 412.90,373.36 413.01,373.85 413.13,373.59 413.24,373.83 413.36,374.52 413.47,374.01 413.59,374.16 413.70,374.59 413.82,374.27 413.93,373.92 414.05,374.47 414.16,374.78 414.28,374.57 414.39,374.26 414.51,373.87 414.63,373.89 414.74,373.23 414.86,373.16 414.97,373.67 415.09,374.07 415.20,373.43 415.32,373.18 415.43,373.95 415.55,373.72 415.66,374.00 415.78,374.45 415.89,374.73 416.01,373.98 416.12,374.65 416.24,374.72 416.35,374.55 416.47,375.59 416.58,375.57 416.70,375.19 416.81,375.01 416.93,374.96 417.04,373.64 417.16,373.97 417.27,374.07 417.39,373.42 417.51,373.75 417.62,374.69 417.74,375.25 417.85,374.65 417.97,375.23 418.08,374.81 418.20,374.50 418.31,373.97 418.43,374.70 418.54,375.09 418.66,375.07 418.77,375.05 418.89,374.28 419.00,374.23 419.12,374.05 419.23,374.59 419.35,374.02 419.46,375.12 419.58,374.43 419.69,373.58 419.81,373.15 419.92,373.34 420.04,373.62 420.16,374.00 420.27,375.17 420.39,374.96 420.50,375.15 420.62,374.50 420.73,373.85 420.85,372.93 420.96,373.10 421.08,373.20 421.19,373.37 421.31,373.71 421.42,372.87 421.54,372.82 421.65,372.31 421.77,371.81 421.88,371.27 422.00,371.83 422.11,371.50 422.23,372.26 422.34,372.10 422.46,371.80 422.57,371.94 422.69,371.45 422.81,370.77 422.92,371.18 423.04,371.35 423.15,370.98 423.27,371.32 423.38,371.14 423.50,370.11 423.61,370.38 423.73,370.23 423.84,369.94 423.96,370.61 424.07,370.65 424.19,370.51 424.30,370.86 424.42,370.48 424.53,369.58 424.65,369.18 424.76,368.36 424.88,367.83 424.99,368.51 425.11,368.49 425.22,368.23 425.34,368.67 425.46,368.95 425.57,368.25 425.69,367.65 425.80,367.82 425.92,367.36 426.03,367.28 426.15,367.27 426.26,367.50 426.38,367.55 426.49,368.60 426.61,368.30 426.72,368.68 426.84,367.95 426.95,367.26 427.07,365.67 427.18,365.20 427.30,364.82 427.41,364.97 427.53,365.67 427.64,366.09 427.76,366.79 427.87,366.82 427.99,367.03 428.11,366.22 428.22,366.49 428.34,365.21 428.45,363.86 428.57,364.60 428.68,365.37 428.80,365.78 428.91,366.80 429.03,368.19 429.14,367.74 429.26,367.39 429.37,366.67 429.49,366.56 429.60,366.40 429.72,366.40 429.83,366.81 429.95,367.04 430.06,367.22 430.18,367.10 430.29,367.77 430.41,367.59 430.52,367.20 430.64,367.22 430.76,368.11 430.87,367.11 430.99,367.68 431.10,369.73 431.22,370.00 431.33,369.28 431.45,369.79 431.56,369.26 431.68,367.89 431.79,367.86 431.91,369.04 432.02,369.78 432.14,370.33 432.25,370.43 432.37,371.02 432.48,370.58 432.60,370.05 432.71,371.03 432.83,372.23 432.94,372.02 433.06,371.79 433.17,372.30 433.29,372.57 433.40,371.87 433.52,372.44 433.64,372.39 433.75,372.35 433.87,371.40 433.98,371.25 434.10,371.02 434.21,371.06 434.33,370.60 434.44,370.64 434.56,370.46 434.67,370.59 434.79,370.64 434.90,371.14 435.02,371.79 435.13,372.46 435.25,372.50 435.36,373.18 435.48,373.33 435.59,372.55 435.71,372.71 435.82,372.51 435.94,372.94 436.05,372.99 436.17,373.00 436.29,372.59 436.40,372.48 436.52,372.14 436.63,372.62 436.75,373.17 436.86,374.10 436.98,374.83 437.09,374.25 437.21,374.25 437.32,373.48 437.44,373.53 437.55,372.85 437.67,373.74 437.78,373.29 437.90,374.48 438.01,373.87 438.13,374.11 438.24,373.81 438.36,373.66 438.47,372.59 438.59,372.85 438.70,372.41 438.82,372.18 438.94,372.39 439.05,372.09 439.17,372.74 439.28,373.37 439.40,374.14 439.51,374.24 439.63,375.23 439.74,372.71 439.86,372.26 439.97,370.72 440.09,370.02 440.20,370.07 440.32,371.42 440.43,370.82 440.55,371.45 440.66,371.85 440.78,371.40 440.89,372.17 441.01,373.15 441.12,373.01 441.24,372.80 441.35,373.33 441.47,372.76 441.59,372.39 441.70,372.51 441.82,372.36 441.93,371.84 442.05,371.55 442.16,371.99 442.28,372.27 442.39,372.32 442.51,372.92 442.62,372.77 442.74,372.34 442.85,372.13 442.97,371.87 443.08,371.37 443.20,371.72 443.31,371.60 443.43,371.11 443.54,370.10 443.66,370.57 443.77,370.08 443.89,369.77 444.00,369.25 444.12,370.42 444.24,370.43 444.35,369.72 444.47,369.94 444.58,370.22 444.70,370.50 444.81,369.78 444.93,370.40 445.04,369.44 445.16,368.91 445.27,368.45 445.39,367.63 445.50,367.44 445.62,367.61 445.73,367.76 445.85,367.11 445.96,367.44 446.08,367.20 446.19,367.03 446.31,366.92 446.42,367.39 446.54,366.28 446.65,366.29 446.77,365.94 446.89,365.77 447.00,364.81 447.12,366.34 447.23,365.17 447.35,365.47 447.46,365.97 447.58,366.33 447.69,364.36 447.81,364.92 447.92,365.26 448.04,364.86 448.15,364.27 448.27,365.74 448.38,365.96 448.50,365.50 448.61,364.33 448.73,364.96 448.84,363.76 448.96,363.92 449.07,364.10 449.19,364.55 449.30,364.13 449.42,365.39 449.53,364.81 449.65,364.19 449.77,364.86 449.88,365.02 450.00,364.18 450.11,364.66 450.23,365.19 450.34,365.22 450.46,365.45 450.57,366.14 450.69,365.98 450.80,366.40 450.92,366.12 451.03,366.08 451.15,366.00 451.26,365.67 451.38,364.27 451.49,363.80 451.61,364.40 451.72,363.49 451.84,363.82 451.95,364.74 452.07,365.62 452.18,365.13 452.30,365.16 452.42,365.11 452.53,365.35 452.65,365.47 452.76,365.74 452.88,366.18 452.99,365.72 453.11,366.09 453.22,365.91 453.34,366.01 453.45,366.68 453.57,367.41 453.68,366.85 453.80,367.56 453.91,367.95 454.03,367.24 454.14,367.39 454.26,367.52 454.37,367.25 454.49,367.10 454.60,367.53 454.72,367.99 454.83,368.81 454.95,368.71 455.07,368.29 455.18,369.04 455.30,368.50 455.41,367.85 455.53,368.34 455.64,368.83 455.76,368.53 455.87,368.83 455.99,368.95 456.10,369.25 456.22,369.94 456.33,369.59 456.45,369.92 456.56,370.13 456.68,369.54 456.79,368.42 456.91,369.46 457.02,369.15 457.14,369.76 457.25,369.69 457.37,369.85 457.48,370.01 457.60,370.39 457.72,370.24 457.83,370.74 457.95,371.37 458.06,371.30 458.18,371.94 458.29,371.61 458.41,371.19 458.52,371.50 458.64,371.73 458.75,370.39 458.87,370.25 458.98,370.49 459.10,370.73 459.21,370.40 459.33,371.31 459.44,372.21 459.56,371.71 459.67,371.24 459.79,370.85 459.90,371.41 460.02,371.40 460.13,372.42 460.25,372.37 460.37,372.66 460.48,372.35 460.60,371.83 460.71,371.40 460.83,370.89 460.94,370.86 461.06,371.16 461.17,371.29 461.29,370.75 461.40,371.61 461.52,371.50 461.63,371.21 461.75,371.02 461.86,371.52 461.98,371.61 462.09,371.71 462.21,371.14 462.32,370.82 462.44,370.51 462.55,369.78 462.67,369.79 462.78,370.31 462.90,370.34 463.02,371.19 463.13,371.54 463.25,372.14 463.36,372.09 463.48,372.73 463.59,372.69 463.71,372.36 463.82,371.82 463.94,371.75 464.05,371.49 464.17,371.22 464.28,370.79 464.40,370.61 464.51,370.28 464.63,370.64 464.74,370.44 464.86,371.08 464.97,370.91 465.09,371.14 465.20,370.42 465.32,369.46 465.43,369.27 465.55,369.08 465.66,368.89 465.78,367.76 465.90,367.61 466.01,367.20 466.13,366.72 466.24,366.72 466.36,367.73 466.47,368.20 466.59,368.25 466.70,368.78 466.82,368.68 466.93,368.26 467.05,368.08 467.16,368.89 467.28,368.35 467.39,367.34 467.51,367.69 467.62,367.58 467.74,367.16 467.85,366.71 467.97,367.58 468.08,367.70 468.20,367.79 468.31,366.03 468.43,366.50 468.55,366.43 468.66,365.56 468.78,365.19 468.89,365.36 469.01,365.50 469.12,365.51 469.24,365.71 469.35,365.52 469.47,365.94 469.58,364.82 469.70,364.65 469.81,364.75 469.93,364.85 470.04,364.53 470.16,364.68 470.27,364.11 470.39,364.09 470.50,363.56 470.62,363.41 470.73,362.37 470.85,362.17 470.96,360.96 471.08,361.77 471.20,362.32 471.31,363.69 471.43,363.74 471.54,364.73 471.66,364.39 471.77,364.12 471.89,363.97 472.00,363.44 472.12,363.06 472.23,362.79 472.35,362.11 472.46,361.75 472.58,361.94 472.69,361.90 472.81,361.85 472.92,362.22 473.04,362.69 473.15,362.27 473.27,361.60 473.38,361.14 473.50,361.61 473.61,361.96 473.73,362.65 473.85,363.28 473.96,363.44 474.08,363.35 474.19,362.84 474.31,362.04 474.42,362.44 474.54,362.39 474.65,361.98 474.77,362.47 474.88,363.06 475.00,363.08 475.11,364.00 475.23,365.25 475.34,365.42 475.46,365.45 475.57,365.46 475.69,365.02 475.80,364.77 475.92,364.34 476.03,364.72 476.15,365.31 476.26,366.23 476.38,365.70 476.50,365.60 476.61,365.99 476.73,365.48 476.84,364.60 476.96,364.12 477.07,364.68 477.19,364.13 477.30,363.30 477.42,363.67 477.53,363.95 477.65,364.79 477.76,364.56 477.88,365.59 477.99,366.54 478.11,366.95 478.22,365.53 478.34,365.75 478.45,365.36 478.57,364.69 478.68,365.47 478.80,366.23 478.91,366.89 479.03,367.35 479.15,367.66 479.26,367.44 479.38,366.99 479.49,366.95 479.61,366.26 479.72,365.24 479.84,365.87 479.95,366.60 480.07,367.40 480.18,368.99 480.30,369.78 480.41,369.82 480.53,370.13 480.64,369.78 480.76,369.04 480.87,369.52 480.99,369.33 481.10,368.58 481.22,368.35 481.33,368.58 481.45,368.10 481.56,368.46 481.68,368.84 481.79,369.38 481.91,369.21 482.03,369.33 482.14,369.40 482.26,368.98 482.37,369.27 482.49,369.26 482.60,369.57 482.72,369.54 482.83,370.64 482.95,370.31 483.06,370.86 483.18,371.29 483.29,370.70 483.41,370.85 483.52,370.75 483.64,370.76 483.75,371.28 483.87,371.41 483.98,371.37 484.10,372.45 484.21,372.72 484.33,372.02 484.44,371.77 484.56,371.44 484.68,369.73 484.79,368.85 484.91,368.28 485.02,368.09 485.14,367.73 485.25,368.60 485.37,368.93 485.48,368.98 485.60,369.44 485.71,369.69 485.83,370.11 485.94,370.09 486.06,370.34 486.17,370.99 486.29,370.82 486.40,369.81 486.52,370.12 486.63,369.91 486.75,368.99 486.86,369.64 486.98,370.05 487.09,369.75 487.21,369.65 487.33,369.33 487.44,369.47 487.56,369.32 487.67,369.17 487.79,368.98 487.90,368.80 488.02,368.31 488.13,368.38 488.25,369.07 488.36,369.18 488.48,370.40 488.59,369.41 488.71,368.76 488.82,368.01 488.94,369.22 489.05,368.85 489.17,368.94 489.28,369.86 489.40,370.08 489.51,369.08 489.63,368.30 489.74,368.39 489.86,367.55 489.98,367.52 490.09,367.36 490.21,367.69 490.32,367.38 490.44,367.45 490.55,366.69 490.67,367.31 490.78,366.60 490.90,366.86 491.01,366.16 491.13,366.45 491.24,365.21 491.36,364.94 491.47,364.98 491.59,365.30 491.70,365.27 491.82,365.42 491.93,366.63 492.05,366.33 492.16,366.33 492.28,366.46 492.39,366.50 492.51,366.33 492.63,365.51 492.74,365.07 492.86,363.78 492.97,363.94 493.09,363.64 493.20,364.00 493.32,364.78 493.43,365.38 493.55,365.17 493.66,364.69 493.78,364.57 493.89,363.71 494.01,362.87 494.12,362.17 494.24,362.48 494.35,362.05 494.47,362.54 494.58,363.20 494.70,363.92 494.81,363.61 494.93,363.37 495.04,362.93 495.16,363.16 495.28,362.77 495.39,362.46 495.51,362.33 495.62,362.52 495.74,362.70 495.85,362.14 495.97,362.63 496.08,363.35 496.20,362.29 496.31,361.70 496.43,362.11 496.54,361.68 496.66,361.88 496.77,362.59 496.89,362.50 497.00,361.72 497.12,360.97 497.23,360.80 497.35,360.84 497.46,360.59 497.58,361.92 497.69,362.53 497.81,362.43 497.92,362.60 498.04,363.35 498.16,362.43 498.27,362.98 498.39,363.26 498.50,363.08 498.62,362.65 498.73,363.43 498.85,362.28 498.96,362.05 499.08,361.93 499.19,362.18 499.31,361.93 499.42,362.89 499.54,362.31 499.65,362.18 499.77,362.13 499.88,361.48 500.00,361.43 500.11,361.74 500.23,361.90 500.34,362.32 500.46,362.51 500.57,362.94 500.69,363.03 500.81,363.52 500.92,363.05 501.04,362.87 501.15,362.07 501.27,362.73 501.38,362.46 501.50,362.90 501.61,364.13 501.73,364.97 501.84,364.80 501.96,364.67 502.07,365.39 502.19,365.03 502.30,364.44 502.42,364.53 502.53,365.33 502.65,364.22 502.76,364.84 502.88,364.90 502.99,364.37 503.11,364.95 503.22,365.41 503.34,364.86 503.46,365.17 503.57,366.32 503.69,365.69 503.80,366.53 503.92,366.73 504.03,366.71 504.15,366.79 504.26,367.17 504.38,366.88 504.49,367.06 504.61,367.38 504.72,367.24 504.84,366.92 504.95,367.39 505.07,368.69 505.18,368.55 505.30,367.99 505.41,368.73 505.53,368.55 505.64,367.33 505.76,367.27 505.87,367.70 505.99,366.62 506.11,366.44 506.22,366.47 506.34,366.79 506.45,367.34 506.57,367.45 506.68,367.23 506.80,367.05 506.91,367.47 507.03,366.89 507.14,367.94 507.26,368.10 507.37,369.72 507.49,370.05 507.60,370.23 507.72,370.01 507.83,370.15 507.95,369.76 508.06,368.69 508.18,368.78 508.29,368.63 508.41,368.56 508.52,367.74 508.64,367.82 508.76,368.01 508.87,368.66 508.99,368.97 509.10,368.57 509.22,368.95 509.33,369.23 509.45,368.33 509.56,368.18 509.68,368.48 509.79,369.42 509.91,369.63 510.02,369.60 510.14,369.75 510.25,369.86 510.37,368.30 510.48,368.04 510.60,368.22 510.71,368.36 510.83,368.78 510.94,369.66 511.06,370.14 511.17,371.16 511.29,370.30 511.41,370.06 511.52,369.52 511.64,368.81 511.75,367.80 511.87,368.08 511.98,367.70 512.10,368.68 512.21,368.18 512.33,368.63 512.44,368.80 512.56,367.95 512.67,367.35 512.79,367.10 512.90,366.78 513.02,366.55 513.13,367.59 513.25,367.38 513.36,368.42 513.48,368.61 513.59,368.66 513.71,369.30 513.82,369.78 513.94,369.05 514.05,368.84 514.17,369.29 514.29,369.01 514.40,368.49 514.52,368.84 514.63,368.41 514.75,368.01 514.86,366.62 514.98,366.78 515.09,367.37 515.21,367.28 515.32,367.09 515.44,367.72 515.55,368.12 515.67,366.66 515.78,366.61 515.90,366.51 516.01,367.15 516.13,366.12 516.24,366.52 516.36,365.79 516.47,365.83 516.59,365.55 516.70,365.57 516.82,365.81 516.94,366.09 517.05,366.25 517.17,365.63 517.28,365.66 517.40,365.14 517.51,365.41 517.63,365.16 517.74,364.99 517.86,365.01 517.97,364.80 518.09,364.56 518.20,365.05 518.32,364.92 518.43,363.93 518.55,363.73 518.66,363.22 518.78,361.91 518.89,361.96 519.01,363.02 519.12,362.67 519.24,362.35 519.35,362.17 519.47,361.66 519.59,360.79 519.70,361.04 519.82,361.26 519.93,361.39 520.05,361.32 520.16,361.79 520.28,361.95 520.39,361.72 520.51,361.77 520.62,362.86 520.74,362.30 520.85,362.93 520.97,362.25 521.08,361.71 521.20,360.28 521.31,360.55 521.43,359.96 521.54,360.81 521.66,361.05 521.77,361.61 521.89,361.19 522.00,360.34 522.12,359.94 522.24,360.34 522.35,360.90 522.47,360.92 522.58,361.47 522.70,361.50 522.81,360.31 522.93,358.64 523.04,358.49 523.16,357.71 523.27,357.18 523.39,357.86 523.50,358.44 523.62,358.20 523.73,358.69 523.85,359.62 523.96,359.98 524.08,360.10 524.19,360.76 524.31,360.42 524.42,360.37 524.54,359.44 524.65,358.95 524.77,359.25 524.89,359.17 525.00,359.24 525.12,359.32 525.23,359.67 525.35,359.21 525.46,359.44 525.58,359.56 525.69,360.07 525.81,360.19 525.92,360.30 526.04,360.49 526.15,360.76 526.27,360.73 526.38,361.50 526.50,361.25 526.61,361.30 526.73,360.65 526.84,361.21 526.96,359.48 527.07,359.93 527.19,360.17 527.30,360.89 527.42,360.14 527.54,361.74 527.65,361.32 527.77,361.90 527.88,361.54 528.00,362.42 528.11,361.93 528.23,362.59 528.34,362.66 528.46,362.72 528.57,363.18 528.69,364.10 528.80,363.76 528.92,364.31 529.03,364.29 529.15,364.07 529.26,364.16 529.38,364.50 529.49,363.55 529.61,364.24 529.72,364.26 529.84,363.63 529.95,363.53 530.07,363.94 530.18,364.13 530.30,364.57 530.42,365.28 530.53,365.42 530.65,365.26 530.76,364.91 530.88,364.02 530.99,364.00 531.11,364.55 531.22,365.07 531.34,364.48 531.45,366.06 531.57,365.90 531.68,365.65 531.80,365.55 531.91,365.46 532.03,364.17 532.14,364.05 532.26,364.71 532.37,364.61 532.49,365.85 532.60,366.41 532.72,366.73 532.83,366.63 532.95,366.64 533.07,365.86 533.18,365.50 533.30,365.56 533.41,366.24 533.53,366.11 533.64,366.40 533.76,366.98 533.87,367.33 533.99,366.27 534.10,367.12 534.22,367.29 534.33,367.71 534.45,367.93 534.56,368.24 534.68,368.55 534.79,368.92 534.91,368.26 535.02,368.46 535.14,368.09 535.25,367.73 535.37,367.52 535.48,367.75 535.60,367.20"/>
<polyline fill="none" stroke="#196af8" stroke-width="0.90" stroke-linejoin="round" stroke-linecap="round" clip-path="url(#c3)" points="120.83,392.61 120.90,393.48 120.97,394.24 121.04,395.10 121.11,395.61 121.17,396.21 121.24,396.42 121.31,396.95 121.38,397.64 121.45,397.67 121.52,397.98 121.59,398.24 121.66,398.25 121.73,398.27 121.80,398.48 121.87,398.44 121.93,398.36 122.00,398.46 122.07,398.19 122.14,398.06 122.21,397.92 122.28,397.65 122.35,397.13 122.42,396.63 122.49,396.22 122.56,395.85 122.63,395.01 122.70,394.45 122.76,393.69 122.83,392.89 122.90,392.44 122.97,391.56 123.04,390.86 123.11,390.14 123.18,388.96 123.25,388.40 123.32,388.12 123.39,387.15 123.46,386.71 123.52,385.92 123.59,385.64 123.66,385.30 123.73,384.96 123.80,384.72 123.87,384.65 123.94,384.67 124.01,384.72 124.08,384.75 124.15,385.24 124.22,385.35 124.29,385.73 124.35,386.22 124.42,386.52 124.49,387.40 124.56,387.84 124.63,388.55 124.70,388.99 124.77,389.85 124.84,390.47 124.91,391.12 124.98,392.17 125.05,392.52 125.11,393.42 125.18,393.99 125.25,394.60 125.32,395.03 125.39,395.59 125.46,395.91 125.53,396.64 125.60,397.16 125.67,397.51 125.74,397.59 125.81,397.65 125.87,398.06 125.94,398.35 126.01,398.29 126.08,398.34 126.15,398.39 126.22,398.53 126.29,398.85 126.36,398.43 126.43,398.05 126.50,398.08 126.57,398.36 126.64,397.72 126.70,397.79 126.77,396.74 126.84,396.69 126.91,396.53 126.98,395.67 127.05,395.46 127.12,394.64 127.19,394.16 127.26,393.78 127.33,392.79 127.40,392.54 127.46,391.36 127.53,390.97 127.60,390.55 127.67,390.09 127.74,388.82 127.81,388.29 127.88,388.32 127.95,387.26 128.02,387.14 128.09,386.86 128.16,386.54 128.23,386.35 128.29,385.84 128.36,386.01 128.43,386.41 128.50,385.65 128.57,386.01 128.64,386.60 128.71,386.69 128.78,387.10 128.85,387.25 128.92,387.57 128.99,388.05 129.05,388.72 129.12,389.28 129.19,389.48 129.26,390.26 129.33,390.34 129.40,391.60 129.47,391.86 129.54,392.63 129.61,393.40 129.68,393.52 129.75,394.35 129.82,395.12 129.88,395.50 129.95,395.67 130.02,396.61 130.09,396.43 130.16,396.94 130.23,397.46 130.30,397.36 130.37,397.49 130.44,397.93 130.51,398.16 130.58,397.87 130.64,398.01 130.71,398.61 130.78,398.45 130.85,398.45 130.92,398.48 130.99,398.69 131.06,398.05 131.13,398.13 131.20,397.97 131.27,397.47 131.34,397.70 131.41,397.30 131.47,396.90 131.54,396.71 131.61,396.23 131.68,395.58 131.75,395.29 131.82,394.47 131.89,394.45 131.96,393.67 132.03,393.51 132.10,392.62 132.17,392.20 132.23,391.12 132.30,390.71 132.37,390.23 132.44,389.38 132.51,389.00 132.58,388.74 132.65,388.69 132.72,388.52 132.79,387.84 132.86,387.66 132.93,387.53 133.00,387.28 133.06,387.54 133.13,386.68 133.20,387.39 133.27,387.34 133.34,387.14 133.41,387.89 133.48,387.44 133.55,387.71 133.62,388.35 133.69,388.91 133.76,389.14 133.82,389.92 133.89,389.50 133.96,390.33 134.03,391.04 134.10,391.59 134.17,391.70 134.24,391.97 134.31,393.25 134.38,393.57 134.45,394.40 134.52,394.22 134.59,394.84 134.65,394.71 134.72,395.80 134.79,396.28 134.86,396.73 134.93,396.63 135.00,397.63 135.07,397.23 135.14,397.60 135.21,398.02 135.28,398.29 135.35,397.86 135.41,397.73 135.48,398.46 135.55,398.22 135.62,397.89 135.69,398.58 135.76,398.47 135.83,398.74 135.90,398.39 135.97,398.31 136.04,398.33 136.11,398.31 136.18,398.41 136.24,398.17 136.31,397.85 136.38,397.13 136.45,397.21 136.52,397.02 136.59,396.24 136.66,395.92 136.73,395.95 136.80,395.52 136.87,394.73 136.94,394.40 137.00,394.34 137.07,393.58 137.14,393.24 137.21,392.46 137.28,392.65 137.35,391.71 137.42,391.46 137.49,391.54 137.56,390.55 137.63,390.28 137.70,390.67 137.77,389.35 137.83,390.09 137.90,389.81 137.97,389.45 138.04,388.97 138.11,388.95 138.18,389.12 138.25,388.64 138.32,388.99 138.39,388.74 138.46,388.39 138.53,389.39 138.59,390.47 138.66,390.00 138.73,390.45 138.80,390.34 138.87,390.65 138.94,391.41 139.01,391.73 139.08,391.81 139.15,392.16 139.22,393.36 139.29,392.57 139.36,393.29 139.42,393.71 139.49,394.01 139.56,394.85 139.63,394.92 139.70,394.93 139.77,395.28 139.84,395.84 139.91,396.42 139.98,396.92 140.05,396.47 140.12,397.00 140.18,397.57 140.25,398.38 140.32,398.11 140.39,398.64 140.46,397.66 140.53,398.13 140.60,398.54 140.67,398.44 140.74,397.45 140.81,397.96 140.88,398.88 140.94,398.45 141.01,398.83 141.08,398.99 141.15,398.26 141.22,397.39 141.29,397.61 141.36,398.05 141.43,398.07 141.50,397.70 141.57,397.20 141.64,397.90 141.71,397.81 141.77,396.17 141.84,396.47 141.91,395.67 141.98,395.85 142.05,395.04 142.12,395.45 142.19,394.66 142.26,393.88 142.33,393.69 142.40,393.85 142.47,392.94 142.53,393.14 142.60,393.05 142.67,391.93 142.74,391.23 142.81,391.09 142.88,391.57 142.95,390.44 143.02,390.23 143.09,390.42 143.16,390.98 143.23,389.42 143.30,389.31 143.36,389.34 143.43,390.12 143.50,389.97 143.57,388.97 143.64,389.07 143.71,389.24 143.78,389.61 143.85,389.47 143.92,390.00 143.99,390.09 144.06,390.52 144.12,390.31 144.19,390.84 144.26,390.57 144.33,390.97 144.40,391.91 144.47,391.17 144.54,392.72 144.61,392.44 144.68,392.55 144.75,392.83 144.82,394.64 144.89,393.69 144.95,393.96 145.02,394.23 145.09,396.11 145.16,395.80 145.23,395.89 145.30,396.35 145.37,395.89 145.44,397.02 145.51,396.47 145.58,396.99 145.65,398.06 145.71,398.06 145.78,398.00 145.85,397.91 145.92,397.64 145.99,398.25 146.06,397.86 146.13,399.00 146.20,399.68 146.27,398.53 146.34,398.20 146.41,398.56 146.48,398.84 146.54,398.20 146.61,397.52 146.68,398.38 146.75,398.60 146.82,398.58 146.89,397.24 146.96,398.01 147.03,397.59 147.10,397.16 147.17,397.05 147.24,397.74 147.30,396.68 147.37,396.49 147.44,396.40 147.51,395.89 147.58,396.31 147.65,395.79 147.72,395.68 147.79,394.78 147.86,395.09 147.93,394.28 148.00,394.63 148.07,393.85 148.13,393.62 148.20,393.18 148.27,392.75 148.34,392.59 148.41,392.31 148.48,392.89 148.55,391.14 148.62,391.70 148.69,391.30 148.76,391.37 148.83,390.33 148.89,391.08 148.96,390.29 149.03,389.87 149.10,389.58 149.17,389.76 149.24,390.02 149.31,390.91 149.38,389.76 149.45,389.88 149.52,390.14 149.59,390.28 149.66,390.78 149.72,391.23 149.79,390.64 149.86,390.76 149.93,392.11 150.00,391.40 150.07,391.99 150.14,391.94 150.21,392.53 150.28,392.41 150.35,392.75 150.42,393.12 150.48,394.56 150.55,393.78 150.62,394.47 150.69,395.36 150.76,394.75 150.83,396.09 150.90,395.25 150.97,395.13 151.04,396.50 151.11,396.04 151.18,396.51 151.25,396.64 151.31,397.86 151.38,397.07 151.45,397.48 151.52,397.33 151.59,397.85 151.66,397.42 151.73,397.94 151.80,397.82 151.87,397.54 151.94,398.20 152.01,397.82 152.07,398.25 152.14,398.11 152.21,398.66 152.28,397.98 152.35,397.75 152.42,398.41 152.49,397.94 152.56,398.09 152.63,398.85 152.70,398.02 152.77,397.44 152.84,398.29 152.90,398.86 152.97,397.70 153.04,398.00 153.11,396.50 153.18,397.35 153.25,397.14 153.32,397.26 153.39,396.58 153.46,396.78 153.53,396.72 153.60,396.02 153.66,396.16 153.73,394.76 153.80,395.82 153.87,394.96 153.94,395.01 154.01,395.11 154.08,393.19 154.15,394.96 154.22,392.77 154.29,394.07 154.36,393.01 154.43,391.59 154.49,393.75 154.56,393.14 154.63,391.48 154.70,391.92 154.77,392.16 154.84,391.74 154.91,392.13 154.98,391.44 155.05,390.61 155.12,391.59 155.19,391.27 155.25,390.68 155.32,390.25 155.39,391.72 155.46,391.27 155.53,391.82 155.60,391.96 155.67,391.93 155.74,392.18 155.81,392.94 155.88,393.25 155.95,392.71 156.02,392.41 156.08,392.00 156.15,393.20 156.22,393.21 156.29,392.97 156.36,393.17 156.43,393.90 156.50,394.12 156.57,393.27 156.64,394.79 156.71,395.14 156.78,396.05 156.84,395.11 156.91,395.76 156.98,394.75 157.05,396.29 157.12,395.85 157.19,396.00 157.26,395.79 157.33,397.72 157.40,396.22 157.47,397.31 157.54,397.54 157.60,397.81 157.67,397.99 157.74,398.08 157.81,399.36 157.88,397.78 157.95,398.12 158.02,398.79 158.09,398.31 158.16,396.95 158.23,398.12 158.30,398.60 158.37,397.35 158.43,398.85 158.50,398.47 158.57,398.71 158.64,398.51 158.71,397.91 158.78,397.97 158.85,398.72 158.92,398.30 158.99,398.11 159.06,398.33 159.13,398.02 159.19,398.33 159.26,398.22 159.33,397.61 159.40,398.12 159.47,397.08 159.54,397.28 159.61,397.55 159.68,397.17 159.75,396.88 159.82,396.47 159.89,396.08 159.96,396.05 160.02,396.22 160.09,394.56 160.16,394.65 160.23,394.89 160.30,394.13 160.37,394.27 160.44,394.39 160.51,393.94 160.58,392.10 160.65,392.92 160.72,392.67 160.78,393.36 160.85,392.54 160.92,391.31 160.99,392.29 161.06,391.72 161.13,391.46 161.20,391.72 161.27,391.02 161.34,391.77 161.41,391.53 161.48,392.19 161.55,390.07 161.61,391.54 161.68,391.66 161.75,390.86 161.82,392.10 161.89,391.84 161.96,392.41 162.03,391.97 162.10,392.34 162.17,391.85 162.24,392.41 162.31,392.86 162.37,392.82 162.44,392.88 162.51,393.31 162.58,392.56 162.65,392.93 162.72,393.48 162.79,394.56 162.86,393.66 162.93,395.06 163.00,394.33 163.07,394.65 163.14,395.29 163.20,395.68 163.27,395.82 163.34,394.23 163.41,395.99 163.48,396.16 163.55,395.60 163.62,396.16 163.69,395.94 163.76,397.64 163.83,397.73 163.90,394.95 163.96,397.36 164.03,397.68 164.10,397.51 164.17,397.08 164.24,398.66 164.31,397.77 164.38,398.07 164.45,397.67 164.52,398.08 164.59,398.61 164.66,398.88 164.73,399.98 164.79,397.69 164.86,399.37 164.93,398.65 165.00,397.25 165.07,398.67 165.14,397.96 165.21,398.52 165.28,397.88 165.35,398.31 165.42,398.65 165.49,397.33 165.55,398.39 165.62,399.07 165.69,398.30 165.76,397.62 165.83,398.67 165.90,397.24 165.97,397.14 166.04,396.07 166.11,397.84 166.18,396.79 166.25,398.25 166.32,397.21 166.38,396.66 166.45,396.26 166.52,396.39 166.59,396.22 166.66,396.38 166.73,396.05 166.80,395.31 166.87,394.91 166.94,394.64 167.01,394.17 167.08,393.81 167.14,395.71 167.21,394.60 167.28,394.13 167.35,394.27 167.42,392.88 167.49,392.90 167.56,393.33 167.63,393.00 167.70,392.03 167.77,393.02 167.84,392.87 167.91,391.88 167.97,392.08 168.04,391.31 168.11,391.98 168.18,391.65 168.25,392.52 168.32,392.76 168.39,392.09 168.46,393.96 168.53,391.81 168.60,391.44 168.67,392.11 168.73,392.38 168.80,391.52 168.87,392.41 168.94,391.78 169.01,391.03 169.08,392.19 169.15,392.17 169.22,392.63 169.29,392.96 169.36,393.10 169.43,393.42 169.50,392.88 169.56,394.98 169.63,394.21 169.70,393.75 169.77,395.02 169.84,394.70 169.91,395.32 169.98,394.71 170.05,394.62 170.12,394.40 170.19,395.28 170.26,396.35 170.32,395.86 170.39,395.82 170.46,395.41 170.53,398.13 170.60,396.51 170.67,398.24 170.74,396.59 170.81,396.93 170.88,397.03 170.95,396.89 171.02,397.37 171.09,398.22 171.15,397.61 171.22,397.10 171.29,398.12 171.36,398.09 171.43,399.05 171.50,397.40 171.57,398.64 171.64,398.84 171.71,398.66 171.78,398.98 171.85,398.55 171.91,397.46 171.98,397.81 172.05,397.36 172.12,397.31 172.19,399.01 172.26,398.01 172.33,397.26 172.40,396.66 172.47,399.29 172.54,399.26 172.61,397.84 172.68,398.36 172.74,398.76 172.81,397.69 172.88,398.44 172.95,399.40 173.02,397.67 173.09,397.44 173.16,396.94 173.23,396.58 173.30,396.98 173.37,397.13 173.44,397.28 173.50,397.82 173.57,396.76 173.64,395.54 173.71,395.61 173.78,394.40 173.85,395.80 173.92,396.79 173.99,394.70 174.06,394.34 174.13,395.74 174.20,395.87 174.26,394.39 174.33,393.80 174.40,394.94 174.47,394.19 174.54,394.33 174.61,394.45 174.68,394.39 174.75,393.17 174.82,393.40 174.89,393.48 174.96,394.77 175.03,391.48 175.09,393.34 175.16,392.66 175.23,393.31 175.30,392.14 175.37,393.47 175.44,392.26 175.51,392.44 175.58,391.62 175.65,393.10 175.72,392.79 175.79,392.51 175.85,390.85 175.92,393.51 175.99,392.29 176.06,393.05 176.13,392.43 176.20,392.28 176.27,392.76 176.34,392.79 176.41,392.91 176.48,393.68 176.55,393.55 176.62,394.76 176.68,393.96 176.75,394.43 176.82,394.22 176.89,393.67 176.96,394.11 177.03,394.23 177.10,393.95 177.17,396.70 177.24,394.82 177.31,395.34 177.38,395.58 177.44,396.65 177.51,395.47 177.58,395.21 177.65,395.47 177.72,396.47 177.79,396.10 177.86,396.06 177.93,395.55 178.00,396.14 178.07,397.08 178.14,397.25 178.21,397.33 178.27,397.41 178.34,398.05 178.41,397.22 178.48,398.40 178.55,398.56 178.62,397.79 178.69,398.54 178.76,398.36 178.83,399.77 178.90,397.69 178.97,398.32 179.03,398.44 179.10,398.02 179.17,398.22 179.24,398.91 179.31,396.91 179.38,398.73 179.45,397.67 179.52,397.03 179.59,398.85 179.66,398.31 179.73,398.97 179.80,397.56 179.86,398.56 179.93,399.09 180.00,397.24 180.07,397.48 180.14,398.77 180.21,397.15 180.28,397.81 180.35,395.84 180.42,396.49 180.49,398.08 180.56,397.75 180.62,398.09 180.69,397.20 180.76,397.13 180.83,396.47 180.90,396.81 180.97,397.82 181.04,397.16 181.11,395.33 181.18,395.35 181.25,396.16 181.32,395.96 181.39,395.81 181.45,395.48 181.52,396.58 181.59,394.46 181.66,395.44 181.73,394.66 181.80,396.49 181.87,394.24 181.94,393.23 182.01,395.75 182.08,392.76 182.15,393.39 182.21,394.14 182.28,394.64 182.35,392.44 182.42,392.98 182.49,392.61 182.56,393.15 182.63,393.45 182.70,392.10 182.77,393.40 182.84,391.93 182.91,393.81 182.98,393.20 183.04,393.57 183.11,391.46 183.18,393.76 183.25,393.30 183.32,391.96 183.39,392.30 183.46,390.85 183.53,391.16 183.60,392.15 183.67,392.16 183.74,394.14 183.80,393.51 183.87,393.18 183.94,393.17 184.01,394.19 184.08,393.97 184.15,394.04 184.22,392.72 184.29,393.34 184.36,394.07 184.43,394.18 184.50,393.90 184.57,394.81 184.63,394.65 184.70,395.93 184.77,394.27 184.84,394.22 184.91,394.85 184.98,394.94 185.05,395.20 185.12,394.09 185.19,395.66 185.26,397.00 185.33,396.95 185.39,395.77 185.46,395.66 185.53,396.04 185.60,396.14 185.67,396.78 185.74,398.20 185.81,397.74 185.88,398.71 185.95,397.74 186.02,398.61 186.09,397.59 186.16,397.90 186.22,399.36 186.29,397.38 186.36,397.43 186.43,399.16 186.50,398.04 186.57,397.65 186.64,398.48 186.71,397.63 186.78,398.18 186.85,397.52 186.92,398.23 186.98,398.51 187.05,398.00 187.12,397.80 187.19,398.21 187.26,398.75 187.33,399.02 187.40,398.69 187.47,398.84 187.54,398.22 187.61,398.23 187.68,398.40 187.75,398.31 187.81,398.14 187.88,397.01 187.95,397.24 188.02,398.56 188.09,397.72 188.16,398.23 188.23,397.97 188.30,397.99 188.37,398.19 188.44,398.67 188.51,399.41 188.57,397.22 188.64,396.33 188.71,397.83 188.78,396.59 188.85,397.14 188.92,396.48 188.99,397.17 189.06,396.57 189.13,396.31 189.20,397.93 189.27,395.73 189.33,395.84 189.40,397.51 189.47,394.88 189.54,395.25 189.61,394.89 189.68,394.60 189.75,395.04 189.82,395.39 189.89,394.73 189.96,394.56 190.03,392.32 190.10,392.47 190.16,394.16 190.23,393.96 190.30,393.25 190.37,392.93 190.44,393.80 190.51,393.94 190.58,391.52 190.65,392.12 190.72,394.10 190.79,394.19 190.86,393.38 190.92,392.50 190.99,392.19 191.06,392.86 191.13,393.85 191.20,392.38 191.27,392.07 191.34,392.56 191.41,392.96 191.48,392.14 191.55,392.68 191.62,393.57 191.69,392.65 191.75,393.82 191.82,392.09 191.89,392.57 191.96,393.82 192.03,392.95 192.10,392.23 192.17,395.05 192.24,393.56 192.31,392.25 192.38,394.94 192.45,393.97 192.51,395.12 192.58,394.17 192.65,396.19 192.72,395.72 192.79,395.00 192.86,394.61 192.93,394.58 193.00,394.70 193.07,394.28 193.14,394.80 193.21,394.93 193.28,396.48 193.34,395.97 193.41,393.43 193.48,394.32 193.55,395.64 193.62,395.86 193.69,395.81 193.76,397.07 193.83,395.30 193.90,397.32 193.97,397.21 194.04,395.50 194.10,399.08 194.17,397.20 194.24,399.00 194.31,398.23 194.38,397.87 194.45,398.17 194.52,397.82 194.59,398.66 194.66,398.18 194.73,399.13 194.80,398.53 194.87,399.39 194.93,397.76 195.00,399.39 195.07,397.79 195.14,398.72 195.21,398.65 195.28,397.44 195.35,398.33 195.42,399.98 195.49,398.01 195.56,400.81 195.63,398.20 195.69,398.75 195.76,399.57 195.83,398.34 195.90,398.64 195.97,396.71 196.04,398.70 196.11,396.70 196.18,397.12 196.25,398.73 196.32,398.85 196.39,397.02 196.46,398.16 196.52,397.85 196.59,398.11 196.66,398.82 196.73,398.04 196.80,398.43 196.87,398.80 196.94,397.66 197.01,395.82 197.08,395.84 197.15,397.11 197.22,396.81 197.28,396.36 197.35,395.52 197.42,396.24 197.49,396.76 197.56,396.54 197.63,395.11 197.70,393.73 197.77,396.27 197.84,397.30 197.91,394.75 197.98,395.33 198.05,395.00 198.11,393.92 198.18,394.74 198.25,395.76 198.32,396.14 198.39,394.38 198.46,395.17 198.53,393.81 198.60,394.99 198.67,394.08 198.74,394.90 198.81,393.84 198.87,393.80 198.94,392.81 199.01,392.08 199.08,393.27 199.15,393.76 199.22,391.30 199.29,392.58 199.36,392.31 199.43,392.25 199.50,391.50 199.57,391.84 199.64,392.09 199.70,392.00 199.77,393.37 199.84,393.16 199.91,392.74 199.98,392.59 200.05,392.68 200.12,392.47 200.19,392.75 200.26,393.19 200.33,394.26 200.40,392.24 200.46,392.53 200.53,393.85 200.60,392.77 200.67,392.95 200.74,393.33 200.81,395.06 200.88,394.64 200.95,394.24 201.02,392.47 201.09,394.71 201.16,394.40 201.23,395.19 201.29,394.80 201.36,394.23 201.43,396.43 201.50,397.23 201.57,394.39 201.64,395.08 201.71,395.77 201.78,394.58 201.85,394.73 201.92,397.50 201.99,396.00 202.05,395.05 202.12,396.72 202.19,396.55 202.26,395.61 202.33,396.79 202.40,397.72 202.47,397.42 202.54,398.09 202.61,396.60 202.68,398.67 202.75,396.45 202.82,398.83 202.88,397.48 202.95,398.88 203.02,397.98 203.09,396.92 203.16,396.91 203.23,396.83 203.30,398.09 203.37,397.99 203.44,397.94 203.51,397.66 203.58,398.58 203.64,397.33 203.71,398.03 203.78,397.35 203.85,397.95 203.92,397.80 203.99,399.03 204.06,398.77 204.13,399.53 204.20,398.68 204.27,398.57 204.34,397.70 204.41,399.51 204.47,395.62 204.54,398.52 204.61,397.31 204.68,397.49 204.75,400.56 204.82,398.58 204.89,397.05 204.96,400.39 205.03,397.59 205.10,399.00 205.17,398.57 205.23,397.91 205.30,399.67 205.37,397.81 205.44,398.47 205.51,398.48 205.58,397.14 205.65,394.61 205.72,397.26 205.79,396.98 205.86,397.40 205.93,397.88 205.99,396.91 206.06,395.69 206.13,396.73 206.20,395.99 206.27,396.83 206.34,394.30 206.41,397.80 206.48,395.71 206.55,395.61 206.62,395.70 206.69,396.76 206.76,396.64 206.82,395.70 206.89,395.26 206.96,396.26 207.03,395.99 207.10,394.42 207.17,393.86 207.24,395.12 207.31,395.10 207.38,394.99 207.45,392.05 207.52,393.66 207.58,394.02 207.65,392.96 207.72,391.71 207.79,392.58 207.86,394.76 207.93,393.48 208.00,393.67 208.07,393.53 208.14,394.21 208.21,393.41 208.28,393.96 208.35,392.65 208.41,392.85 208.48,394.09 208.55,394.32 208.62,393.21 208.69,392.19 208.76,392.32 208.83,392.81 208.90,395.67 208.97,393.20 209.04,393.44 209.11,393.10 209.17,393.92 209.24,393.26 209.31,393.52 209.38,390.58 209.45,392.42 209.52,393.28 209.59,393.22 209.66,393.36 209.73,393.17 209.80,393.78 209.87,393.53 209.94,392.70 210.00,392.97 210.07,393.54 210.14,392.74 210.21,393.84 210.28,395.03 210.35,395.83 210.42,395.02 210.49,394.59 210.56,394.31 210.63,393.83 210.70,395.43 210.76,395.77 210.83,394.51 210.90,394.28 210.97,395.89 211.04,395.30 211.11,394.51 211.18,395.58 211.25,396.05 211.32,397.98 211.39,395.07 211.46,395.81 211.53,396.39 211.59,397.04 211.66,397.86 211.73,396.95 211.80,397.07 211.87,396.10 211.94,398.26 212.01,395.99 212.08,397.34 212.15,396.40 212.22,398.41 212.29,397.32 212.35,396.61 212.42,397.67 212.49,399.15 212.56,398.19 212.63,397.47 212.70,399.25 212.77,399.33 212.84,397.87 212.91,398.96 212.98,397.53 213.05,399.22 213.12,399.83 213.18,398.90 213.25,396.87 213.32,399.00 213.39,398.23 213.46,398.00 213.53,399.08 213.60,397.24 213.67,398.06 213.74,397.81 213.81,399.72 213.88,399.77 213.94,400.66 214.01,398.34 214.08,398.35 214.15,397.47 214.22,396.75 214.29,398.28 214.36,398.26 214.43,397.57 214.50,396.55 214.57,398.61 214.64,397.25 214.71,397.97 214.77,397.98 214.84,396.87 214.91,398.24 214.98,398.41 215.05,396.75 215.12,397.28 215.19,397.39 215.26,397.17 215.33,396.49 215.40,397.17 215.47,396.02 215.53,396.22 215.60,395.13 215.67,395.20 215.74,395.43 215.81,396.26 215.88,395.83 215.95,396.34 216.02,393.08 216.09,395.72 216.16,394.87 216.23,394.00 216.30,396.33 216.36,395.69 216.43,395.16 216.50,395.56 216.57,395.67 216.64,394.84 216.71,393.06 216.78,393.44 216.85,393.93 216.92,393.80 216.99,395.21 217.06,392.94 217.12,393.06 217.19,394.32 217.26,393.03 217.33,393.29 217.40,393.48 217.47,393.81 217.54,393.43 217.61,393.59 217.68,392.23 217.75,392.24 217.82,392.21 217.89,392.61 217.95,392.76 218.02,390.47 218.09,394.00 218.16,391.17 218.23,391.92 218.30,392.16 218.37,392.67 218.44,392.40 218.51,393.29 218.58,393.48 218.65,392.33 218.71,393.77 218.78,391.51 218.85,391.30 218.92,395.51 218.99,393.83 219.06,392.21 219.13,392.32 219.20,392.48 219.27,392.27 219.34,392.04 219.41,392.02 219.48,391.25 219.54,392.96 219.61,392.29 219.68,394.67 219.75,393.41 219.82,394.51 219.89,392.22 219.96,391.47 220.03,393.23 220.10,395.05 220.17,394.08 220.24,394.07 220.30,394.04 220.37,393.35 220.44,393.60 220.51,397.05 220.58,393.48 220.65,395.32 220.72,395.51 220.79,393.82 220.86,395.50 220.93,396.64 221.00,396.73 221.07,395.57 221.13,394.91 221.20,394.48 221.27,396.15 221.34,396.54 221.41,394.71 221.48,396.75 221.55,395.08 221.62,396.31 221.69,396.41 221.76,396.94 221.83,396.54 221.89,397.33 221.96,397.61 222.03,397.19 222.10,397.74 222.17,396.92 222.24,397.19 222.31,397.57 222.38,397.56 222.45,397.64 222.52,395.86 222.59,397.52 222.65,398.10 222.72,397.86 222.79,396.99 222.86,397.82 222.93,397.79 223.00,397.90 223.07,397.52 223.14,397.32 223.21,397.28 223.28,399.22 223.35,398.69 223.42,400.14 223.48,396.94 223.55,396.65 223.62,396.47 223.69,397.54 223.76,396.59 223.83,397.68 223.90,397.74 223.97,399.04 224.04,398.31 224.11,398.11 224.18,396.67 224.24,395.94 224.31,397.88 224.38,397.05 224.45,397.09 224.52,398.02 224.59,398.84 224.66,397.87 224.73,398.44 224.80,397.32 224.87,397.08 224.94,397.03 225.01,396.94 225.07,396.23 225.14,397.46 225.21,395.66 225.28,397.95 225.35,396.22 225.42,395.80 225.49,396.79 225.56,397.43 225.63,395.21 225.70,396.32 225.77,394.82 225.83,394.71 225.90,395.30 225.97,395.16 226.04,394.10 226.11,394.54 226.18,395.63 226.25,394.46 226.32,393.95 226.39,394.15 226.46,394.02 226.53,394.20 226.60,394.04 226.66,394.67 226.73,395.00 226.80,392.46 226.87,393.99 226.94,393.06 227.01,394.56 227.08,392.87 227.15,393.68 227.22,389.98 227.29,393.63 227.36,393.48 227.42,391.57 227.49,391.29 227.56,394.26 227.63,391.94 227.70,391.27 227.77,393.18 227.84,391.31 227.91,392.39 227.98,392.77 228.05,392.11 228.12,392.16 228.19,393.00 228.25,389.53 228.32,392.06 228.39,392.31 228.46,390.78 228.53,391.65 228.60,390.32 228.67,391.84 228.74,391.26 228.81,391.52 228.88,391.48 228.95,391.86 229.01,391.80 229.08,390.14 229.15,392.43 229.22,392.35 229.29,392.22 229.36,391.41 229.43,391.64 229.50,391.20 229.57,393.44 229.64,392.00 229.71,392.50 229.78,392.69 229.84,392.36 229.91,394.49 229.98,392.45 230.05,392.68 230.12,394.28 230.19,393.12 230.26,391.66 230.33,393.63 230.40,392.81 230.47,393.71 230.54,394.39 230.60,394.61 230.67,394.24 230.74,392.74 230.81,393.32 230.88,394.90 230.95,393.40 231.02,394.60 231.09,395.26 231.16,394.31 231.23,395.72 231.30,396.47 231.37,393.84 231.43,396.95 231.50,394.79 231.57,396.89 231.64,395.56 231.71,395.83 231.78,396.17 231.85,397.95 231.92,396.05 231.99,396.08 232.06,397.00 232.13,396.29 232.19,395.35 232.26,397.08 232.33,396.22 232.40,397.64 232.47,396.24 232.54,396.05 232.61,394.34 232.68,395.91 232.75,396.42 232.82,395.53 232.89,397.88 232.96,395.93 233.02,397.52 233.09,397.63 233.16,396.00 233.23,396.85 233.30,395.82 233.37,398.51 233.44,396.86 233.51,397.64 233.58,397.40 233.65,398.98 233.72,396.24 233.78,396.94 233.85,398.09 233.92,398.43 233.99,397.97 234.06,395.78 234.13,397.21 234.20,397.43 234.27,396.62 234.34,397.06 234.41,396.83 234.48,396.32 234.55,396.69 234.61,396.13 234.68,398.09 234.75,396.84 234.82,397.20 234.89,396.71 234.96,396.80 235.03,397.32 235.10,396.99 235.17,395.67 235.24,397.05 235.31,397.65 235.37,395.80 235.44,395.35 235.51,396.47 235.58,396.00 235.65,396.84 235.72,396.13 235.79,394.76 235.86,394.95 235.93,395.48 236.00,395.78 236.07,396.98 236.14,394.98 236.20,394.72 236.27,394.02 236.34,392.96 236.41,394.43 236.48,393.74 236.55,395.62 236.62,393.24 236.69,393.43 236.76,392.82 236.83,393.35 236.90,393.43 236.96,392.30 237.03,394.25 237.10,392.85 237.17,392.29 237.24,393.97 237.31,394.20 237.38,392.53 237.45,392.70 237.52,392.11 237.59,391.95 237.66,393.20 237.72,392.01 237.79,391.13 237.86,392.46 237.93,392.28 238.00,393.00 238.07,391.01 238.14,389.81 238.21,392.95 238.28,390.79 238.35,390.57 238.42,391.92 238.49,391.66 238.55,392.25 238.62,391.93 238.69,390.95 238.76,390.43 238.83,390.91 238.90,390.15 238.97,390.75 239.04,392.07 239.11,389.48 239.18,389.73 239.25,391.57 239.31,389.14 239.38,390.42 239.45,390.76 239.52,389.02 239.59,393.37 239.66,392.52 239.73,390.28 239.80,391.25 239.87,391.98 239.94,389.61 240.01,390.66 240.08,392.45 240.14,391.91 240.21,390.49 240.28,389.63 240.35,393.43 240.42,391.29 240.49,391.99 240.56,393.42 240.63,391.96 240.70,393.46 240.77,392.51 240.84,390.48 240.90,391.67 240.97,391.51 241.04,391.80 241.11,392.15 241.18,391.65 241.25,393.87 241.32,393.19 241.39,392.10 241.46,393.78 241.53,393.61 241.60,392.10 241.67,391.90 241.73,394.13 241.80,394.46 241.87,393.19 241.94,393.62 242.01,394.67 242.08,393.53 242.15,393.69 242.22,394.27 242.29,391.55 242.36,393.22 242.43,393.87 242.49,393.77 242.56,391.95 242.63,393.91 242.70,395.81 242.77,394.87 242.84,395.21 242.91,395.94 242.98,395.21 243.05,395.30 243.12,395.69 243.19,396.20 243.26,394.96 243.32,397.45 243.39,395.10 243.46,395.98 243.53,395.77 243.60,398.48 243.67,394.47 243.74,397.93 243.81,397.11 243.88,395.64 243.95,396.93 244.02,396.76 244.08,398.62 244.15,396.85 244.22,396.22 244.29,395.77 244.36,396.75 244.43,396.26 244.50,396.04 244.57,397.17 244.64,397.25 244.71,394.52 244.78,397.35 244.85,395.25 244.91,396.42 244.98,395.00 245.05,397.13 245.12,395.95 245.19,396.13 245.26,396.69 245.33,396.13 245.40,397.20 245.47,396.49 245.54,396.79 245.61,395.59 245.67,396.43 245.74,397.71 245.81,396.64 245.88,396.33 245.95,397.10 246.02,394.79 246.09,395.68 246.16,395.18 246.23,396.75 246.30,396.32 246.37,394.83 246.44,397.24 246.50,395.33 246.57,395.54 246.64,396.06 246.71,395.37 246.78,396.47 246.85,395.06 246.92,396.43 246.99,396.39 247.06,393.56 247.13,395.60 247.20,396.94 247.26,393.67 247.33,395.35 247.40,398.04 247.47,394.38 247.54,393.26 247.61,393.72 247.68,392.20 247.75,393.97 247.82,393.10 247.89,394.62 247.96,393.29 248.03,391.76 248.09,392.69 248.16,392.91 248.23,394.98 248.30,393.21 248.37,394.02 248.44,391.77 248.51,393.20 248.58,391.94 248.65,393.23 248.72,390.13 248.79,393.16 248.85,391.70 248.92,389.01 248.99,391.39 249.06,392.40 249.13,390.76 249.20,390.27 249.27,390.30 249.34,393.14 249.41,390.78 249.48,393.12 249.55,388.87 249.62,390.68 249.68,391.16 249.75,389.91 249.82,390.04 249.89,391.71 249.96,388.74 250.03,390.63 250.10,392.16 250.17,388.83 250.24,388.66 250.31,388.92 250.38,389.63 250.44,391.11 250.51,389.19 250.58,388.22 250.65,389.30 250.72,388.49 250.79,390.97 250.86,389.11 250.93,389.21 251.00,391.77 251.07,391.94 251.14,391.02 251.21,390.22 251.27,389.87 251.34,390.63 251.41,390.51 251.48,390.61 251.55,390.46 251.62,390.00 251.69,390.16 251.76,390.80 251.83,390.55 251.90,391.37 251.97,390.14 252.03,391.59 252.10,389.42 252.17,391.26 252.24,391.04 252.31,392.23 252.38,391.89 252.45,391.45 252.52,391.71 252.59,392.49 252.66,393.16 252.73,392.00 252.80,391.99 252.86,391.68 252.93,391.05 253.00,392.82 253.07,394.71 253.14,392.86 253.21,394.78 253.28,394.30 253.35,391.96 253.42,392.56 253.49,393.96 253.56,394.06 253.62,393.59 253.69,395.47 253.76,393.20 253.83,394.19 253.90,391.97 253.97,395.16 254.04,393.06 254.11,394.96 254.18,393.24 254.25,395.46 254.32,393.73 254.38,395.07 254.45,395.57 254.52,394.93 254.59,394.34 254.66,394.50 254.73,393.32 254.80,394.20 254.87,397.97 254.94,395.64 255.01,397.41 255.08,395.74 255.15,394.72 255.21,396.87 255.28,396.75 255.35,395.38 255.42,395.88 255.49,393.91 255.56,395.30 255.63,395.10 255.70,393.82 255.77,396.27 255.84,395.75 255.91,396.83 255.97,395.50 256.04,394.68 256.11,394.33 256.18,395.85 256.25,396.58 256.32,396.64 256.39,397.32 256.46,395.68 256.53,394.34 256.60,398.37 256.67,398.16 256.74,394.28 256.80,397.53 256.87,395.43 256.94,397.14 257.01,394.91 257.08,394.90 257.15,395.54 257.22,394.81 257.29,395.63 257.36,395.05 257.43,393.65 257.50,394.40 257.56,396.28 257.63,396.40 257.70,395.74 257.77,395.68 257.84,395.31 257.91,395.99 257.98,394.57 258.05,395.18 258.12,394.76 258.19,395.08 258.26,394.35 258.33,396.25 258.39,393.15 258.46,394.41 258.53,394.22 258.60,393.95 258.67,393.35 258.74,393.63 258.81,394.09 258.88,394.45 258.95,395.95 259.02,393.81 259.09,394.28 259.15,394.17 259.22,391.09 259.29,395.65 259.36,393.44 259.43,392.05 259.50,392.21 259.57,391.79 259.64,394.42 259.71,393.96 259.78,392.11 259.85,392.99 259.92,390.67 259.98,392.17 260.05,392.09 260.12,391.70 260.19,392.36 260.26,391.81 260.33,392.56 260.40,391.74 260.47,392.12 260.54,391.18 260.61,392.91 260.68,392.88 260.74,390.62 260.81,390.77 260.88,391.97 260.95,391.06 261.02,391.86 261.09,388.35 261.16,392.24 261.23,388.52 261.30,391.24 261.37,389.78 261.44,390.45 261.51,390.50 261.57,388.97 261.64,389.03 261.71,390.19 261.78,390.81 261.85,387.45 261.92,388.14 261.99,389.49 262.06,389.93 262.13,389.23 262.20,389.43 262.27,388.17 262.33,390.54 262.40,389.42 262.47,390.30 262.54,387.97 262.61,387.41 262.68,389.51 262.75,388.81 262.82,387.86 262.89,389.77 262.96,390.49 263.03,388.31 263.10,388.93 263.16,389.75 263.23,387.93 263.30,389.33 263.37,391.62 263.44,389.29 263.51,389.79 263.58,387.68 263.65,389.85 263.72,390.13 263.79,389.47 263.86,389.75 263.92,391.67 263.99,390.03 264.06,390.61 264.13,388.75 264.20,387.72 264.27,391.74 264.34,391.66 264.41,391.61 264.48,391.50 264.55,391.63 264.62,390.89 264.69,389.83 264.75,392.61 264.82,392.97 264.89,393.42 264.96,390.21 265.03,390.07 265.10,393.39 265.17,393.60 265.24,391.73 265.31,390.75 265.38,390.95 265.45,391.98 265.51,391.53 265.58,392.04 265.65,393.14 265.72,390.47 265.79,392.72 265.86,394.08 265.93,393.46 266.00,394.77 266.07,393.11 266.14,391.99 266.21,394.75 266.28,392.14 266.34,391.15 266.41,393.17 266.48,395.00 266.55,394.74 266.62,394.24 266.69,395.39 266.76,395.43 266.83,394.39 266.90,394.37 266.97,393.56 267.04,395.67 267.10,392.25 267.17,393.23 267.24,393.49 267.31,395.29 267.38,392.63 267.45,395.04 267.52,392.64 267.59,393.53 267.66,395.81 267.73,395.34 267.80,392.73 267.87,393.75 267.93,395.10 268.00,394.71 268.07,394.74 268.14,395.87 268.21,395.23 268.28,395.77 268.35,395.52 268.42,394.51 268.49,396.14 268.56,394.22 268.63,394.93 268.69,394.19 268.76,394.04 268.83,393.63 268.90,394.33 268.97,394.24 269.04,395.25 269.11,394.39 269.18,396.06 269.25,395.30 269.32,394.15 269.39,395.06 269.46,394.48 269.52,396.18 269.59,393.38 269.66,395.59 269.73,394.45 269.80,394.91 269.87,393.78 269.94,395.26 270.01,395.93 270.08,396.93 270.15,395.06 270.22,396.03 270.28,394.00 270.35,392.90 270.42,397.07 270.49,395.94 270.56,394.04 270.63,392.91 270.70,393.91 270.77,393.82 270.84,393.54 270.91,393.39 270.98,392.08 271.04,393.19 271.11,395.24 271.18,394.27 271.25,393.39 271.32,394.48 271.39,393.75 271.46,393.96 271.53,394.07 271.60,392.36 271.67,393.51 271.74,394.22 271.81,393.68 271.87,392.70 271.94,390.18 272.01,392.22 272.08,390.69 272.15,391.73 272.22,394.69 272.29,391.63 272.36,392.95 272.43,393.42 272.50,392.99 272.57,389.53 272.63,393.34 272.70,392.11 272.77,389.92 272.84,390.38 272.91,393.04 272.98,391.06 273.05,391.43 273.12,390.94 273.19,389.73 273.26,391.17 273.33,390.77 273.40,388.58 273.46,392.35 273.53,390.53 273.60,389.44 273.67,391.36 273.74,390.55 273.81,391.26 273.88,389.45 273.95,390.28 274.02,388.55 274.09,388.20 274.16,389.27 274.22,389.70 274.29,388.88 274.36,389.05 274.43,390.49 274.50,387.75 274.57,388.69 274.64,387.98 274.71,390.47 274.78,387.79 274.85,386.31 274.92,388.04 274.99,390.44 275.05,388.67 275.12,388.77 275.19,388.43 275.26,388.95 275.33,388.08 275.40,389.22 275.47,388.40 275.54,389.49 275.61,388.57 275.68,387.53 275.75,389.31 275.81,387.96 275.88,389.82 275.95,389.25 276.02,389.12 276.09,387.40 276.16,389.83 276.23,387.52 276.30,390.75 276.37,389.25 276.44,388.03 276.51,388.35 276.58,390.44 276.64,390.75 276.71,388.33 276.78,390.94 276.85,388.82 276.92,390.21 276.99,389.68 277.06,386.99 277.13,387.98 277.20,388.91 277.27,391.64 277.34,389.70 277.40,390.11 277.47,390.39 277.54,388.77 277.61,392.51 277.68,390.17 277.75,390.50 277.82,391.65 277.89,388.78 277.96,392.46 278.03,391.01 278.10,391.05 278.17,393.87 278.23,393.06 278.30,392.61 278.37,390.61 278.44,390.52 278.51,391.04 278.58,391.56 278.65,394.59 278.72,391.79 278.79,392.76 278.86,390.83 278.93,390.72 278.99,389.74 279.06,391.67 279.13,391.63 279.20,393.94 279.27,392.69 279.34,394.36 279.41,391.88 279.48,394.48 279.55,393.38 279.62,394.19 279.69,393.84 279.76,392.79 279.82,394.10 279.89,393.22 279.96,394.76 280.03,391.92 280.10,394.45 280.17,392.50 280.24,391.20 280.31,396.78 280.38,395.09 280.45,394.18 280.52,392.56 280.58,394.60 280.65,393.59 280.72,394.98 280.79,393.44 280.86,395.63 280.93,393.16 281.00,397.84 281.07,396.53 281.14,392.03 281.21,394.05 281.28,395.37 281.35,391.61 281.41,393.02 281.48,392.93 281.55,394.83 281.62,393.56 281.69,393.70 281.76,396.35 281.83,393.59 281.90,394.54 281.97,392.74 282.04,392.71 282.11,395.09 282.17,395.04 282.24,394.05 282.31,393.47 282.38,394.77 282.45,394.39 282.52,393.48 282.59,393.70 282.66,392.76 282.73,393.88 282.80,395.24 282.87,396.29 282.94,393.09 283.00,394.47 283.07,394.45 283.14,394.34 283.21,395.89 283.28,394.38 283.35,397.07 283.42,394.31 283.49,394.86 283.56,391.43 283.63,393.09 283.70,393.85 283.76,393.32 283.83,392.55 283.90,394.33 283.97,393.61 284.04,393.69 284.11,390.08 284.18,393.00 284.25,395.46 284.32,391.94 284.39,389.62 284.46,393.95 284.53,388.33 284.59,392.65 284.66,391.23 284.73,393.09 284.80,392.62 284.87,393.73 284.94,393.41 285.01,394.66 285.08,390.44 285.15,393.21 285.22,391.20 285.29,391.14 285.35,392.26 285.42,391.28 285.49,391.34 285.56,391.74 285.63,390.94 285.70,390.83 285.77,392.06 285.84,392.30 285.91,391.62 285.98,390.29 286.05,388.58 286.11,388.36 286.18,389.71 286.25,388.80 286.32,389.73 286.39,388.38 286.46,389.51 286.53,389.07 286.60,389.82 286.67,389.37 286.74,386.85 286.81,390.68 286.88,389.06 286.94,389.72 287.01,387.65 287.08,386.47 287.15,389.09 287.22,392.13 287.29,387.74 287.36,387.66 287.43,390.51 287.50,388.60 287.57,388.31 287.64,391.10 287.70,387.23 287.77,387.47 287.84,387.66 287.91,389.27 287.98,388.77 288.05,388.63 288.12,387.16 288.19,388.99 288.26,385.82 288.33,387.18 288.40,390.43 288.47,385.45 288.53,387.38 288.60,388.28 288.67,387.43 288.74,389.90 288.81,387.30 288.88,390.71 288.95,388.86 289.02,385.80 289.09,385.93 289.16,388.01 289.23,388.83 289.29,386.40 289.36,387.69 289.43,387.38 289.50,386.87 289.57,389.10 289.64,386.72 289.71,390.52 289.78,385.93 289.85,389.90 289.92,388.73 289.99,388.83 290.06,387.07 290.12,387.11 290.19,387.67 290.26,387.49 290.33,387.65 290.40,388.42 290.47,390.88 290.54,391.47 290.61,391.53 290.68,388.67 290.75,388.98 290.82,388.95 290.88,388.55 290.95,389.23 291.02,390.31 291.09,391.06 291.16,391.66 291.23,387.67 291.30,388.16 291.37,391.21 291.44,389.89 291.51,389.04 291.58,387.62 291.65,390.59 291.71,389.66 291.78,388.47 291.85,392.36 291.92,391.13 291.99,390.31 292.06,391.30 292.13,387.66 292.20,389.39 292.27,390.36 292.34,391.97 292.41,389.65 292.47,390.05 292.54,391.65 292.61,391.63 292.68,393.07 292.75,391.32 292.82,390.16 292.89,390.06 292.96,390.69 293.03,390.45 293.10,392.39 293.17,392.30 293.24,390.16 293.30,391.22 293.37,392.94 293.44,391.29 293.51,390.92 293.58,391.14 293.65,391.99 293.72,392.87 293.79,391.71 293.86,390.05 293.93,392.15 294.00,393.27 294.06,391.98 294.13,394.11 294.20,392.21 294.27,392.94 294.34,391.31 294.41,392.48 294.48,391.25 294.55,389.61 294.62,392.98 294.69,393.82 294.76,392.12 294.83,392.87 294.89,392.57 294.96,393.58 295.03,392.05 295.10,392.70 295.17,395.68 295.24,393.12 295.31,392.36 295.38,391.24 295.45,393.57 295.52,393.87 295.59,391.27 295.65,393.60 295.72,392.65 295.79,392.15 295.86,391.79 295.93,392.75 296.00,394.24 296.07,391.39 296.14,393.31 296.21,393.41 296.28,390.03 296.35,391.52 296.42,394.09 296.48,393.30 296.55,392.96 296.62,393.61 296.69,395.15 296.76,391.48 296.83,391.49 296.90,392.17 296.97,393.00 297.04,392.14 297.11,391.53 297.18,393.74 297.24,392.75 297.31,393.00 297.38,391.27 297.45,391.80 297.52,393.84 297.59,392.87 297.66,389.62 297.73,393.23 297.80,391.66 297.87,392.64 297.94,390.05 298.01,391.74 298.07,392.17 298.14,393.09 298.21,391.76 298.28,390.24 298.35,390.37 298.42,392.97 298.49,389.00 298.56,391.35 298.63,392.34 298.70,390.66 298.77,391.58 298.83,391.43 298.90,391.40 298.97,390.57 299.04,391.03 299.11,392.56 299.18,389.45 299.25,390.75 299.32,388.34 299.39,389.12 299.46,388.90 299.53,389.37 299.60,387.75 299.66,389.82 299.73,390.61 299.80,388.68 299.87,392.70 299.94,389.41 300.01,388.51 300.08,389.24 300.15,386.86 300.22,387.50 300.29,388.18 300.36,388.76 300.42,386.62 300.49,388.91 300.56,388.44 300.63,386.75 300.70,386.85 300.77,384.79 300.84,387.74 300.91,389.89 300.98,386.34 301.05,385.43 301.12,387.26 301.19,384.82 301.25,384.43 301.32,387.65 301.39,387.31 301.46,388.27 301.53,385.75 301.60,385.43 301.67,385.50 301.74,387.93 301.81,387.21 301.88,388.05 301.95,388.23 302.01,387.80 302.08,388.06 302.15,386.10 302.22,385.22 302.29,384.89 302.36,385.72 302.43,386.56 302.50,385.62 302.57,384.79 302.64,385.94 302.71,385.43 302.77,385.89 302.84,386.16 302.91,385.38 302.98,386.93 303.05,383.96 303.12,387.51 303.19,384.74 303.26,387.23 303.33,383.30 303.40,384.18 303.47,386.48 303.54,385.99 303.60,386.93 303.67,385.48 303.74,384.85 303.81,381.94 303.88,387.32 303.95,383.78 304.02,386.30 304.09,385.16 304.16,384.36 304.23,384.86 304.30,385.06 304.36,385.95 304.43,385.73 304.50,385.56 304.57,384.17 304.64,387.88 304.71,386.59 304.78,387.68 304.85,387.35 304.92,387.18 304.99,384.63 305.06,383.25 305.13,384.40 305.19,387.95 305.26,386.29 305.33,388.02 305.40,385.91 305.47,384.84 305.54,385.85 305.61,385.54 305.68,387.01 305.75,389.59 305.82,389.68 305.89,387.16 305.95,386.31 306.02,385.42 306.09,387.73 306.16,387.22 306.23,387.05 306.30,386.01 306.37,387.64 306.44,389.13 306.51,386.20 306.58,387.20 306.65,387.32 306.72,389.68 306.78,388.00 306.85,390.44 306.92,390.91 306.99,388.53 307.06,388.87 307.13,387.55 307.20,386.41 307.27,388.52 307.34,386.05 307.41,389.41 307.48,387.60 307.54,390.47 307.61,388.59 307.68,389.26 307.75,389.17 307.82,388.11 307.89,391.60 307.96,388.87 308.03,390.20 308.10,388.96 308.17,388.62 308.24,389.72 308.31,389.76 308.37,390.88 308.44,388.55 308.51,390.28 308.58,388.75 308.65,391.38 308.72,387.52 308.79,390.87 308.86,387.86 308.93,390.11 309.00,388.74 309.07,389.72 309.13,388.58 309.20,389.53 309.27,387.77 309.34,388.61 309.41,388.60 309.48,387.22 309.55,390.53 309.62,387.73 309.69,389.45 309.76,391.61 309.83,388.87 309.90,389.81 309.96,387.15 310.03,390.19 310.10,389.42 310.17,389.14 310.24,392.12 310.31,388.73 310.38,390.81 310.45,387.43 310.52,387.05 310.59,389.38 310.66,391.57 310.72,389.07 310.79,389.05 310.86,388.26 310.93,389.67 311.00,390.90 311.07,389.40 311.14,390.47 311.21,386.64 311.28,390.10 311.35,389.98 311.42,389.10 311.49,390.74 311.55,389.58 311.62,389.10 311.69,389.55 311.76,389.17 311.83,387.01 311.90,388.10 311.97,390.54 312.04,389.21 312.11,387.49 312.18,389.40 312.25,388.31 312.31,388.40 312.38,387.54 312.45,388.47 312.52,388.35 312.59,389.29 312.66,387.49 312.73,389.23 312.80,385.39 312.87,387.79 312.94,387.99 313.01,386.47 313.08,387.62 313.14,387.29 313.21,387.39 313.28,388.25 313.35,388.44 313.42,388.03 313.49,385.33 313.56,387.73 313.63,387.31 313.70,387.27 313.77,385.54 313.84,383.61 313.90,387.63 313.97,385.43 314.04,385.93 314.11,386.43 314.18,385.17 314.25,387.58 314.32,384.48 314.39,385.24 314.46,386.86 314.53,383.06 314.60,384.00 314.67,383.45 314.73,387.06 314.80,385.27 314.87,385.51 314.94,383.76 315.01,382.61 315.08,387.15 315.15,384.29 315.22,384.39 315.29,382.68 315.36,384.05 315.43,385.70 315.49,384.06 315.56,385.16 315.63,384.68 315.70,383.41 315.77,384.06 315.84,382.87 315.91,385.34 315.98,379.76 316.05,381.18 316.12,381.86 316.19,384.65 316.26,385.80 316.32,383.86 316.39,382.87 316.46,379.26 316.53,380.51 316.60,383.06 316.67,380.50 316.74,380.41 316.81,382.08 316.88,380.30 316.95,381.52 317.02,382.88 317.08,383.58 317.15,382.02 317.22,380.37 317.29,383.71 317.36,384.05 317.43,380.90 317.50,385.57 317.57,379.01 317.64,382.25 317.71,380.54 317.78,378.89 317.85,383.65 317.91,383.06 317.98,378.30 318.05,381.94 318.12,381.71 318.19,381.20 318.26,380.00 318.33,379.62 318.40,381.38 318.47,382.04 318.54,381.62 318.61,381.14 318.67,379.71 318.74,381.43 318.81,379.01 318.88,382.92 318.95,380.93 319.02,379.19 319.09,379.90 319.16,381.32 319.23,383.13 319.30,382.92 319.37,382.16 319.43,381.53 319.50,382.39 319.57,384.19 319.64,383.20 319.71,381.43 319.78,381.03 319.85,384.33 319.92,382.89 319.99,384.86 320.06,383.31 320.13,377.40 320.20,382.53 320.26,383.19 320.33,383.61 320.40,384.59 320.47,385.61 320.54,383.03 320.61,383.45 320.68,380.97 320.75,385.59 320.82,382.64 320.89,381.40 320.96,386.29 321.02,382.55 321.09,385.95 321.16,382.91 321.23,381.60 321.30,383.84 321.37,383.50 321.44,385.01 321.51,383.66 321.58,382.50 321.65,384.51 321.72,384.52 321.79,383.83 321.85,383.27 321.92,386.96 321.99,384.55 322.06,385.72 322.13,384.06 322.20,383.35 322.27,384.49 322.34,383.12 322.41,386.55 322.48,385.77 322.55,386.69 322.61,385.22 322.68,385.23 322.75,385.73 322.82,387.29 322.89,385.69 322.96,386.28 323.03,384.81 323.10,386.16 323.17,384.10 323.24,385.53 323.31,388.67 323.38,386.24 323.44,388.14 323.51,384.65 323.58,384.01 323.65,386.21 323.72,385.56 323.79,388.40 323.86,389.62 323.93,387.16 324.00,386.75 324.07,388.64 324.14,386.30 324.20,386.00 324.27,385.54 324.34,384.23 324.41,385.35 324.48,387.11 324.55,386.43 324.62,385.71 324.69,388.17 324.76,384.66 324.83,385.31 324.90,386.99 324.97,387.61 325.03,381.02 325.10,385.43 325.17,385.28 325.24,384.01 325.31,385.22 325.38,386.37 325.45,385.63 325.52,388.03 325.59,385.60 325.66,388.96 325.73,386.03 325.79,385.82 325.86,388.96 325.93,383.77 326.00,388.34 326.07,385.05 326.14,387.39 326.21,386.13 326.28,387.56 326.35,382.84 326.42,385.01 326.49,383.83 326.56,385.34 326.62,385.45 326.69,386.25 326.76,386.80 326.83,385.51 326.90,386.16 326.97,386.59 327.04,388.40 327.11,386.77 327.18,385.37 327.25,386.94 327.32,385.68 327.38,386.37 327.45,387.67 327.52,387.43 327.59,387.14 327.66,386.42 327.73,386.32 327.80,384.20 327.87,387.46 327.94,388.85 328.01,384.68 328.08,386.34 328.15,385.77 328.21,381.69 328.28,383.26 328.35,384.51 328.42,383.90 328.49,385.07 328.56,383.74 328.63,386.03 328.70,386.11 328.77,385.66 328.84,382.49 328.91,382.44 328.97,385.62 329.04,382.87 329.11,384.78 329.18,382.82 329.25,384.84 329.32,382.82 329.39,384.35 329.46,384.52 329.53,384.03 329.60,383.66 329.67,384.69 329.74,385.78 329.80,381.04 329.87,384.11 329.94,386.18 330.01,386.77 330.08,387.48 330.15,384.05 330.22,380.95 330.29,385.40 330.36,383.31 330.43,385.52 330.50,380.94 330.56,381.97 330.63,381.93 330.70,380.26 330.77,379.71 330.84,380.55 330.91,382.91 330.98,383.95 331.05,383.43 331.12,384.42 331.19,378.89 331.26,381.84 331.33,381.26 331.39,381.07 331.46,378.19 331.53,382.05 331.60,379.29 331.67,380.55 331.74,381.17 331.81,383.79 331.88,379.36 331.95,381.83 332.02,381.32 332.09,380.19 332.15,380.32 332.22,378.67 332.29,381.36 332.36,380.01 332.43,379.77 332.50,380.09 332.57,379.03 332.64,380.41 332.71,378.11 332.78,381.00 332.85,382.08 332.92,379.87 332.98,377.95 333.05,380.52 333.12,380.65 333.19,380.18 333.26,379.36 333.33,379.86 333.40,379.08 333.47,382.19 333.54,377.20 333.61,378.59 333.68,380.81 333.74,377.34 333.81,378.76 333.88,377.17 333.95,381.26 334.02,376.87 334.09,379.36 334.16,382.62 334.23,378.27 334.30,379.91 334.37,381.02 334.44,379.80 334.50,382.49 334.57,378.59 334.64,379.85 334.71,379.95 334.78,377.36 334.85,379.53 334.92,380.64 334.99,381.12 335.06,379.77 335.13,378.05 335.20,380.65 335.27,381.40 335.33,378.39 335.40,379.78 335.47,379.95 335.54,376.71 335.61,381.90 335.68,379.75 335.75,382.88 335.82,380.64 335.89,379.31 335.96,378.53 336.03,382.33 336.09,379.10 336.16,379.24 336.23,380.72 336.30,376.75 336.37,380.66 336.44,382.11 336.51,380.13 336.58,383.78 336.65,378.50 336.72,379.47 336.79,381.71 336.86,380.20 336.92,380.39 336.99,378.28 337.06,382.34 337.13,383.48 337.20,384.72 337.27,382.07 337.34,384.14 337.41,382.03 337.48,381.19 337.55,382.61 337.62,383.47 337.68,380.20 337.75,382.46 337.82,381.85 337.89,380.80 337.96,384.42 338.03,383.89 338.10,378.59 338.17,382.84 338.24,384.30 338.31,383.14 338.38,383.71 338.45,384.81 338.51,383.59 338.58,383.05 338.65,383.11 338.72,382.30 338.79,385.95 338.86,385.64 338.93,382.10 339.00,384.10 339.07,381.54 339.14,383.04 339.21,385.80 339.27,382.79 339.34,385.29 339.41,383.33 339.48,381.85 339.55,380.50 339.62,384.00 339.69,382.83 339.76,383.50 339.83,382.77 339.90,388.10 339.97,384.71 340.04,383.68 340.10,383.43 340.17,385.40 340.24,382.93 340.31,382.52 340.38,384.18 340.45,384.68 340.52,384.91 340.59,384.14 340.66,382.52 340.73,382.03 340.80,385.16 340.86,385.91 340.93,385.70 341.00,382.90 341.07,384.12 341.14,384.00 341.21,383.72 341.28,383.89 341.35,384.69 341.42,386.14 341.49,385.47 341.56,384.30 341.63,383.87 341.69,385.07 341.76,385.14 341.83,382.30 341.90,385.21 341.97,384.11 342.04,384.96 342.11,385.81 342.18,386.84 342.25,385.28 342.32,385.72 342.39,383.05 342.45,386.21 342.52,385.03 342.59,383.32 342.66,384.53 342.73,383.55 342.80,382.99 342.87,386.93 342.94,384.93 343.01,385.78 343.08,382.09 343.15,384.40 343.22,383.39 343.28,381.46 343.35,384.69 343.42,383.98 343.49,383.42 343.56,384.45 343.63,382.00 343.70,382.66 343.77,382.33 343.84,383.80 343.91,384.38 343.98,384.35 344.04,384.32 344.11,386.30 344.18,383.06 344.25,382.30 344.32,383.55 344.39,384.27 344.46,383.36 344.53,383.00 344.60,382.78 344.67,380.38 344.74,384.53 344.81,382.52 344.87,381.94 344.94,382.84 345.01,383.27 345.08,384.45 345.15,383.69 345.22,381.55 345.29,380.28 345.36,383.55 345.43,381.68 345.50,381.52 345.57,380.66 345.63,381.79 345.70,381.39 345.77,380.58 345.84,383.76 345.91,381.75 345.98,384.53 346.05,384.77 346.12,382.85 346.19,383.90 346.26,380.55 346.33,379.69 346.40,381.65 346.46,381.29 346.53,381.34 346.60,381.29 346.67,380.56 346.74,380.12 346.81,381.32 346.88,381.73 346.95,381.21 347.02,379.02 347.09,380.86 347.16,377.79 347.22,380.38 347.29,377.73 347.36,381.69 347.43,380.80 347.50,378.85 347.57,378.73 347.64,379.66 347.71,376.08 347.78,379.11 347.85,378.68 347.92,379.95 347.99,376.32 348.05,377.50 348.12,378.12 348.19,381.29 348.26,378.03 348.33,379.26 348.40,377.81 348.47,376.90 348.54,379.46 348.61,377.85 348.68,376.73 348.75,377.79 348.81,378.49 348.88,379.58 348.95,378.89 349.02,379.78 349.09,376.13 349.16,377.47 349.23,379.51 349.30,377.53 349.37,379.51 349.44,382.63 349.51,375.44 349.58,375.45 349.64,379.60 349.71,378.36 349.78,376.85 349.85,377.74 349.92,378.46 349.99,377.88 350.06,377.41 350.13,377.88 350.20,376.64 350.27,377.32 350.34,378.14 350.40,376.87 350.47,379.54 350.54,374.58 350.61,379.64 350.68,376.99 350.75,376.31 350.82,376.19 350.89,376.43 350.96,374.84 351.03,378.65 351.10,376.97 351.16,376.63 351.23,377.67 351.30,377.84 351.37,374.86 351.44,378.06 351.51,377.70 351.58,377.40 351.65,377.33 351.72,376.76 351.79,377.37 351.86,376.48 351.93,376.89 351.99,376.37 352.06,374.99 352.13,378.56 352.20,374.62 352.27,378.01 352.34,376.28 352.41,377.13 352.48,377.91 352.55,380.61 352.62,374.96 352.69,378.79 352.75,378.90 352.82,376.00 352.89,377.63 352.96,374.78 353.03,375.19 353.10,376.80 353.17,377.59 353.24,376.84 353.31,380.22 353.38,377.91 353.45,378.02 353.52,379.07 353.58,377.98 353.65,380.79 353.72,377.09 353.79,376.54 353.86,380.74 353.93,378.51 354.00,376.34 354.07,378.22 354.14,380.60 354.21,380.61 354.28,377.74 354.34,376.25 354.41,380.99 354.48,379.27 354.55,380.64 354.62,379.93 354.69,379.05 354.76,379.69 354.83,380.79 354.90,376.40 354.97,380.09 355.04,380.20 355.11,378.21 355.17,380.03 355.24,380.45 355.31,378.68 355.38,381.91 355.45,379.13 355.52,378.75 355.59,379.40 355.66,380.81 355.73,380.60 355.80,383.40 355.87,380.93 355.93,380.32 356.00,379.45 356.07,380.67 356.14,381.58 356.21,382.35 356.28,381.14 356.35,380.90 356.42,379.23 356.49,381.21 356.56,382.07 356.63,381.49 356.70,382.14 356.76,381.78 356.83,384.98 356.90,384.04 356.97,383.44 357.04,380.82 357.11,381.73 357.18,381.41 357.25,379.81 357.32,383.37 357.39,379.91 357.46,381.15 357.52,382.93 357.59,379.43 357.66,384.12 357.73,383.66 357.80,382.21 357.87,381.25 357.94,382.22 358.01,385.35 358.08,382.42 358.15,382.09 358.22,377.88 358.29,379.77 358.35,381.78 358.42,383.73 358.49,381.44 358.56,383.86 358.63,381.67 358.70,381.40 358.77,382.63 358.84,381.59 358.91,382.51 358.98,382.90 359.05,379.51 359.11,381.03 359.18,382.45 359.25,383.18 359.32,381.66 359.39,381.02 359.46,380.55 359.53,379.54 359.60,381.16 359.67,383.69 359.74,378.61 359.81,380.00 359.88,380.51 359.94,379.68 360.01,384.22 360.08,382.40 360.15,382.61 360.22,379.85 360.29,383.65 360.36,382.24 360.43,379.25 360.50,380.63 360.57,382.27 360.64,378.59 360.70,383.73 360.77,380.83 360.84,381.90 360.91,380.67 360.98,381.90 361.05,382.77 361.12,381.04 361.19,383.47 361.26,380.44 361.33,381.77 361.40,379.72 361.47,381.89 361.53,382.20 361.60,380.42 361.67,379.02 361.74,384.30 361.81,380.71 361.88,379.83 361.95,383.08 362.02,382.15 362.09,379.62 362.16,381.94 362.23,381.57 362.29,377.69 362.36,381.92 362.43,381.72 362.50,384.00 362.57,381.95 362.64,382.10 362.71,377.25 362.78,377.98 362.85,381.92 362.92,376.61 362.99,378.46 363.06,379.92 363.12,378.24 363.19,378.84 363.26,380.62 363.33,382.14 363.40,380.68 363.47,379.12 363.54,379.60 363.61,380.14 363.68,377.26 363.75,380.48 363.82,377.21 363.88,379.35 363.95,378.30 364.02,380.20 364.09,378.30 364.16,379.46 364.23,380.93 364.30,378.03 364.37,377.99 364.44,376.46 364.51,377.25 364.58,379.27 364.65,378.52 364.71,381.48 364.78,379.16 364.85,375.13 364.92,374.68 364.99,375.81 365.06,376.47 365.13,375.91 365.20,375.98 365.27,379.51 365.34,378.02 365.41,374.57 365.47,374.49 365.54,375.93 365.61,376.75 365.68,376.78 365.75,376.96 365.82,377.50 365.89,379.05 365.96,375.58 366.03,376.48 366.10,376.01 366.17,372.78 366.24,374.54 366.30,376.59 366.37,374.41 366.44,377.76 366.51,373.50 366.58,374.73 366.65,375.41 366.72,374.09 366.79,372.58 366.86,375.67 366.93,376.47 367.00,371.32 367.06,374.72 367.13,372.23 367.20,375.75 367.27,373.97 367.34,375.61 367.41,373.47 367.48,374.92 367.55,375.53 367.62,371.84 367.69,373.80 367.76,377.68 367.82,374.69 367.89,375.79 367.96,376.26 368.03,375.19 368.10,375.00 368.17,374.14 368.24,375.49 368.31,377.25 368.38,375.05 368.45,372.70 368.52,376.41 368.59,373.12 368.65,373.38 368.72,374.89 368.79,373.64 368.86,375.40 368.93,374.83 369.00,375.87 369.07,373.41 369.14,371.92 369.21,375.34 369.28,372.25 369.35,377.80 369.41,375.75 369.48,375.98 369.55,371.46 369.62,375.34 369.69,373.09 369.76,377.83 369.83,374.26 369.90,373.54 369.97,374.58 370.04,379.10 370.11,374.31 370.18,373.29 370.24,372.48 370.31,374.07 370.38,377.60 370.45,375.18 370.52,373.37 370.59,376.30 370.66,374.04 370.73,375.84 370.80,374.94 370.87,373.88 370.94,376.40 371.00,370.47 371.07,375.07 371.14,374.82 371.21,376.70 371.28,375.41 371.35,376.03 371.42,378.09 371.49,378.28 371.56,375.29 371.63,375.99 371.70,380.33 371.77,379.59 371.83,376.57 371.90,376.23 371.97,375.16 372.04,378.34 372.11,375.33 372.18,376.92 372.25,377.32 372.32,376.78 372.39,374.95 372.46,375.74 372.53,375.25 372.59,377.98 372.66,377.37 372.73,378.93 372.80,377.97 372.87,377.77 372.94,377.96 373.01,376.04 373.08,376.59 373.15,376.09 373.22,377.23 373.29,375.70 373.36,377.38 373.42,376.01 373.49,376.86 373.56,376.53 373.63,377.95 373.70,379.99 373.77,380.41 373.84,374.70 373.91,377.42 373.98,377.38 374.05,378.48 374.12,379.03 374.18,373.43 374.25,380.26 374.32,378.52 374.39,378.55 374.46,380.43 374.53,380.72 374.60,379.80 374.67,379.24 374.74,379.52 374.81,377.36 374.88,380.78 374.95,378.13 375.01,376.36 375.08,377.38 375.15,380.87 375.22,383.99 375.29,377.56 375.36,378.18 375.43,380.06 375.50,376.91 375.57,379.80 375.64,378.96 375.71,380.93 375.77,378.64 375.84,379.94 375.91,380.08 375.98,377.40 376.05,378.89 376.12,381.82 376.19,378.10 376.26,377.87 376.33,380.72 376.40,379.98 376.47,379.23 376.54,379.75 376.60,379.12 376.67,378.22 376.74,380.18 376.81,375.78 376.88,380.55 376.95,380.25 377.02,375.96 377.09,375.25 377.16,379.26 377.23,379.64 377.30,381.14 377.36,377.35 377.43,379.00 377.50,380.73 377.57,378.58 377.64,376.92 377.71,378.08 377.78,375.46 377.85,377.25 377.92,378.47 377.99,379.26 378.06,378.25 378.13,377.09 378.19,377.69 378.26,377.34 378.33,378.75 378.40,377.80 378.47,377.01 378.54,379.36 378.61,381.28 378.68,376.07 378.75,378.01 378.82,379.74 378.89,378.56 378.95,379.35 379.02,381.83 379.09,379.19 379.16,381.29 379.23,378.46 379.30,378.96 379.37,376.78 379.44,378.90 379.51,378.01 379.58,379.13 379.65,379.22 379.72,380.93 379.78,376.77 379.85,378.14 379.92,379.39 379.99,377.97 380.06,378.99 380.13,379.47 380.20,377.74 380.27,376.02 380.34,378.52 380.41,380.45 380.48,378.99 380.54,374.77 380.61,379.21 380.68,375.69 380.75,378.09 380.82,376.33 380.89,377.72 380.96,380.19 381.03,378.10 381.10,373.67 381.17,377.47 381.24,376.19 381.31,377.67 381.37,377.24 381.44,376.37 381.51,376.03 381.58,372.93 381.65,376.71 381.72,376.91 381.79,377.66 381.86,378.70 381.93,379.13 382.00,375.11 382.07,379.39 382.13,373.64 382.20,374.50 382.27,376.41 382.34,377.81 382.41,375.67 382.48,375.59 382.55,373.58 382.62,376.73 382.69,376.00 382.76,375.35 382.83,375.65 382.89,376.16 382.96,377.96 383.03,377.73 383.10,375.97 383.17,375.09 383.24,372.87 383.31,370.50 383.38,371.44 383.45,373.64 383.52,370.97 383.59,374.35 383.66,374.98 383.72,369.94 383.79,375.74 383.86,374.51 383.93,374.16 384.00,371.08 384.07,374.57 384.14,372.09 384.21,374.07 384.28,375.41 384.35,372.79 384.42,372.82 384.48,375.05 384.55,374.47 384.62,374.26 384.69,371.12 384.76,371.92 384.83,372.24 384.90,371.73 384.97,373.34 385.04,371.61 385.11,373.43 385.18,374.64 385.25,373.47 385.31,371.82 385.38,371.97 385.45,370.22 385.52,374.96 385.59,372.34 385.66,371.21 385.73,373.53 385.80,371.36 385.87,372.46 385.94,373.68 386.01,369.70 386.07,374.05 386.14,369.83 386.21,372.27 386.28,373.15 386.35,373.02 386.42,372.73 386.49,372.90 386.56,370.91 386.63,374.64 386.70,369.16 386.77,369.85 386.84,368.87 386.90,373.01 386.97,375.34 387.04,372.35 387.11,371.54 387.18,370.71 387.25,372.15 387.32,371.38 387.39,370.97 387.46,373.95 387.53,368.06 387.60,373.21 387.66,370.78 387.73,369.36 387.80,372.64 387.87,371.27 387.94,368.42 388.01,371.80 388.08,369.48 388.15,370.83 388.22,370.96 388.29,370.12 388.36,371.82 388.43,371.81 388.49,369.77 388.56,371.04 388.63,370.65 388.70,373.67 388.77,371.57 388.84,369.50 388.91,370.09 388.98,371.11 389.05,372.67 389.12,372.88 389.19,371.07 389.25,369.38 389.32,371.86 389.39,369.68 389.46,372.56 389.53,369.96 389.60,373.90 389.67,371.86 389.74,374.13 389.81,371.13 389.88,371.34 389.95,374.09 390.02,373.79 390.08,373.31 390.15,375.22 390.22,374.29 390.29,374.24 390.36,371.39 390.43,370.39 390.50,373.69 390.57,373.48 390.64,372.66 390.71,374.03 390.78,373.66 390.84,371.75 390.91,372.89 390.98,373.52 391.05,374.45 391.12,370.90 391.19,374.66 391.26,373.43 391.33,375.54 391.40,374.83 391.47,373.68 391.54,374.61 391.61,373.03 391.67,373.93 391.74,376.57 391.81,378.28 391.88,372.48 391.95,375.35 392.02,371.75 392.09,374.42 392.16,375.87 392.23,373.59 392.30,375.13 392.37,374.68 392.43,376.42 392.50,373.70 392.57,372.94 392.64,375.89 392.71,371.84 392.78,376.09 392.85,374.69 392.92,378.10 392.99,378.67 393.06,371.56 393.13,372.82 393.20,373.36 393.26,378.49 393.33,375.11 393.40,374.81 393.47,375.47 393.54,375.13 393.61,377.34 393.68,376.04 393.75,377.83 393.82,376.46 393.89,375.21 393.96,377.31 394.02,376.45 394.09,376.76 394.16,376.00 394.23,374.42 394.30,375.68 394.37,375.42 394.44,378.74 394.51,376.84 394.58,374.76 394.65,377.79 394.72,377.05 394.79,378.03 394.85,373.93 394.92,377.15 394.99,377.66 395.06,375.27 395.13,374.42 395.20,375.52 395.27,374.66 395.34,376.05 395.41,376.67 395.48,377.24 395.55,377.37 395.61,377.54 395.68,375.82 395.75,376.68 395.82,376.33 395.89,375.40 395.96,376.58 396.03,378.95 396.10,377.91 396.17,378.49 396.24,379.90 396.31,376.29 396.38,378.63 396.44,378.77 396.51,378.39 396.58,374.88 396.65,377.00 396.72,374.64 396.79,376.59 396.86,377.20 396.93,375.39 397.00,375.32 397.07,376.18 397.14,378.24 397.20,377.19 397.27,378.48 397.34,376.80 397.41,376.16 397.48,373.65 397.55,373.76 397.62,375.08 397.69,374.56 397.76,375.86 397.83,371.26 397.90,373.49 397.97,371.45 398.03,375.52 398.10,375.44 398.17,374.27 398.24,375.80 398.31,375.56 398.38,377.88 398.45,374.37 398.52,375.80 398.59,374.55 398.66,376.38 398.73,379.16 398.79,375.02 398.86,373.78 398.93,378.17 399.00,377.57 399.07,376.32 399.14,376.18 399.21,378.77 399.28,372.47 399.35,373.78 399.42,376.68 399.49,378.80 399.55,374.81 399.62,371.82 399.69,373.86 399.76,373.22 399.83,376.96 399.90,374.78 399.97,377.86 400.04,371.50 400.11,373.99 400.18,378.78 400.25,378.26 400.32,373.97 400.38,374.53 400.45,375.27 400.52,373.53 400.59,370.93 400.66,373.84 400.73,377.71 400.80,374.65 400.87,376.67 400.94,375.68 401.01,373.55 401.08,374.38 401.14,375.93 401.21,373.96 401.28,375.32 401.35,372.80 401.42,374.12 401.49,372.89 401.56,374.01 401.63,372.08 401.70,373.61 401.77,373.30 401.84,374.22 401.91,372.85 401.97,376.25 402.04,368.09 402.11,374.09 402.18,372.59 402.25,373.55 402.32,373.49 402.39,371.78 402.46,373.36 402.53,373.12 402.60,374.77 402.67,373.85 402.73,374.22 402.80,368.72 402.87,374.35 402.94,373.79 403.01,371.39 403.08,369.06 403.15,374.66 403.22,374.32 403.29,371.18 403.36,370.71 403.43,373.83 403.50,374.45 403.56,372.84 403.63,369.64 403.70,371.00 403.77,369.49 403.84,370.96 403.91,370.75 403.98,369.50 404.05,370.76 404.12,370.04 404.19,372.06 404.26,371.42 404.32,369.40 404.39,370.62 404.46,371.48 404.53,368.85 404.60,368.99 404.67,369.94 404.74,371.25 404.81,368.16 404.88,365.17 404.95,371.19 405.02,372.45 405.09,371.00 405.15,371.23 405.22,371.78 405.29,371.58 405.36,367.82 405.43,367.75 405.50,366.57 405.57,367.87 405.64,370.07 405.71,367.17 405.78,370.24 405.85,369.73 405.91,371.21 405.98,366.78 406.05,367.14 406.12,369.82 406.19,369.51 406.26,368.86 406.33,368.53 406.40,367.33 406.47,368.74 406.54,368.11 406.61,371.59 406.68,369.38 406.74,372.11 406.81,365.54 406.88,366.24 406.95,367.49 407.02,366.76 407.09,365.12 407.16,367.08 407.23,371.74 407.30,369.20 407.37,373.15 407.44,370.33 407.50,371.13 407.57,368.88 407.64,368.16 407.71,370.60 407.78,369.43 407.85,368.42 407.92,369.25 407.99,369.31 408.06,373.43 408.13,369.85 408.20,367.61 408.27,368.62 408.33,371.86 408.40,369.67 408.47,368.71 408.54,371.03 408.61,368.03 408.68,370.79 408.75,369.97 408.82,369.60 408.89,365.34 408.96,370.08 409.03,370.59 409.09,368.27 409.16,370.51 409.23,369.33 409.30,373.90 409.37,369.25 409.44,369.89 409.51,372.29 409.58,367.46 409.65,370.46 409.72,370.44 409.79,372.57 409.86,373.21 409.92,371.32 409.99,373.14 410.06,369.49 410.13,368.85 410.20,371.70 410.27,373.56 410.34,371.39 410.41,372.68 410.48,370.48 410.55,370.53 410.62,371.72 410.68,370.86 410.75,369.15 410.82,367.99 410.89,372.18 410.96,369.95 411.03,371.80 411.10,373.38 411.17,369.13 411.24,370.84 411.31,371.38 411.38,371.06 411.45,372.09 411.51,373.81 411.58,368.64 411.65,370.34 411.72,371.59 411.79,370.36 411.86,369.83 411.93,372.66 412.00,371.27 412.07,373.03 412.14,371.30 412.21,373.04 412.27,368.12 412.34,373.37 412.41,371.82 412.48,371.98 412.55,373.53 412.62,371.24 412.69,373.19 412.76,373.87 412.83,373.16 412.90,374.62 412.97,371.07 413.04,372.19 413.10,371.59 413.17,375.98 413.24,373.03 413.31,375.02 413.38,373.48 413.45,371.33 413.52,373.28 413.59,374.14 413.66,371.78 413.73,372.03 413.80,370.52 413.86,377.47 413.93,373.45 414.00,374.88 414.07,375.78 414.14,373.98 414.21,376.40 414.28,378.44 414.35,376.00 414.42,374.84 414.49,370.92 414.56,375.77 414.63,376.64 414.69,378.18 414.76,375.19 414.83,375.01 414.90,374.32 414.97,377.32 415.04,376.07 415.11,378.90 415.18,374.38 415.25,377.65 415.32,379.87 415.39,372.60 415.45,373.84 415.52,374.14 415.59,374.16 415.66,376.76 415.73,372.84 415.80,376.82 415.87,371.30 415.94,374.46 416.01,378.34 416.08,373.27 416.15,371.22 416.21,375.39 416.28,372.92 416.35,375.31 416.42,376.09 416.49,379.75 416.56,372.61 416.63,375.76 416.70,374.21 416.77,377.04 416.84,376.62 416.91,372.82 416.98,375.63 417.04,375.66 417.11,377.26 417.18,374.50 417.25,373.43 417.32,375.75 417.39,375.23 417.46,377.16 417.53,372.23 417.60,376.02 417.67,375.14 417.74,371.68 417.80,375.25 417.87,377.73 417.94,376.55 418.01,375.47 418.08,371.43 418.15,374.34 418.22,375.17 418.29,373.17 418.36,372.26 418.43,376.12 418.50,371.97 418.57,373.03 418.63,373.78 418.70,379.06 418.77,374.21 418.84,371.92 418.91,375.04 418.98,370.14 419.05,374.33 419.12,376.35 419.19,373.28 419.26,373.81 419.33,372.75 419.39,374.71 419.46,371.79 419.53,375.27 419.60,373.92 419.67,376.49 419.74,375.60 419.81,373.66 419.88,375.24 419.95,374.80 420.02,374.29 420.09,373.37 420.16,372.34 420.22,372.28 420.29,371.74 420.36,373.24 420.43,374.61 420.50,376.53 420.57,374.12 420.64,374.91 420.71,376.79 420.78,370.13 420.85,376.71 420.92,372.46 420.98,372.01 421.05,373.45 421.12,368.00 421.19,372.83 421.26,374.26 421.33,369.36 421.40,374.18 421.47,375.31 421.54,374.42 421.61,373.65 421.68,372.26 421.75,371.63 421.81,375.10 421.88,371.44 421.95,367.76 422.02,373.32 422.09,372.12 422.16,370.46 422.23,369.40 422.30,372.90 422.37,373.38 422.44,373.39 422.51,369.27 422.57,369.56 422.64,375.35 422.71,375.22 422.78,373.40 422.85,373.82 422.92,370.07 422.99,370.35 423.06,366.92 423.13,369.07 423.20,370.28 423.27,368.16 423.34,372.05 423.40,372.94 423.47,370.10 423.54,368.27 423.61,373.11 423.68,368.19 423.75,368.17 423.82,370.70 423.89,369.33 423.96,370.10 424.03,369.33 424.10,367.85 424.16,370.87 424.23,367.24 424.30,367.48 424.37,367.33 424.44,372.80 424.51,372.51 424.58,367.51 424.65,369.90 424.72,370.02 424.79,370.09 424.86,371.13 424.93,369.02 424.99,369.79 425.06,369.59 425.13,367.33 425.20,370.47 425.27,365.95 425.34,372.35 425.41,363.15 425.48,370.56 425.55,366.74 425.62,366.04 425.69,367.76 425.75,366.25 425.82,367.85 425.89,370.99 425.96,366.86 426.03,365.26 426.10,368.50 426.17,370.67 426.24,368.50 426.31,366.66 426.38,366.66 426.45,365.06 426.52,366.09 426.58,366.15 426.65,370.98 426.72,362.74 426.79,366.93 426.86,365.32 426.93,367.64 427.00,367.24 427.07,366.80 427.14,363.84 427.21,363.93 427.28,365.65 427.34,362.98 427.41,367.59 427.48,365.80 427.55,367.68 427.62,364.27 427.69,366.71 427.76,364.87 427.83,363.41 427.90,370.80 427.97,362.54 428.04,366.15 428.11,367.39 428.17,370.51 428.24,367.37 428.31,371.28 428.38,366.63 428.45,367.14 428.52,363.26 428.59,367.48 428.66,364.76 428.73,364.60 428.80,362.86 428.87,367.40 428.93,365.45 429.00,369.94 429.07,369.16 429.14,367.56 429.21,367.10 429.28,369.46 429.35,367.93 429.42,365.78 429.49,368.08 429.56,367.53 429.63,369.01 429.70,364.59 429.76,363.85 429.83,366.99 429.90,367.66 429.97,364.21 430.04,366.59 430.11,368.89 430.18,370.28 430.25,368.83 430.32,363.41 430.39,368.95 430.46,362.15 430.52,367.90 430.59,368.37 430.66,365.40 430.73,368.55 430.80,367.38 430.87,370.23 430.94,370.70 431.01,369.76 431.08,367.93 431.15,369.75 431.22,372.37 431.28,367.63 431.35,368.96 431.42,369.25 431.49,369.98 431.56,373.28 431.63,365.77 431.70,369.92 431.77,368.00 431.84,366.36 431.91,366.95 431.98,368.85 432.05,369.30 432.11,368.79 432.18,367.67 432.25,368.39 432.32,370.49 432.39,368.79 432.46,369.01 432.53,368.45 432.60,369.49 432.67,367.26 432.74,369.64 432.81,368.35 432.87,370.10 432.94,371.39 433.01,372.20 433.08,370.71 433.15,369.41 433.22,368.03 433.29,370.79 433.36,371.71 433.43,371.75 433.50,368.26 433.57,370.67 433.64,371.94 433.70,369.55 433.77,373.70 433.84,370.92 433.91,371.30 433.98,371.55 434.05,373.63 434.12,369.46 434.19,368.13 434.26,374.15 434.33,371.35 434.40,370.37 434.46,367.23 434.53,372.59 434.60,373.70 434.67,371.89 434.74,367.94 434.81,371.85 434.88,371.51 434.95,368.57 435.02,376.38 435.09,376.49 435.16,370.44 435.23,370.75 435.29,375.09 435.36,371.35 435.43,372.34 435.50,372.03 435.57,374.10 435.64,373.45 435.71,374.33 435.78,372.52 435.85,373.12 435.92,369.35 435.99,371.48 436.05,375.89 436.12,371.97 436.19,369.98 436.26,372.29 436.33,370.72 436.40,372.98 436.47,371.53 436.54,374.82 436.61,371.42 436.68,375.74 436.75,370.45 436.82,376.05 436.88,377.27 436.95,372.02 437.02,373.43 437.09,372.88 437.16,372.27 437.23,373.18 437.30,374.90 437.37,372.73 437.44,372.47 437.51,372.18 437.58,369.21 437.64,374.64 437.71,373.05 437.78,372.07 437.85,374.08 437.92,375.58 437.99,374.32 438.06,371.07 438.13,373.73 438.20,371.97 438.27,374.65 438.34,372.29 438.41,374.53 438.47,374.86 438.54,372.95 438.61,373.06 438.68,370.22 438.75,376.40 438.82,372.13 438.89,369.92 438.96,370.42 439.03,373.90 439.10,374.48 439.17,374.10 439.23,372.50 439.30,372.72 439.37,372.39 439.44,371.88 439.51,375.20 439.58,375.30 439.65,375.49 439.72,375.70 439.79,373.20 439.86,372.36 439.93,367.90 440.00,371.88 440.06,372.89 440.13,370.06 440.20,374.35 440.27,372.18 440.34,370.88 440.41,371.23 440.48,371.97 440.55,373.45 440.62,375.21 440.69,373.00 440.76,373.85 440.82,371.24 440.89,372.86 440.96,371.42 441.03,375.74 441.10,370.52 441.17,374.14 441.24,375.52 441.31,375.11 441.38,373.56 441.45,370.00 441.52,370.78 441.59,374.52 441.65,371.94 441.72,372.27 441.79,375.16 441.86,373.95 441.93,375.99 442.00,373.59 442.07,377.11 442.14,373.33 442.21,373.55 442.28,373.21 442.35,373.20 442.41,369.16 442.48,372.12 442.55,370.87 442.62,369.77 442.69,369.41 442.76,369.79 442.83,372.20 442.90,373.22 442.97,372.51 443.04,371.82 443.11,370.79 443.18,370.90 443.24,368.44 443.31,370.78 443.38,366.89 443.45,368.35 443.52,371.31 443.59,368.53 443.66,375.96 443.73,367.33 443.80,369.19 443.87,369.14 443.94,373.24 444.00,364.70 444.07,370.20 444.14,369.89 444.21,367.25 444.28,369.82 444.35,371.06 444.42,367.94 444.49,371.22 444.56,367.60 444.63,368.73 444.70,366.65 444.77,371.27 444.83,366.24 444.90,368.07 444.97,364.60 445.04,369.80 445.11,364.66 445.18,366.89 445.25,366.64 445.32,369.61 445.39,366.93 445.46,366.62 445.53,369.56 445.59,370.13 445.66,369.27 445.73,364.68 445.80,367.23 445.87,365.57 445.94,366.79 446.01,367.06 446.08,366.76 446.15,367.96 446.22,364.59 446.29,366.62 446.36,366.44 446.42,369.61 446.49,366.11 446.56,368.02 446.63,367.60 446.70,364.42 446.77,368.64 446.84,366.77 446.91,365.02 446.98,363.89 447.05,367.20 447.12,365.44 447.18,365.44 447.25,368.23 447.32,370.21 447.39,369.72 447.46,364.55 447.53,365.50 447.60,368.35 447.67,366.88 447.74,366.34 447.81,366.20 447.88,365.48 447.94,360.90 448.01,366.90 448.08,364.98 448.15,366.78 448.22,366.45 448.29,366.92 448.36,365.56 448.43,366.17 448.50,364.30 448.57,364.54 448.64,366.75 448.71,361.02 448.77,367.24 448.84,364.12 448.91,360.42 448.98,366.23 449.05,362.08 449.12,361.86 449.19,364.03 449.26,368.45 449.33,361.80 449.40,364.48 449.47,365.76 449.53,362.05 449.60,366.10 449.67,362.46 449.74,365.73 449.81,363.52 449.88,366.79 449.95,365.41 450.02,366.46 450.09,366.05 450.16,364.23 450.23,364.96 450.30,364.24 450.36,362.03 450.43,364.87 450.50,368.43 450.57,365.25 450.64,364.52 450.71,362.63 450.78,362.62 450.85,362.81 450.92,365.22 450.99,363.47 451.06,367.74 451.12,362.20 451.19,363.97 451.26,363.86 451.33,365.69 451.40,364.84 451.47,366.35 451.54,363.87 451.61,367.76 451.68,363.12 451.75,364.03 451.82,361.05 451.89,365.30 451.95,365.45 452.02,364.91 452.09,365.28 452.16,365.62 452.23,367.69 452.30,367.75 452.37,366.70 452.44,366.19 452.51,368.07 452.58,368.07 452.65,366.34 452.71,364.30 452.78,366.26 452.85,364.55 452.92,364.01 452.99,364.48 453.06,366.97 453.13,367.00 453.20,370.04 453.27,367.69 453.34,365.41 453.41,368.65 453.48,363.73 453.54,363.63 453.61,367.38 453.68,364.81 453.75,369.65 453.82,368.97 453.89,367.66 453.96,366.95 454.03,367.42 454.10,368.87 454.17,363.16 454.24,366.65 454.30,366.73 454.37,366.00 454.44,367.10 454.51,368.01 454.58,368.75 454.65,371.03 454.72,364.69 454.79,369.71 454.86,371.30 454.93,369.62 455.00,371.32 455.07,364.03 455.13,367.44 455.20,365.37 455.27,365.35 455.34,367.24 455.41,367.30 455.48,370.02 455.55,368.79 455.62,369.92 455.69,368.67 455.76,370.26 455.83,366.30 455.89,367.40 455.96,369.25 456.03,372.52 456.10,367.76 456.17,367.42 456.24,369.44 456.31,371.94 456.38,368.54 456.45,367.34 456.52,373.48 456.59,368.46 456.66,373.39 456.72,369.58 456.79,366.22 456.86,369.67 456.93,368.93 457.00,370.63 457.07,370.04 457.14,365.27 457.21,367.41 457.28,370.84 457.35,371.02 457.42,370.26 457.48,365.85 457.55,369.97 457.62,368.17 457.69,371.24 457.76,373.14 457.83,367.87 457.90,370.78 457.97,372.28 458.04,372.13 458.11,372.13 458.18,372.03 458.25,373.98 458.31,368.41 458.38,370.12 458.45,368.94 458.52,371.68 458.59,370.29 458.66,370.69 458.73,368.66 458.80,369.42 458.87,370.39 458.94,372.48 459.01,373.63 459.07,372.83 459.14,372.52 459.21,372.34 459.28,373.79 459.35,367.88 459.42,370.75 459.49,375.44 459.56,373.57 459.63,374.09 459.70,370.87 459.77,369.19 459.84,373.40 459.90,370.13 459.97,371.97 460.04,369.06 460.11,368.62 460.18,370.79 460.25,369.96 460.32,371.44 460.39,372.20 460.46,373.82 460.53,370.77 460.60,371.59 460.66,372.23 460.73,371.60 460.80,371.82 460.87,373.56 460.94,372.51 461.01,369.10 461.08,371.90 461.15,368.57 461.22,373.78 461.29,374.18 461.36,371.15 461.43,369.82 461.49,372.74 461.56,370.11 461.63,369.48 461.70,369.18 461.77,371.60 461.84,371.47 461.91,374.72 461.98,371.29 462.05,370.76 462.12,368.43 462.19,373.90 462.25,373.02 462.32,373.33 462.39,369.43 462.46,376.41 462.53,373.44 462.60,367.01 462.67,369.86 462.74,373.89 462.81,371.28 462.88,369.41 462.95,369.99 463.02,371.54 463.08,372.68 463.15,369.34 463.22,371.02 463.29,369.33 463.36,370.14 463.43,371.87 463.50,367.94 463.57,371.87 463.64,369.94 463.71,372.07 463.78,371.21 463.84,371.21 463.91,372.01 463.98,370.14 464.05,367.91 464.12,366.74 464.19,367.56 464.26,370.80 464.33,367.43 464.40,369.50 464.47,366.64 464.54,372.82 464.60,367.18 464.67,371.37 464.74,367.73 464.81,370.99 464.88,368.12 464.95,370.49 465.02,373.69 465.09,371.77 465.16,370.23 465.23,369.63 465.30,374.18 465.37,371.99 465.43,370.97 465.50,369.85 465.57,368.90 465.64,370.95 465.71,372.30 465.78,368.52 465.85,369.74 465.92,367.19 465.99,369.99 466.06,367.53 466.13,370.59 466.19,368.15 466.26,368.44 466.33,367.63 466.40,370.37 466.47,368.63 466.54,370.04 466.61,368.56 466.68,366.88 466.75,361.99 466.82,367.92 466.89,366.45 466.96,367.60 467.02,365.44 467.09,366.72 467.16,365.45 467.23,366.77 467.30,362.53 467.37,364.53 467.44,370.72 467.51,366.55 467.58,366.92 467.65,371.49 467.72,368.67 467.78,367.76 467.85,368.24 467.92,366.39 467.99,370.23 468.06,364.97 468.13,364.82 468.20,365.60 468.27,366.90 468.34,366.14 468.41,367.01 468.48,363.65 468.55,364.87 468.61,361.75 468.68,366.48 468.75,362.69 468.82,366.74 468.89,365.83 468.96,367.53 469.03,364.26 469.10,365.37 469.17,363.90 469.24,362.05 469.31,365.12 469.37,364.16 469.44,363.02 469.51,364.90 469.58,365.82 469.65,363.90 469.72,363.53 469.79,362.90 469.86,362.72 469.93,365.70 470.00,363.37 470.07,361.70 470.14,365.08 470.20,363.33 470.27,365.27 470.34,363.60 470.41,360.35 470.48,363.47 470.55,365.73 470.62,363.00 470.69,363.21 470.76,361.32 470.83,366.33 470.90,365.35 470.96,363.59 471.03,366.54 471.10,361.01 471.17,367.40 471.24,364.92 471.31,366.20 471.38,364.48 471.45,361.47 471.52,361.84 471.59,361.14 471.66,361.76 471.73,367.09 471.79,362.30 471.86,366.65 471.93,363.88 472.00,363.63 472.07,363.91 472.14,361.77 472.21,364.40 472.28,359.20 472.35,361.49 472.42,360.28 472.49,361.13 472.55,360.84 472.62,362.73 472.69,358.63 472.76,364.77 472.83,361.67 472.90,362.60 472.97,363.06 473.04,361.95 473.11,364.13 473.18,360.83 473.25,361.00 473.32,362.40 473.38,361.10 473.45,364.73 473.52,366.31 473.59,363.82 473.66,363.13 473.73,357.57 473.80,363.14 473.87,360.58 473.94,360.98 474.01,358.42 474.08,362.50 474.14,361.43 474.21,363.18 474.28,364.58 474.35,364.89 474.42,364.47 474.49,359.98 474.56,362.34 474.63,363.27 474.70,362.96 474.77,364.18 474.84,363.13 474.91,363.18 474.97,361.81 475.04,361.32 475.11,366.56 475.18,362.79 475.25,360.50 475.32,365.44 475.39,363.91 475.46,363.10 475.53,361.25 475.60,362.33 475.67,364.04 475.73,362.63 475.80,361.58 475.87,362.96 475.94,360.01 476.01,363.00 476.08,366.07 476.15,365.58 476.22,364.31 476.29,364.52 476.36,362.89 476.43,363.50 476.50,360.78 476.56,362.69 476.63,361.38 476.70,366.03 476.77,365.41 476.84,363.21 476.91,364.48 476.98,363.46 477.05,364.30 477.12,366.14 477.19,361.46 477.26,362.68 477.32,368.26 477.39,366.41 477.46,365.18 477.53,363.91 477.60,365.51 477.67,368.22 477.74,363.81 477.81,366.01 477.88,363.20 477.95,365.11 478.02,363.76 478.09,364.17 478.15,364.14 478.22,367.06 478.29,363.99 478.36,365.75 478.43,368.79 478.50,367.12 478.57,367.08 478.64,365.50 478.71,365.13 478.78,368.88 478.85,365.20 478.91,366.88 478.98,368.98 479.05,365.19 479.12,368.52 479.19,369.47 479.26,365.56 479.33,365.34 479.40,368.59 479.47,365.16 479.54,365.34 479.61,368.51 479.67,363.44 479.74,367.71 479.81,367.20 479.88,372.60 479.95,366.49 480.02,369.12 480.09,367.02 480.16,371.48 480.23,365.68 480.30,365.13 480.37,364.31 480.44,374.26 480.50,367.09 480.57,367.64 480.64,374.58 480.71,369.96 480.78,368.69 480.85,365.67 480.92,370.33 480.99,368.26 481.06,368.85 481.13,368.04 481.20,369.65 481.26,367.06 481.33,366.94 481.40,371.76 481.47,366.73 481.54,370.60 481.61,369.68 481.68,366.86 481.75,369.00 481.82,368.06 481.89,367.67 481.96,368.09 482.03,370.46 482.09,371.34 482.16,368.03 482.23,367.91 482.30,368.76 482.37,369.91 482.44,367.80 482.51,369.64 482.58,372.42 482.65,369.07 482.72,368.64 482.79,368.11 482.85,371.55 482.92,371.28 482.99,369.09 483.06,370.70 483.13,369.94 483.20,367.90 483.27,369.03 483.34,366.12 483.41,369.28 483.48,366.39 483.55,367.72 483.62,364.70 483.68,369.88 483.75,370.10 483.82,367.26 483.89,370.99 483.96,370.89 484.03,369.44 484.10,369.18 484.17,372.82 484.24,369.43 484.31,370.59 484.38,370.01 484.44,369.60 484.51,370.35 484.58,367.76 484.65,368.96 484.72,370.33 484.79,369.79 484.86,367.82 484.93,368.33 485.00,367.35 485.07,370.21 485.14,369.64 485.21,365.81 485.27,369.99 485.34,366.47 485.41,368.18 485.48,370.77 485.55,372.74 485.62,368.58 485.69,371.31 485.76,371.31 485.83,373.39 485.90,367.43 485.97,369.63 486.03,369.78 486.10,369.02 486.17,369.31 486.24,369.60 486.31,368.73 486.38,370.33 486.45,375.03 486.52,368.23 486.59,368.86 486.66,369.66 486.73,366.44 486.80,372.52 486.86,375.56 486.93,366.59 487.00,368.76 487.07,372.94 487.14,370.39 487.21,368.27 487.28,371.99 487.35,368.35 487.42,365.13 487.49,366.59 487.56,369.46 487.62,368.70 487.69,371.27 487.76,369.03 487.83,369.94 487.90,371.26 487.97,371.93 488.04,365.20 488.11,368.94 488.18,371.16 488.25,369.89 488.32,365.95 488.39,365.63 488.45,370.15 488.52,368.45 488.59,366.98 488.66,369.46 488.73,371.11 488.80,370.65 488.87,368.58 488.94,370.13 489.01,371.15 489.08,368.93 489.15,366.48 489.21,366.93 489.28,368.74 489.35,364.31 489.42,369.76 489.49,368.25 489.56,370.82 489.63,366.38 489.70,368.16 489.77,371.28 489.84,369.47 489.91,364.03 489.98,366.16 490.04,367.35 490.11,365.73 490.18,370.71 490.25,369.06 490.32,370.01 490.39,368.92 490.46,367.93 490.53,365.99 490.60,364.94 490.67,364.92 490.74,361.35 490.80,367.79 490.87,366.74 490.94,365.58 491.01,368.24 491.08,367.06 491.15,365.55 491.22,368.12 491.29,365.27 491.36,363.64 491.43,368.36 491.50,370.67 491.57,365.74 491.63,367.97 491.70,365.40 491.77,366.59 491.84,364.97 491.91,363.19 491.98,363.75 492.05,366.08 492.12,367.66 492.19,370.28 492.26,369.56 492.33,366.65 492.39,364.75 492.46,366.25 492.53,366.01 492.60,367.99 492.67,368.02 492.74,368.10 492.81,363.21 492.88,368.47 492.95,362.95 493.02,366.12 493.09,363.09 493.16,363.63 493.22,362.50 493.29,361.53 493.36,365.51 493.43,365.83 493.50,364.66 493.57,365.28 493.64,362.27 493.71,363.79 493.78,363.47 493.85,362.56 493.92,364.32 493.98,361.02 494.05,366.99 494.12,362.66 494.19,362.05 494.26,364.59 494.33,364.37 494.40,361.02 494.47,363.47 494.54,366.70 494.61,365.46 494.68,360.55 494.75,364.38 494.81,359.81 494.88,359.63 494.95,362.80 495.02,361.21 495.09,363.98 495.16,363.05 495.23,363.61 495.30,360.91 495.37,364.71 495.44,362.29 495.51,361.87 495.57,360.86 495.64,366.25 495.71,365.52 495.78,363.61 495.85,362.22 495.92,361.43 495.99,361.28 496.06,357.49 496.13,360.26 496.20,360.36 496.27,362.55 496.33,359.90 496.40,360.06 496.47,360.07 496.54,361.66 496.61,360.12 496.68,358.24 496.75,363.00 496.82,365.79 496.89,359.63 496.96,359.79 497.03,361.76 497.10,362.19 497.16,355.58 497.23,362.21 497.30,363.76 497.37,362.22 497.44,360.20 497.51,362.49 497.58,362.02 497.65,360.59 497.72,362.11 497.79,360.96 497.86,361.31 497.92,363.42 497.99,361.09 498.06,363.64 498.13,359.33 498.20,363.19 498.27,361.77 498.34,365.04 498.41,362.23 498.48,363.90 498.55,358.26 498.62,361.61 498.69,360.30 498.75,365.01 498.82,363.98 498.89,361.80 498.96,364.27 499.03,359.15 499.10,362.36 499.17,361.25 499.24,360.97 499.31,361.93 499.38,360.06 499.45,363.08 499.51,360.98 499.58,359.30 499.65,361.37 499.72,361.59 499.79,362.57 499.86,361.81 499.93,360.59 500.00,362.52 500.07,365.52 500.14,361.77 500.21,362.47 500.28,361.24 500.34,362.17 500.41,359.08 500.48,364.83 500.55,364.40 500.62,361.13 500.69,364.63 500.76,361.91 500.83,362.67 500.90,366.72 500.97,361.38 501.04,360.00 501.10,362.44 501.17,365.80 501.24,361.38 501.31,365.19 501.38,363.36 501.45,362.33 501.52,364.84 501.59,366.77 501.66,363.67 501.73,363.53 501.80,365.26 501.87,365.17 501.93,362.13 502.00,363.90 502.07,364.74 502.14,365.07 502.21,363.58 502.28,363.80 502.35,364.41 502.42,366.97 502.49,364.96 502.56,365.56 502.63,364.21 502.69,362.06 502.76,362.55 502.83,363.25 502.90,364.41 502.97,365.36 503.04,364.09 503.11,365.82 503.18,365.62 503.25,366.71 503.32,365.18 503.39,365.30 503.46,361.47 503.52,364.16 503.59,366.12 503.66,363.85 503.73,366.46 503.80,363.52 503.87,364.06 503.94,359.84 504.01,367.98 504.08,366.00 504.15,366.15 504.22,365.39 504.28,364.62 504.35,368.10 504.42,367.66 504.49,365.65 504.56,364.37 504.63,368.67 504.70,369.60 504.77,364.21 504.84,364.89 504.91,364.46 504.98,368.69 505.05,367.19 505.11,366.39 505.18,366.02 505.25,367.21 505.32,367.13 505.39,365.05 505.46,368.03 505.53,368.31 505.60,368.13 505.67,368.35 505.74,367.11 505.81,367.85 505.87,368.37 505.94,364.67 506.01,366.98 506.08,368.32 506.15,365.15 506.22,368.85 506.29,367.80 506.36,368.03 506.43,369.04 506.50,368.70 506.57,367.81 506.64,370.90 506.70,368.85 506.77,367.61 506.84,367.60 506.91,367.59 506.98,363.53 507.05,366.93 507.12,368.59 507.19,368.58 507.26,368.38 507.33,367.54 507.40,369.04 507.46,365.46 507.53,370.71 507.60,367.27 507.67,367.56 507.74,370.88 507.81,367.36 507.88,367.53 507.95,369.95 508.02,364.07 508.09,367.30 508.16,369.40 508.23,369.71 508.29,370.26 508.36,368.28 508.43,368.69 508.50,371.65 508.57,370.92 508.64,370.29 508.71,369.68 508.78,369.61 508.85,370.23 508.92,367.64 508.99,367.03 509.05,368.78 509.12,373.31 509.19,369.26 509.26,367.84 509.33,369.12 509.40,368.42 509.47,368.77 509.54,371.95 509.61,374.02 509.68,367.74 509.75,370.02 509.82,368.16 509.88,369.59 509.95,369.32 510.02,366.26 510.09,371.37 510.16,369.00 510.23,371.15 510.30,368.83 510.37,368.02 510.44,367.67 510.51,368.67 510.58,371.71 510.64,368.47 510.71,367.18 510.78,366.97 510.85,364.68 510.92,367.82 510.99,370.96 511.06,369.96 511.13,368.75 511.20,366.83 511.27,371.18 511.34,367.07 511.41,367.59 511.47,370.60 511.54,367.65 511.61,370.37 511.68,368.84 511.75,369.43 511.82,368.34 511.89,371.14 511.96,367.73 512.03,373.08 512.10,369.55 512.17,369.85 512.23,365.56 512.30,367.61 512.37,369.63 512.44,370.42 512.51,368.54 512.58,369.84 512.65,364.11 512.72,374.06 512.79,368.37 512.86,373.37 512.93,366.38 512.99,370.02 513.06,365.18 513.13,369.44 513.20,366.16 513.27,367.87 513.34,365.89 513.41,368.16 513.48,374.09 513.55,369.57 513.62,371.19 513.69,366.16 513.76,366.93 513.82,367.95 513.89,367.01 513.96,367.47 514.03,368.96 514.10,363.87 514.17,367.25 514.24,368.06 514.31,370.55 514.38,368.81 514.45,367.49 514.52,367.82 514.58,368.36 514.65,367.45 514.72,369.54 514.79,367.22 514.86,370.27 514.93,368.84 515.00,368.53 515.07,365.26 515.14,365.96 515.21,366.72 515.28,369.11 515.35,367.54 515.41,365.08 515.48,364.11 515.55,369.49 515.62,367.34 515.69,366.19 515.76,365.64 515.83,366.25 515.90,364.86 515.97,369.01 516.04,362.94 516.11,368.27 516.17,365.78 516.24,364.78 516.31,363.42 516.38,363.87 516.45,363.85 516.52,362.96 516.59,365.75 516.66,363.86 516.73,362.20 516.80,366.73 516.87,367.94 516.94,367.07 517.00,362.14 517.07,362.40 517.14,365.53 517.21,364.24 517.28,363.70 517.35,362.46 517.42,368.26 517.49,365.53 517.56,364.85 517.63,363.60 517.70,364.01 517.76,364.72 517.83,363.42 517.90,369.08 517.97,357.66 518.04,362.10 518.11,361.89 518.18,364.91 518.25,362.68 518.32,359.30 518.39,359.69 518.46,363.12 518.53,365.69 518.59,362.78 518.66,363.64 518.73,361.24 518.80,365.45 518.87,363.18 518.94,362.17 519.01,363.58 519.08,360.44 519.15,364.78 519.22,364.90 519.29,363.05 519.35,360.59 519.42,362.80 519.49,363.31 519.56,360.42 519.63,361.52 519.70,362.97 519.77,361.58 519.84,362.25 519.91,360.47 519.98,361.34 520.05,363.18 520.12,362.46 520.18,362.27 520.25,360.62 520.32,360.55 520.39,362.92 520.46,361.57 520.53,360.50 520.60,358.84 520.67,360.50 520.74,357.00 520.81,360.84 520.88,359.35 520.94,361.44 521.01,362.74 521.08,360.47 521.15,359.65 521.22,359.93 521.29,360.24 521.36,361.16 521.43,362.10 521.50,361.01 521.57,359.41 521.64,358.38 521.71,366.94 521.77,359.00 521.84,358.01 521.91,357.60 521.98,359.35 522.05,358.74 522.12,360.96 522.19,360.21 522.26,358.94 522.33,362.20 522.40,361.55 522.47,359.53 522.53,362.61 522.60,359.77 522.67,362.87 522.74,359.45 522.81,359.77 522.88,360.95 522.95,361.70 523.02,360.81 523.09,364.31 523.16,360.56 523.23,359.51 523.30,357.30 523.36,360.77 523.43,360.09 523.50,356.91 523.57,356.20 523.64,360.72 523.71,357.60 523.78,357.35 523.85,358.69 523.92,361.75 523.99,361.66 524.06,358.59 524.12,355.03 524.19,360.14 524.26,356.60 524.33,355.95 524.40,362.36 524.47,361.05 524.54,356.78 524.61,357.89 524.68,358.77 524.75,359.93 524.82,358.65 524.89,361.24 524.95,354.89 525.02,362.35 525.09,363.69 525.16,359.76 525.23,357.16 525.30,361.13 525.37,360.27 525.44,362.27 525.51,360.38 525.58,362.33 525.65,362.34 525.71,363.34 525.78,361.49 525.85,356.62 525.92,360.58 525.99,360.11 526.06,355.99 526.13,361.88 526.20,362.67 526.27,359.62 526.34,363.24 526.41,360.10 526.48,358.47 526.54,363.08 526.61,361.99 526.68,357.52 526.75,363.19 526.82,362.48 526.89,360.66 526.96,361.84 527.03,362.99 527.10,358.05 527.17,362.56 527.24,360.75 527.30,362.33 527.37,362.02 527.44,364.41 527.51,359.78 527.58,362.61 527.65,359.19 527.72,364.24 527.79,362.91 527.86,361.01 527.93,361.82 528.00,363.46 528.06,362.46 528.13,364.90 528.20,362.20 528.27,367.80 528.34,362.09 528.41,359.74 528.48,360.75 528.55,360.91 528.62,363.58 528.69,361.79 528.76,363.68 528.83,363.11 528.89,363.20 528.96,369.96 529.03,361.24 529.10,362.27 529.17,361.55 529.24,365.29 529.31,362.00 529.38,362.50 529.45,368.13 529.52,367.24 529.59,363.59 529.65,365.13 529.72,363.87 529.79,365.22 529.86,360.91 529.93,367.94 530.00,366.91 530.07,366.19 530.14,367.05 530.21,365.51 530.28,364.45 530.35,367.21 530.42,363.78 530.48,361.90 530.55,362.42 530.62,360.61 530.69,362.47 530.76,364.92 530.83,361.27 530.90,363.54 530.97,361.20 531.04,365.51 531.11,369.49 531.18,367.63 531.24,364.93 531.31,364.23 531.38,365.84 531.45,363.43 531.52,367.90 531.59,367.04 531.66,363.63 531.73,365.61 531.80,365.57 531.87,362.93 531.94,363.63 532.01,367.56 532.07,365.57 532.14,369.53 532.21,366.12 532.28,365.34 532.35,369.75 532.42,363.04 532.49,362.19 532.56,365.32 532.63,364.49 532.70,363.35 532.77,366.83 532.83,364.38 532.90,365.78 532.97,369.75 533.04,368.51 533.11,367.86 533.18,364.53 533.25,366.57 533.32,364.78 533.39,367.82 533.46,369.51 533.53,362.68 533.60,361.36 533.66,366.20 533.73,367.43 533.80,364.61 533.87,369.36 533.94,367.55 534.01,370.10 534.08,366.18 534.15,366.69 534.22,368.06 534.29,368.59 534.36,370.40 534.42,369.00 534.49,364.80 534.56,368.07 534.63,364.78 534.70,369.17 534.77,367.58 534.84,368.37 534.91,367.98 534.98,365.88 535.05,371.70 535.12,365.97 535.19,366.07 535.25,367.51 535.32,367.37 535.39,367.99 535.46,366.13 535.53,367.44 535.60,369.31"/>
<line x1="51.70" y1="297.50" x2="51.70" y2="402.60" stroke="#161616" stroke-width="1.40"/>
<line x1="51.00" y1="402.00" x2="536.30" y2="402.00" stroke="#161616" stroke-width="1.40"/>
<line x1="51.70" y1="398.40" x2="57.20" y2="398.40" stroke="#161616" stroke-width="1.40"/>
<text x="44.70" y="403.55" text-anchor="end" font-size="14.30" fill="#111" stroke="#111" stroke-width="0.22">0.0</text>
<line x1="51.70" y1="365.00" x2="57.20" y2="365.00" stroke="#161616" stroke-width="1.40"/>
<text x="44.70" y="370.15" text-anchor="end" font-size="14.30" fill="#111" stroke="#111" stroke-width="0.22">0.5</text>
<line x1="51.70" y1="331.60" x2="57.20" y2="331.60" stroke="#161616" stroke-width="1.40"/>
<text x="44.70" y="336.75" text-anchor="end" font-size="14.30" fill="#111" stroke="#111" stroke-width="0.22">1.0</text>
<text x="44.70" y="303.35" text-anchor="end" font-size="14.30" fill="#111" stroke="#111" stroke-width="0.22">1.5</text>
<line x1="51.70" y1="402.00" x2="51.70" y2="396.50" stroke="#161616" stroke-width="1.40"/>
<text x="51.70" y="422.85" text-anchor="middle" font-size="14.30" fill="#111" stroke="#111" stroke-width="0.22">0</text>
<line x1="109.31" y1="402.00" x2="109.31" y2="396.50" stroke="#161616" stroke-width="1.40"/>
<text x="109.31" y="422.85" text-anchor="middle" font-size="14.30" fill="#111" stroke="#111" stroke-width="0.22">50</text>
<line x1="166.91" y1="402.00" x2="166.91" y2="396.50" stroke="#161616" stroke-width="1.40"/>
<text x="166.91" y="422.85" text-anchor="middle" font-size="14.30" fill="#111" stroke="#111" stroke-width="0.22">100</text>
<line x1="224.52" y1="402.00" x2="224.52" y2="396.50" stroke="#161616" stroke-width="1.40"/>
<text x="224.52" y="422.85" text-anchor="middle" font-size="14.30" fill="#111" stroke="#111" stroke-width="0.22">150</text>
<line x1="282.13" y1="402.00" x2="282.13" y2="396.50" stroke="#161616" stroke-width="1.40"/>
<text x="282.13" y="422.85" text-anchor="middle" font-size="14.30" fill="#111" stroke="#111" stroke-width="0.22">200</text>
<line x1="339.74" y1="402.00" x2="339.74" y2="396.50" stroke="#161616" stroke-width="1.40"/>
<text x="339.74" y="422.85" text-anchor="middle" font-size="14.30" fill="#111" stroke="#111" stroke-width="0.22">250</text>
<line x1="397.34" y1="402.00" x2="397.34" y2="396.50" stroke="#161616" stroke-width="1.40"/>
<text x="397.34" y="422.85" text-anchor="middle" font-size="14.30" fill="#111" stroke="#111" stroke-width="0.22">300</text>
<line x1="454.95" y1="402.00" x2="454.95" y2="396.50" stroke="#161616" stroke-width="1.40"/>
<text x="454.95" y="422.85" text-anchor="middle" font-size="14.30" fill="#111" stroke="#111" stroke-width="0.22">350</text>
<line x1="512.56" y1="402.00" x2="512.56" y2="396.50" stroke="#161616" stroke-width="1.40"/>
<text x="512.56" y="422.85" text-anchor="middle" font-size="14.30" fill="#111" stroke="#111" stroke-width="0.22">400</text>
<text transform="translate(16.80,349.50) rotate(-90)" text-anchor="middle" font-size="14.30" fill="#111" stroke="#111" stroke-width="0.22" xml:space="preserve">Signal  / pA</text>
<rect x="74.74" y="345.36" width="23.04" height="53.24" fill="none" stroke="#2a2a2a" stroke-width="1.3"/>
<line x1="93.20" y1="345.36" x2="126.30" y2="322.00" stroke="#2a2a2a" stroke-width="1.30"/>
<line x1="137.70" y1="380.90" x2="137.70" y2="388.60" stroke="#161616" stroke-width="1.50"/>
<text x="137.70" y="377.60" text-anchor="middle" font-size="13.30" fill="#111" stroke="#111" stroke-width="0.22">100</text>
<line x1="210.40" y1="381.60" x2="210.40" y2="391.20" stroke="#161616" stroke-width="1.50"/>
<text x="210.20" y="378.60" text-anchor="middle" font-size="13.30" fill="#111" stroke="#111" stroke-width="0.22">110</text>
<line x1="334.00" y1="367.00" x2="334.00" y2="375.70" stroke="#161616" stroke-width="1.50"/>
<text x="334.00" y="364.10" text-anchor="middle" font-size="13.30" fill="#111" stroke="#111" stroke-width="0.22">120</text>
<text x="535.60" y="311.80" text-anchor="end" font-size="13.30" fill="#111" stroke="#111" stroke-width="0.22">PEG 6500</text>
<text x="535.60" y="328.70" text-anchor="end" font-size="13.30" fill="#111" stroke="#111" stroke-width="0.22">55°C, 36vol% ACN</text>
<text x="535.60" y="345.60" text-anchor="end" font-size="13.30" fill="#111" stroke="#111" stroke-width="0.22">10g/L, 20<tspan font-family="'Liberation Serif', serif" font-style="italic" font-size="12.5" stroke-width="0.1">μ</tspan>L</text>
<rect x="157.40" y="298.80" width="142.30" height="40.50" fill="#fff" stroke="#2a2a2a" stroke-width="1.25"/>
<clipPath id="c4"><rect x="157.40" y="298.80" width="142.30" height="41.50"/></clipPath>
<polyline fill="none" stroke="#196af8" stroke-width="1.80" stroke-linejoin="round" stroke-linecap="round" clip-path="url(#c4)" points="157.40,318.88 157.54,316.96 157.68,315.10 157.83,313.33 157.97,311.68 158.11,310.18 158.25,308.85 158.40,307.72 158.54,306.81 158.68,306.12 158.82,305.67 158.97,305.48 159.11,305.53 159.25,305.81 159.39,306.32 159.53,307.05 159.68,307.97 159.82,309.07 159.96,310.34 160.10,311.76 160.25,313.31 160.39,314.96 160.53,316.70 160.67,318.49 160.82,320.32 160.96,322.15 161.10,323.97 161.24,325.74 161.38,327.46 161.53,329.09 161.67,330.61 161.81,332.02 161.95,333.30 162.10,334.43 162.24,335.42 162.38,336.25 162.52,336.93 162.67,337.45 162.81,337.84 162.95,338.09 163.09,338.23 163.23,338.28 163.38,338.28 163.52,338.24 163.66,338.10 163.80,337.85 163.95,337.48 164.09,336.97 164.23,336.31 164.37,335.51 164.51,334.56 164.66,333.47 164.80,332.24 164.94,330.89 165.08,329.44 165.23,327.89 165.37,326.27 165.51,324.59 165.65,322.89 165.80,321.18 165.94,319.48 166.08,317.82 166.22,316.22 166.36,314.71 166.51,313.30 166.65,312.03 166.79,310.89 166.93,309.92 167.08,309.13 167.22,308.52 167.36,308.11 167.50,307.90 167.65,307.90 167.79,308.08 167.93,308.45 168.07,308.98 168.21,309.68 168.36,310.54 168.50,311.55 168.64,312.68 168.78,313.94 168.93,315.29 169.07,316.73 169.21,318.24 169.35,319.79 169.50,321.37 169.64,322.97 169.78,324.55 169.92,326.10 170.06,327.62 170.21,329.06 170.35,330.44 170.49,331.72 170.63,332.90 170.78,333.97 170.92,334.93 171.06,335.76 171.20,336.46 171.35,337.04 171.49,337.50 171.63,337.84 171.77,338.07 171.91,338.21 172.06,338.28 172.20,338.29 172.34,338.27 172.48,338.19 172.63,338.02 172.77,337.77 172.91,337.40 173.05,336.92 173.20,336.33 173.34,335.61 173.48,334.77 173.62,333.83 173.76,332.77 173.91,331.62 174.05,330.37 174.19,329.06 174.33,327.68 174.48,326.25 174.62,324.79 174.76,323.32 174.90,321.85 175.05,320.41 175.19,319.00 175.33,317.65 175.47,316.38 175.61,315.20 175.76,314.12 175.90,313.16 176.04,312.33 176.18,311.65 176.33,311.12 176.47,310.74 176.61,310.53 176.75,310.47 176.90,310.57 177.04,310.81 177.18,311.20 177.32,311.72 177.46,312.37 177.61,313.15 177.75,314.04 177.89,315.04 178.03,316.13 178.18,317.30 178.32,318.54 178.46,319.83 178.60,321.16 178.74,322.52 178.89,323.88 179.03,325.25 179.17,326.60 179.31,327.91 179.46,329.18 179.60,330.40 179.74,331.55 179.88,332.63 180.03,333.62 180.17,334.52 180.31,335.32 180.45,336.02 180.59,336.62 180.74,337.13 180.88,337.53 181.02,337.83 181.16,338.05 181.31,338.19 181.45,338.27 181.59,338.29 181.73,338.28 181.88,338.24 182.02,338.14 182.16,337.97 182.30,337.72 182.44,337.38 182.59,336.94 182.73,336.41 182.87,335.78 183.01,335.05 183.16,334.23 183.30,333.32 183.44,332.33 183.58,331.27 183.73,330.14 183.87,328.96 184.01,327.73 184.15,326.47 184.29,325.20 184.44,323.91 184.58,322.64 184.72,321.39 184.86,320.17 185.01,319.00 185.15,317.90 185.29,316.86 185.43,315.92 185.58,315.07 185.72,314.33 185.86,313.70 186.00,313.20 186.14,312.82 186.29,312.57 186.43,312.46 186.57,312.48 186.71,312.63 186.86,312.89 187.00,313.26 187.14,313.75 187.28,314.34 187.43,315.04 187.57,315.82 187.71,316.70 187.85,317.64 187.99,318.66 188.14,319.73 188.28,320.85 188.42,322.00 188.56,323.17 188.71,324.36 188.85,325.56 188.99,326.74 189.13,327.90 189.28,329.04 189.42,330.14 189.56,331.18 189.70,332.18 189.84,333.10 189.99,333.96 190.13,334.75 190.27,335.45 190.41,336.08 190.56,336.62 190.70,337.08 190.84,337.46 190.98,337.76 191.13,337.98 191.27,338.14 191.41,338.23 191.55,338.28 191.69,338.29 191.84,338.28 191.98,338.24 192.12,338.14 192.26,337.99 192.41,337.77 192.55,337.48 192.69,337.11 192.83,336.67 192.97,336.15 193.12,335.54 193.26,334.86 193.40,334.11 193.54,333.29 193.69,332.40 193.83,331.46 193.97,330.47 194.11,329.44 194.26,328.37 194.40,327.28 194.54,326.18 194.68,325.07 194.82,323.97 194.97,322.89 195.11,321.83 195.25,320.82 195.39,319.85 195.54,318.94 195.68,318.09 195.82,317.32 195.96,316.63 196.11,316.04 196.25,315.54 196.39,315.13 196.53,314.84 196.67,314.63 196.82,314.54 196.96,314.55 197.10,314.67 197.24,314.88 197.39,315.18 197.53,315.57 197.67,316.05 197.81,316.62 197.96,317.26 198.10,317.97 198.24,318.76 198.38,319.60 198.52,320.49 198.67,321.42 198.81,322.40 198.95,323.39 199.09,324.41 199.24,325.44 199.38,326.47 199.52,327.50 199.66,328.51 199.81,329.50 199.95,330.46 200.09,331.38 200.23,332.26 200.37,333.09 200.52,333.87 200.66,334.59 200.80,335.25 200.94,335.84 201.09,336.36 201.23,336.82 201.37,337.21 201.51,337.54 201.66,337.79 201.80,337.99 201.94,338.13 202.08,338.22 202.22,338.27 202.37,338.29 202.51,338.28 202.65,338.26 202.79,338.20 202.94,338.09 203.08,337.94 203.22,337.72 203.36,337.45 203.51,337.11 203.65,336.70 203.79,336.23 203.93,335.69 204.07,335.09 204.22,334.43 204.36,333.71 204.50,332.94 204.64,332.12 204.79,331.25 204.93,330.35 205.07,329.42 205.21,328.46 205.36,327.48 205.50,326.50 205.64,325.51 205.78,324.54 205.92,323.58 206.07,322.64 206.21,321.74 206.35,320.87 206.49,320.05 206.64,319.29 206.78,318.58 206.92,317.95 207.06,317.39 207.20,316.90 207.35,316.50 207.49,316.18 207.63,315.95 207.77,315.81 207.92,315.77 208.06,315.81 208.20,315.93 208.34,316.13 208.49,316.41 208.63,316.77 208.77,317.20 208.91,317.70 209.05,318.26 209.20,318.89 209.34,319.57 209.48,320.31 209.62,321.08 209.77,321.90 209.91,322.75 210.05,323.63 210.19,324.53 210.34,325.44 210.48,326.36 210.62,327.28 210.76,328.19 210.90,329.09 211.05,329.97 211.19,330.82 211.33,331.65 211.47,332.43 211.62,333.18 211.76,333.89 211.90,334.55 212.04,335.15 212.19,335.71 212.33,336.20 212.47,336.64 212.61,337.03 212.75,337.36 212.90,337.63 213.04,337.85 213.18,338.02 213.32,338.14 213.47,338.23 213.61,338.27 213.75,338.29 213.89,338.29 214.04,338.27 214.18,338.23 214.32,338.15 214.46,338.03 214.60,337.87 214.75,337.65 214.89,337.39 215.03,337.06 215.17,336.69 215.32,336.26 215.46,335.78 215.60,335.24 215.74,334.65 215.89,334.02 216.03,333.34 216.17,332.62 216.31,331.86 216.45,331.07 216.60,330.25 216.74,329.41 216.88,328.55 217.02,327.68 217.17,326.81 217.31,325.94 217.45,325.08 217.59,324.23 217.74,323.41 217.88,322.61 218.02,321.85 218.16,321.13 218.30,320.45 218.45,319.82 218.59,319.25 218.73,318.73 218.87,318.28 219.02,317.90 219.16,317.59 219.30,317.35 219.44,317.19 219.59,317.10 219.73,317.08 219.87,317.14 220.01,317.27 220.15,317.46 220.30,317.71 220.44,318.03 220.58,318.41 220.72,318.85 220.87,319.34 221.01,319.88 221.15,320.48 221.29,321.11 221.43,321.79 221.58,322.50 221.72,323.23 221.86,324.00 222.00,324.78 222.15,325.58 222.29,326.39 222.43,327.20 222.57,328.01 222.72,328.82 222.86,329.61 223.00,330.39 223.14,331.15 223.28,331.88 223.43,332.59 223.57,333.26 223.71,333.90 223.85,334.50 224.00,335.06 224.14,335.57 224.28,336.04 224.42,336.46 224.57,336.84 224.71,337.17 224.85,337.45 224.99,337.69 225.13,337.88 225.28,338.03 225.42,338.14 225.56,338.22 225.70,338.26 225.85,338.28 225.99,338.29 226.13,338.28 226.27,338.26 226.42,338.20 226.56,338.12 226.70,338.00 226.84,337.84 226.98,337.64 227.13,337.40 227.27,337.11 227.41,336.78 227.55,336.40 227.70,335.98 227.84,335.51 227.98,335.00 228.12,334.45 228.27,333.87 228.41,333.24 228.55,332.59 228.69,331.91 228.83,331.20 228.98,330.47 229.12,329.73 229.26,328.97 229.40,328.21 229.55,327.44 229.69,326.68 229.83,325.93 229.97,325.18 230.12,324.46 230.26,323.76 230.40,323.08 230.54,322.44 230.68,321.83 230.83,321.26 230.97,320.74 231.11,320.26 231.25,319.84 231.40,319.46 231.54,319.15 231.68,318.89 231.82,318.70 231.97,318.56 232.11,318.49 232.25,318.48 232.39,318.53 232.53,318.64 232.68,318.80 232.82,319.01 232.96,319.27 233.10,319.58 233.25,319.95 233.39,320.36 233.53,320.81 233.67,321.30 233.82,321.83 233.96,322.40 234.10,323.00 234.24,323.63 234.38,324.28 234.53,324.95 234.67,325.64 234.81,326.34 234.95,327.05 235.10,327.77 235.24,328.48 235.38,329.19 235.52,329.89 235.66,330.59 235.81,331.26 235.95,331.92 236.09,332.56 236.23,333.17 236.38,333.76 236.52,334.31 236.66,334.84 236.80,335.33 236.95,335.78 237.09,336.20 237.23,336.57 237.37,336.91 237.51,337.21 237.66,337.47 237.80,337.70 237.94,337.88 238.08,338.03 238.23,338.15 238.37,338.24 238.51,338.30 238.65,338.33 238.80,338.34 238.94,338.35 239.08,338.34 239.22,338.32 239.36,338.27 239.51,338.20 239.65,338.10 239.79,337.97 239.93,337.80 240.08,337.60 240.22,337.36 240.36,337.08 240.50,336.77 240.65,336.41 240.79,336.02 240.93,335.60 241.07,335.14 241.21,334.64 241.36,334.12 241.50,333.57 241.64,332.98 241.78,332.38 241.93,331.75 242.07,331.11 242.21,330.45 242.35,329.78 242.50,329.11 242.64,328.43 242.78,327.75 242.92,327.07 243.06,326.41 243.21,325.75 243.35,325.11 243.49,324.49 243.63,323.90 243.78,323.33 243.92,322.79 244.06,322.28 244.20,321.81 244.35,321.38 244.49,320.99 244.63,320.65 244.77,320.35 244.91,320.10 245.06,319.91 245.20,319.76 245.34,319.66 245.48,319.62 245.63,319.63 245.77,319.68 245.91,319.79 246.05,319.93 246.20,320.13 246.34,320.36 246.48,320.64 246.62,320.96 246.76,321.32 246.91,321.72 247.05,322.15 247.19,322.62 247.33,323.11 247.48,323.63 247.62,324.18 247.76,324.75 247.90,325.34 248.05,325.94 248.19,326.56 248.33,327.18 248.47,327.82 248.61,328.45 248.76,329.09 248.90,329.72 249.04,330.35 249.18,330.97 249.33,331.57 249.47,332.16 249.61,332.74 249.75,333.29 249.89,333.82 250.04,334.33 250.18,334.81 250.32,335.27 250.46,335.69 250.61,336.09 250.75,336.45 250.89,336.78 251.03,337.08 251.18,337.35 251.32,337.58 251.46,337.78 251.60,337.95 251.74,338.09 251.89,338.21 252.03,338.29 252.17,338.36 252.31,338.40 252.46,338.42 252.60,338.42 252.74,338.42 252.88,338.42 253.03,338.39 253.17,338.35 253.31,338.28 253.45,338.19 253.59,338.07 253.74,337.93 253.88,337.75 254.02,337.55 254.16,337.31 254.31,337.04 254.45,336.74 254.59,336.41 254.73,336.05 254.88,335.66 255.02,335.24 255.16,334.79 255.30,334.32 255.44,333.83 255.59,333.31 255.73,332.77 255.87,332.22 256.01,331.65 256.16,331.07 256.30,330.48 256.44,329.88 256.58,329.28 256.73,328.68 256.87,328.08 257.01,327.49 257.15,326.90 257.29,326.33 257.44,325.77 257.58,325.23 257.72,324.71 257.86,324.21 258.01,323.73 258.15,323.29 258.29,322.88 258.43,322.49 258.58,322.15 258.72,321.84 258.86,321.57 259.00,321.34 259.14,321.14 259.29,321.00 259.43,320.89 259.57,320.83 259.71,320.81 259.86,320.83 260.00,320.90 260.14,320.99 260.28,321.13 260.43,321.31 260.57,321.52 260.71,321.76 260.85,322.04 260.99,322.35 261.14,322.70 261.28,323.07 261.42,323.47 261.56,323.90 261.71,324.35 261.85,324.82 261.99,325.32 262.13,325.83 262.28,326.35 262.42,326.89 262.56,327.44 262.70,327.99 262.84,328.55 262.99,329.11 263.13,329.68 263.27,330.24 263.41,330.79 263.56,331.34 263.70,331.88 263.84,332.41 263.98,332.92 264.12,333.42 264.27,333.90 264.41,334.36 264.55,334.80 264.69,335.22 264.84,335.62 264.98,335.99 265.12,336.34 265.26,336.66 265.41,336.95 265.55,337.22 265.69,337.46 265.83,337.67 265.97,337.85 266.12,338.01 266.26,338.15 266.40,338.26 266.54,338.35 266.69,338.41 266.83,338.46 266.97,338.49 267.11,338.50 267.26,338.51 267.40,338.51 267.54,338.50 267.68,338.48 267.82,338.44 267.97,338.38 268.11,338.30 268.25,338.20 268.39,338.08 268.54,337.94 268.68,337.76 268.82,337.56 268.96,337.34 269.11,337.09 269.25,336.81 269.39,336.51 269.53,336.18 269.67,335.83 269.82,335.46 269.96,335.06 270.10,334.64 270.24,334.20 270.39,333.74 270.53,333.27 270.67,332.78 270.81,332.28 270.96,331.77 271.10,331.25 271.24,330.72 271.38,330.19 271.52,329.65 271.67,329.12 271.81,328.59 271.95,328.06 272.09,327.55 272.24,327.04 272.38,326.54 272.52,326.06 272.66,325.60 272.81,325.15 272.95,324.73 273.09,324.33 273.23,323.95 273.37,323.60 273.52,323.28 273.66,322.99 273.80,322.73 273.94,322.50 274.09,322.31 274.23,322.15 274.37,322.03 274.51,321.94 274.66,321.89 274.80,321.87 274.94,321.89 275.08,321.95 275.22,322.03 275.37,322.15 275.51,322.30 275.65,322.47 275.79,322.68 275.94,322.92 276.08,323.18 276.22,323.48 276.36,323.79 276.51,324.13 276.65,324.50 276.79,324.88 276.93,325.29 277.07,325.71 277.22,326.15 277.36,326.60 277.50,327.07 277.64,327.54 277.79,328.03 277.93,328.52 278.07,329.01 278.21,329.51 278.35,330.01 278.50,330.51 278.64,331.01 278.78,331.50 278.92,331.98 279.07,332.46 279.21,332.93 279.35,333.38 279.49,333.82 279.64,334.25 279.78,334.66 279.92,335.05 280.06,335.43 280.20,335.78 280.35,336.12 280.49,336.43 280.63,336.73 280.77,337.00 280.92,337.25 281.06,337.47 281.20,337.67 281.34,337.86 281.49,338.01 281.63,338.15 281.77,338.27 281.91,338.37 282.05,338.44 282.20,338.50 282.34,338.54 282.48,338.57 282.62,338.59 282.77,338.60 282.91,338.60 283.05,338.59 283.19,338.58 283.34,338.55 283.48,338.51 283.62,338.46 283.76,338.38 283.90,338.29 284.05,338.18 284.19,338.05 284.33,337.89 284.47,337.72 284.62,337.52 284.76,337.30 284.90,337.06 285.04,336.80 285.19,336.52 285.33,336.22 285.47,335.89 285.61,335.55 285.75,335.19 285.90,334.81 286.04,334.42 286.18,334.01 286.32,333.59 286.47,333.16 286.61,332.71 286.75,332.26 286.89,331.80 287.04,331.34 287.18,330.87 287.32,330.40 287.46,329.93 287.60,329.46 287.75,328.99 287.89,328.53 288.03,328.08 288.17,327.64 288.32,327.20 288.46,326.78 288.60,326.38 288.74,325.99 288.89,325.62 289.03,325.27 289.17,324.94 289.31,324.63 289.45,324.35 289.60,324.09 289.74,323.85 289.88,323.65 290.02,323.47 290.17,323.31 290.31,323.19 290.45,323.10 290.59,323.04 290.74,323.01 290.88,323.00 291.02,323.02 291.16,323.07 291.30,323.15 291.45,323.25 291.59,323.37 291.73,323.53 291.87,323.70 292.02,323.91 292.16,324.13 292.30,324.38 292.44,324.65 292.58,324.94 292.73,325.25 292.87,325.58 293.01,325.92 293.15,326.28 293.30,326.66 293.44,327.05 293.58,327.45 293.72,327.86 293.87,328.28 294.01,328.71 294.15,329.14 294.29,329.58 294.43,330.02 294.58,330.46 294.72,330.90 294.86,331.34 295.00,331.78 295.15,332.21 295.29,332.64 295.43,333.05 295.57,333.46 295.72,333.86 295.86,334.25 296.00,334.63 296.14,334.99 296.28,335.34 296.43,335.67 296.57,335.99 296.71,336.29 296.85,336.57 297.00,336.84 297.14,337.09 297.28,337.32 297.42,337.53 297.57,337.72 297.71,337.89 297.85,338.04 297.99,338.18 298.13,338.30 298.28,338.40 298.42,338.48 298.56,338.55 298.70,338.60 298.85,338.64 298.99,338.67 299.13,338.68 299.27,338.69 299.42,338.69 299.56,338.69 299.70,338.68"/>
<text x="151.20" y="344.20" text-anchor="end" font-size="13.60" fill="#222" stroke="#222" stroke-width="0.22">0</text>
<line x1="157.40" y1="319.05" x2="159.90" y2="319.05" stroke="#333" stroke-width="1.00"/>
<line x1="299.70" y1="319.05" x2="297.20" y2="319.05" stroke="#333" stroke-width="1.00"/>
<text x="151.20" y="323.95" text-anchor="end" font-size="13.60" fill="#222" stroke="#222" stroke-width="0.22">0.4</text>
<text x="151.20" y="303.70" text-anchor="end" font-size="13.60" fill="#222" stroke="#222" stroke-width="0.22">0.8</text>
<text x="157.40" y="358.00" text-anchor="middle" font-size="13.60" fill="#222" stroke="#222" stroke-width="0.22">20</text>
<line x1="228.55" y1="339.30" x2="228.55" y2="336.80" stroke="#333" stroke-width="1.00"/>
<line x1="228.55" y1="298.80" x2="228.55" y2="301.30" stroke="#333" stroke-width="1.00"/>
<text x="228.55" y="358.00" text-anchor="middle" font-size="13.60" fill="#222" stroke="#222" stroke-width="0.22">30</text>
<text x="299.70" y="358.00" text-anchor="middle" font-size="13.60" fill="#222" stroke="#222" stroke-width="0.22">40</text>
<text x="293.6" y="441.9" text-anchor="middle" font-size="14.30" fill="#111" stroke="#111" stroke-width="0.22"><tspan font-family="'Liberation Serif', serif" font-style="italic" font-size="12" stroke-width="0.1">t</tspan><tspan dx="1.3"> / min</tspan></text>
</svg>
</body></html>
